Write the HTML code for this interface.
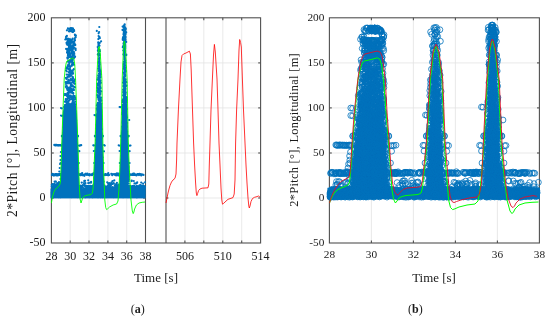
<!DOCTYPE html>
<html lang="en"><head><meta charset="utf-8"><title>Figure</title><style>html,body{margin:0;padding:0;background:#fff}body{width:550px;height:322px;overflow:hidden}svg{display:block}</style></head><body>
<svg width="550" height="322" viewBox="0 0 550 322" font-family="'Liberation Serif', serif" fill="#1a1a1a">
<defs><marker id="mk" markerWidth="8" markerHeight="8" refX="4" refY="4" markerUnits="userSpaceOnUse"><circle cx="4" cy="4" r="2.9" fill="none" stroke="#0072BD" stroke-width="0.8"/></marker><clipPath id="ca"><rect x="50.199999999999996" y="17.8" width="95.69999999999999" height="225.2"/></clipPath><clipPath id="cb"><rect x="325.9" y="17.8" width="217.0" height="225.2"/></clipPath></defs>
<rect width="550" height="322" fill="#fff"/>
<g stroke="#e3e3e3" stroke-width="0.8"><line x1="51.4" x2="145.5" y1="62.9" y2="62.9"/><line x1="51.4" x2="145.5" y1="107.9" y2="107.9"/><line x1="51.4" x2="145.5" y1="153" y2="153"/><line x1="51.4" x2="145.5" y1="198" y2="198"/><line x1="70.2" x2="70.2" y1="17.8" y2="243"/><line x1="89" x2="89" y1="17.8" y2="243"/><line x1="107.9" x2="107.9" y1="17.8" y2="243"/><line x1="126.7" x2="126.7" y1="17.8" y2="243"/><line x1="166" x2="260.6" y1="62.9" y2="62.9"/><line x1="166" x2="260.6" y1="107.9" y2="107.9"/><line x1="166" x2="260.6" y1="153" y2="153"/><line x1="166" x2="260.6" y1="198" y2="198"/><line x1="184.9" x2="184.9" y1="17.8" y2="243"/><line x1="203.8" x2="203.8" y1="17.8" y2="243"/><line x1="222.8" x2="222.8" y1="17.8" y2="243"/><line x1="241.7" x2="241.7" y1="17.8" y2="243"/><line x1="329.4" x2="539.4" y1="62.9" y2="62.9"/><line x1="329.4" x2="539.4" y1="107.9" y2="107.9"/><line x1="329.4" x2="539.4" y1="153" y2="153"/><line x1="329.4" x2="539.4" y1="198" y2="198"/><line x1="371.4" x2="371.4" y1="17.8" y2="243"/><line x1="413.4" x2="413.4" y1="17.8" y2="243"/><line x1="455.4" x2="455.4" y1="17.8" y2="243"/><line x1="497.4" x2="497.4" y1="17.8" y2="243"/></g>
<g stroke="#505050" stroke-width="1.1"><rect x="51.4" y="17.8" width="209.2" height="225.2" fill="none"/><line x1="145.5" x2="145.5" y1="17.8" y2="243"/><line x1="166" x2="166" y1="17.8" y2="243"/><rect x="329.4" y="17.8" width="210" height="225.2" fill="none"/><line x1="70.2" x2="70.2" y1="243" y2="240.6"/><line x1="70.2" x2="70.2" y1="17.8" y2="20.2"/><line x1="89" x2="89" y1="243" y2="240.6"/><line x1="89" x2="89" y1="17.8" y2="20.2"/><line x1="107.9" x2="107.9" y1="243" y2="240.6"/><line x1="107.9" x2="107.9" y1="17.8" y2="20.2"/><line x1="126.7" x2="126.7" y1="243" y2="240.6"/><line x1="126.7" x2="126.7" y1="17.8" y2="20.2"/><line x1="51.4" x2="53.8" y1="62.9" y2="62.9"/><line x1="145.5" x2="143.1" y1="62.9" y2="62.9"/><line x1="51.4" x2="53.8" y1="107.9" y2="107.9"/><line x1="145.5" x2="143.1" y1="107.9" y2="107.9"/><line x1="51.4" x2="53.8" y1="153" y2="153"/><line x1="145.5" x2="143.1" y1="153" y2="153"/><line x1="51.4" x2="53.8" y1="198" y2="198"/><line x1="145.5" x2="143.1" y1="198" y2="198"/><line x1="184.9" x2="184.9" y1="243" y2="240.6"/><line x1="184.9" x2="184.9" y1="17.8" y2="20.2"/><line x1="203.8" x2="203.8" y1="243" y2="240.6"/><line x1="203.8" x2="203.8" y1="17.8" y2="20.2"/><line x1="222.8" x2="222.8" y1="243" y2="240.6"/><line x1="222.8" x2="222.8" y1="17.8" y2="20.2"/><line x1="241.7" x2="241.7" y1="243" y2="240.6"/><line x1="241.7" x2="241.7" y1="17.8" y2="20.2"/><line x1="166" x2="168.4" y1="62.9" y2="62.9"/><line x1="260.6" x2="258.2" y1="62.9" y2="62.9"/><line x1="166" x2="168.4" y1="107.9" y2="107.9"/><line x1="260.6" x2="258.2" y1="107.9" y2="107.9"/><line x1="166" x2="168.4" y1="153" y2="153"/><line x1="260.6" x2="258.2" y1="153" y2="153"/><line x1="166" x2="168.4" y1="198" y2="198"/><line x1="260.6" x2="258.2" y1="198" y2="198"/><line x1="371.4" x2="371.4" y1="243" y2="240.6"/><line x1="371.4" x2="371.4" y1="17.8" y2="20.2"/><line x1="413.4" x2="413.4" y1="243" y2="240.6"/><line x1="413.4" x2="413.4" y1="17.8" y2="20.2"/><line x1="455.4" x2="455.4" y1="243" y2="240.6"/><line x1="455.4" x2="455.4" y1="17.8" y2="20.2"/><line x1="497.4" x2="497.4" y1="243" y2="240.6"/><line x1="497.4" x2="497.4" y1="17.8" y2="20.2"/><line x1="329.4" x2="331.8" y1="62.9" y2="62.9"/><line x1="539.4" x2="537" y1="62.9" y2="62.9"/><line x1="329.4" x2="331.8" y1="107.9" y2="107.9"/><line x1="539.4" x2="537" y1="107.9" y2="107.9"/><line x1="329.4" x2="331.8" y1="153" y2="153"/><line x1="539.4" x2="537" y1="153" y2="153"/><line x1="329.4" x2="331.8" y1="198" y2="198"/><line x1="539.4" x2="537" y1="198" y2="198"/></g>
<g clip-path="url(#ca)">
<rect x="50.4" y="188.5" width="95.3" height="9.9" fill="#0072BD"/>
<polygon points="55.3,189.5 56.6,188 58.4,186.5 59.7,185 60.4,182 60.9,172 61.3,160 61.8,143 62.9,112 64.2,104 65.3,104 66.2,104 67,104 69.1,104 70.9,104 72.9,104 74,104 74.8,104 75.6,104 76.8,112 77.9,143 78.8,170 79.5,190" fill="#0072BD"/>
<polygon points="93.1,188 93.8,173 95.1,143 96.7,104 98,104 98.7,104 99.2,104 99.6,104 100.3,104 101.9,104 102.9,143 103.6,170 104.3,185" fill="#0072BD"/>
<polygon points="118.9,190 119.8,170 120.7,143 122.2,104 123.4,104 124,104 124.4,104 124.8,104 125.6,104 127.1,104 128.3,143 129.2,165 129.9,180" fill="#0072BD"/>
<path d="M71.7 28.2h0M70.4 28h0M67.9 28.4h0M72.9 28.3h0M72.5 28.9h0M68.5 28.5h0M70.3 29.4h0M73.9 29.8h0M70.3 29.4h0M73.5 29.8h0M70.6 29.3h0M71.5 29.8h0M66.9 30.3h0M69.3 29.8h0M71.2 30.3h0M74.1 30.3h0M70.5 30.4h0M74.2 31h0M73 31.3h0M71.2 30.7h0M69.8 30.9h0M71.6 31.4h0M68.9 31.3h0M69.4 31.3h0M73.2 31.8h0M72.3 31.8h0M73 32.1h0M74.9 34.7h0M75.1 35.1h0M75 35.2h0M75.9 35.3h0M66.1 36.6h0M66.9 35.9h0M75.7 36.8h0M75.7 37.3h0M65.9 38h0M66.6 38.7h0M74.9 38.1h0M67.5 38.5h0M72.7 38.5h0M72.6 39.1h0M69.2 39h0M66.9 39.1h0M70.5 39.6h0M74.8 39.7h0M68.7 38.8h0M71 40.3h0M67.7 39.5h0M70.5 39.4h0M65.3 39.5h0M75 40.3h0M70.2 39.7h0M68.5 39.8h0M74.5 40.6h0M71.2 41.1h0M68.3 40.2h0M68.9 41.1h0M71.4 40.4h0M70.7 41.1h0M67.5 40.9h0M71.5 41.2h0M69.1 41.5h0M70.5 40.9h0M74.3 41.4h0M72.6 41.7h0M74.1 41.7h0M67.5 42.1h0M71.2 41.8h0M72.2 42.3h0M67.2 42.2h0M71.7 42.4h0M67.9 42.8h0M66.5 42.9h0M67.8 42.4h0M67.6 43.2h0M67.6 42.9h0M70.7 43.7h0M69.9 42.7h0M66.8 43.9h0M68.3 43.5h0M69.3 43.4h0M74.5 43.3h0M73.4 43.4h0M69.4 44.4h0M73.5 43.8h0M74.9 44.6h0M68.2 44.4h0M75.2 44.5h0M75.3 45.1h0M73.2 45.1h0M68.9 44.6h0M67.3 44.8h0M74.8 45h0M70.2 45.2h0M73.4 44.9h0M72.4 45.3h0M73.7 45.7h0M73.1 45.4h0M74.2 45.1h0M71.3 46.8h0M68.9 46.2h0M69.3 45.8h0M72.3 45.8h0M73.1 46.4h0M71.1 46.5h0M69.1 47h0M70.4 46.9h0M73.5 47.1h0M70.3 47.7h0M71.7 46.8h0M70.9 47.7h0M74.2 47.5h0M69.8 48.2h0M69.8 47.6h0M69.8 47.8h0M71.2 48.7h0M71.3 48.2h0M71.9 47.7h0M70.6 48.1h0M68.1 48.7h0M66.1 48.9h0M70.7 48.3h0M75.6 48.6h0M67.1 49h0M72.9 48.8h0M75.2 49.1h0M68.5 49.5h0M67.2 49.6h0M71 49.7h0M72.8 49.7h0M70.3 49.8h0M75.7 50.1h0M67.3 50.6h0M68.8 49.8h0M69.6 50.9h0M67.3 50.6h0M72 50.2h0M71.1 50.6h0M68.3 51h0M72.8 51.4h0M68.3 51h0M67.1 52.2h0M73.3 51.6h0M68.5 51.8h0M74.1 52.1h0M71.7 52.9h0M68.9 52.3h0M69.2 52.3h0M72.5 52.8h0M71.4 52.8h0M73.9 52.4h0M67.1 52.7h0M73.2 53h0M73.6 53.1h0M68 53.7h0M68.6 53.3h0M70.2 53.5h0M74.3 53.9h0M69.7 53.7h0M73.6 53.2h0M72.7 54.5h0M70.6 53.9h0M68.6 54.4h0M73.1 54.5h0M69.9 54.7h0M73.7 55.1h0M70.1 54.7h0M67.9 55.2h0M72.7 55h0M69.1 55h0M68.6 54.8h0M73.1 54.7h0M73.6 55.2h0M69.6 55.8h0M70.5 55.5h0M74.6 56h0M72.6 56.5h0M70 55.8h0M72.8 56.1h0M69.5 56h0M69.1 56.2h0M75.1 56.8h0M72.6 56.8h0M67.7 57.1h0M69.3 57.1h0M72.2 56.9h0M74.9 57.1h0M72.8 57.4h0M74.1 57.9h0M71.2 57.4h0M68.2 57.2h0M68.5 57.6h0M72 58.8h0M67.3 57.9h0M74.1 57.8h0M73.3 58.6h0M67.7 58.7h0M70.9 59.5h0M72.3 59.9h0M72.6 59.5h0M71.3 59.8h0M72.7 59.5h0M72.6 60.6h0M71.9 60h0M72.6 59.6h0M71.1 60.4h0M70.5 60.1h0M69 60.8h0M68.7 61h0M70.1 61.9h0M67.8 61.6h0M71.8 61.7h0M72.3 61.3h0M69.2 62.2h0M69.4 62.7h0M72.9 63.1h0M73 62.5h0M72.2 63.1h0M72.9 63.3h0M69.3 63.9h0M68.7 64.3h0M68.3 64.7h0M68.9 64h0M73.9 64.8h0M67.9 65.6h0M72 64.6h0M69.2 65.3h0M71.9 65.7h0M68.4 66.2h0M70.7 66.3h0M67.6 66.7h0M70 66.6h0M67 67.3h0M67.7 67.6h0M70.1 67.8h0M69.7 68.9h0M66.3 68.4h0M68.2 68.9h0M68 68.8h0M73.8 69.2h0M70 69.5h0M73.1 70h0M72.9 70.4h0M66 70.5h0M69.5 70.7h0M71.7 70.5h0M70.3 70.9h0M72.5 71h0M66.8 71.3h0M68.8 72.2h0M69.1 72.2h0M72.8 72.3h0M71.8 72.9h0M71.1 72.7h0M71.4 72.6h0M70.7 72.7h0M73 73.7h0M70.2 73.7h0M66.7 74.6h0M71.3 75.1h0M70.7 74.5h0M70.2 74.5h0M70.6 74.7h0M68.3 74.7h0M69.3 75.7h0M71.5 75.7h0M69 76.2h0M72.9 77.1h0M69.7 76.7h0M67.6 76.8h0M66.7 77.6h0M72.5 77.8h0M67.7 77.5h0M65.9 77.9h0M67.2 77.8h0M73.1 78.3h0M72.6 78.5h0M72.4 78.9h0M70.7 79h0M66.5 78.9h0M72.7 79h0M68.5 79.9h0M68.7 80.2h0M74.7 79.5h0M70.4 80.5h0M68.7 80.3h0M70.5 80.5h0M70.5 80.6h0M69.4 80.5h0M67.3 81.5h0M72.1 80.7h0M68.4 81.3h0M73.3 81.1h0M74.3 81.4h0M67.1 82.6h0M73 82.4h0M68.8 82.2h0M65.7 82.2h0M70 83.2h0M74.9 83.8h0M71.3 83h0M74.2 83.6h0M66 83.9h0M67.9 83.5h0M70.7 84.3h0M71.6 84.8h0M70.8 85.2h0M72.3 85.3h0M72.6 86.4h0M71.5 85.7h0M66.8 86h0M73.4 86.3h0M66.1 86.1h0M71.1 86.1h0M74.1 86.9h0M69.8 87.4h0M65.9 86.9h0M75 87.3h0M68 87.6h0M69.4 87.8h0M71.3 88.5h0M68.9 88.5h0M66.8 88.5h0M70.9 88.6h0M73.4 89.2h0M68.6 89.2h0M71.6 89h0M73.5 89.5h0M67.2 89.3h0M67.4 89.9h0M74.1 90h0M70 90.2h0M73 90h0M70.6 89.7h0M68.4 90.2h0M68.7 90.9h0M72 90.2h0M70.3 91.1h0M70.5 90.8h0M69.8 91.6h0M69.1 91.5h0M72 91.6h0M69 92.3h0M68.4 92h0M69.1 92.2h0M70.6 92.5h0M68.5 92.2h0M68 92.7h0M73.2 92.9h0M72.2 92.9h0M67.5 93.1h0M73.3 93.4h0M65.8 94h0M68.6 93.6h0M73.3 93.5h0M65.7 94.6h0M64.8 94h0M67.6 94.9h0M67.7 94.5h0M65 95.2h0M70.8 95.5h0M67.2 95.6h0M73.3 95.5h0M67.1 95.5h0M74.3 96.2h0M69.3 95.7h0M67 96.1h0M72.3 96.5h0M74.8 96.2h0M70.3 97.2h0M70.2 97.4h0M68.5 97.1h0M68.8 96.9h0M73.8 97.3h0M71.8 97.7h0M72.4 97.3h0M72 97.7h0M72.1 98.2h0M68 98.1h0M75.1 97.9h0M69.4 98.6h0M67.3 98.9h0M72.9 98.8h0M72.8 98.5h0M67.4 98.4h0M75 99.5h0M73.1 99.3h0M65.7 99.2h0M73.8 99.9h0M72.8 100.1h0M71.6 99.2h0M75.2 99.4h0M66.7 99.8h0M69.7 99.8h0M68.5 101h0M69 100.3h0M69.2 100.4h0M72.9 101.9h0M64.9 101.7h0M68.5 101.2h0M65.7 101.8h0M66.4 101.4h0M72.9 101.2h0M66.6 101.1h0M75.1 101.8h0M65.7 101.2h0M65.5 101.3h0M68 102.7h0M66.5 101.8h0M67.4 102.3h0M72.4 102.3h0M72.5 103h0M66.6 103.3h0M67.2 102.5h0M66.3 102.6h0M74.3 103.5h0M73.6 102.9h0M71.4 103.8h0M70.7 104.2h0M72.1 103.7h0M68.8 103.3h0M68.7 103.7h0M67.9 104.7h0M75.3 104.4h0M71.6 105.1h0M67.8 104.4h0M70.9 104.9h0M68.1 104.9h0M65.6 105.4h0M66.8 105.3h0M65.5 105.6h0M72.1 105.5h0M66.6 105.6h0M74.3 105.7h0M70.6 106.9h0M67.6 106.4h0M66.2 106.7h0M69.5 106.6h0M65.4 107.3h0M68.4 106.7h0M71 106.9h0M69.6 107.7h0M71.3 107.6h0M64.2 106.9h0M74.3 107.8h0M67.3 107.7h0M73.4 107.7h0M68.1 107.7h0M73.7 107.7h0M70 108.5h0M73.3 108h0M71.7 108.1h0M66.7 108.7h0M65.1 108.5h0M70.8 108.9h0M74.4 109h0M74.1 108.6h0M73.6 109.8h0M66.7 109.7h0M70.1 109.4h0M66.7 109.8h0M72.7 110h0M70.8 109.6h0M74.2 109.7h0M68.1 110.4h0M72.4 110.8h0M74.5 110.6h0M74.6 111.8h0M75.4 111.1h0M72.7 111.1h0M67.4 111.1h0M74.4 111.3h0M74.8 112.2h0M67.2 112.2h0M66.6 112.3h0M69.9 112.5h0M73.4 112.5h0M71.7 111.9h0M69.1 112.8h0M72.8 112.3h0M68.7 113.4h0M71.3 113.2h0M73.4 112.4h0M73.7 113.1h0M66.2 112.5h0M72.5 112.6h0M72.2 112.3h0M73.3 113.7h0M73.8 113.4h0M72 113h0M65.9 113.3h0M66.1 113.6h0M73.8 113.5h0M74.1 114.1h0M75.5 114.2h0M65.2 113.8h0M67.4 113.7h0M64.9 114.1h0M67.4 113.4h0M65.9 114.6h0M66.9 114.8h0M74.3 114.3h0M65.4 114.4h0M67.8 113.8h0M70.9 113.8h0M66.6 114.6h0M74.8 115.2h0M66 114.2h0M75.5 114.6h0M68.3 114.9h0M63.6 115.2h0M71.3 114.5h0M72.7 115.1h0M73.5 115.2h0M70.2 114.9h0M73.9 115.1h0M68.1 115.3h0M75 115.1h0M66.7 115.6h0M73.9 116h0M71.7 115.2h0M73 115.3h0M72.7 116.4h0M75.4 115.4h0M68.6 116.4h0M71.1 115.7h0M71.9 115.9h0M66.4 116.3h0M68.9 115.9h0M74.9 115.8h0M72.3 116.6h0M63.7 116.7h0M71.2 116.6h0M74.5 116.2h0M71.7 116.8h0M70.3 116.9h0M72.7 117.2h0M71.2 117.5h0M73.6 117.9h0M67.6 117h0M69.6 117.6h0M74.3 117.5h0M70.8 117.6h0M64.8 117.9h0M66.8 118h0M69.7 117.6h0M74.1 118.5h0M70.7 118.1h0M74.2 117.4h0M65.3 118h0M71.2 117.9h0M63.9 118.8h0M69.5 118.5h0M67.9 118.4h0M66.5 118.1h0M74 118.5h0M71.3 119.3h0M70.3 119h0M72 118.6h0M74.3 118.8h0M68.5 118.2h0M69.7 119h0M65.7 118.8h0M64.9 119.2h0M64.7 118.7h0M70.8 119.2h0M71.4 119.6h0M68 119.2h0M64.2 119.1h0M65.1 120.3h0M71.9 119.4h0M69.2 119.3h0M74 120.1h0M66.8 120h0M74.1 119.6h0M68.6 120.4h0M66.8 119.9h0M76.1 120.5h0M72.2 120.1h0M66.8 120.2h0M65.6 120.3h0M68.7 120h0M72.5 120.4h0M69.5 120.6h0M74.2 120.7h0M71.2 120.4h0M71.5 120.5h0M75.4 120.5h0M72.6 120.4h0M66 120.7h0M67.5 121.3h0M70.1 121.4h0M74.3 120.7h0M66.8 121.3h0M71.8 121h0M69 121.8h0M64.7 121.2h0M69.8 122.3h0M65.1 121.4h0M72 121.7h0M64.7 121.2h0M72.6 121.9h0M75.1 121.2h0M72.4 121.9h0M68.4 121.8h0M68.6 122.6h0M74.2 122.8h0M75.5 122.2h0M68.4 122.3h0M67.3 122.4h0M70.2 122.4h0M70.1 122.6h0M69.1 123.2h0M72.9 122.5h0M72.7 122.6h0M72.8 123h0M64.9 122.2h0M70 122.6h0M72.7 123.4h0M67.1 123.8h0M69.1 123h0M65.8 123.8h0M73.7 123.4h0M72.7 123.4h0M70.9 122.6h0M64.4 123.8h0M66 123.7h0M67.2 123.7h0M71.1 123.2h0M71.2 123.3h0M68.8 124.1h0M75.1 123.7h0M73.3 124.2h0M69.6 123.9h0M73.5 124.5h0M73.2 124.3h0M64.6 123.9h0M65.6 124.2h0M72.1 124.7h0M69.5 125h0M68.3 124.9h0M65.5 124.7h0M67.5 125h0M69.1 124.4h0M72 124.6h0M72.7 124.9h0M66.9 125.2h0M69.5 125.5h0M71.5 125.2h0M69.9 125.1h0M65.2 125.3h0M71.4 125.1h0M70.5 125.2h0M75.1 125.2h0M75.8 125.6h0M65.7 125.9h0M73.3 125.9h0M66 125.3h0M65.1 125.4h0M67.5 126.3h0M69.4 125.7h0M73.9 126h0M74.5 126.3h0M73.5 126.3h0M74.2 126.3h0M66.9 126.2h0M64 126.6h0M68 126.5h0M70.2 126.5h0M73.7 127h0M67.6 126.8h0M70.7 126.8h0M73.6 126.9h0M64.9 127.2h0M73.9 126.9h0M65.9 126.4h0M68.5 126.8h0M65.5 127.2h0M63.5 127.2h0M72.6 127.4h0M72.3 127.2h0M68.1 127.5h0M70.4 127h0M74.9 126.8h0M66.6 127.6h0M73 127.1h0M65.4 128.1h0M66.2 128.1h0M67.8 128h0M68.8 127.9h0M68.9 127.9h0M70.4 127.7h0M68.4 128.9h0M71 127.9h0M72 128.1h0M71.9 128h0M67.6 128.2h0M73 128h0M64.3 128h0M66.1 128.3h0M67.3 128.9h0M66.9 129.2h0M72.6 128.2h0M69.3 129h0M65.9 128.7h0M75.2 128.2h0M67.4 129.5h0M74.7 128.9h0M65.8 128.8h0M66.8 129.1h0M73.5 129h0M73.9 129.5h0M71 129h0M71.8 129.1h0M67.3 129.6h0M71.7 129.5h0M70.1 130h0M69 130.4h0M75.7 129.9h0M66.1 130h0M73.9 129.3h0M65.5 129.7h0M71.9 129.9h0M74.9 130.4h0M72 130.3h0M66 130.9h0M74.3 130.4h0M75.9 130.4h0M67 130.5h0M74.4 130.1h0M65.3 130.8h0M73.6 130.4h0M64.6 130.6h0M73.9 130.7h0M64.5 130.8h0M69.9 130.9h0M75.2 130.9h0M72.3 131.1h0M66.4 130.9h0M70.9 131.7h0M70.5 131.6h0M65.2 131.6h0M76 131.3h0M73.3 131.6h0M72 131.1h0M69.6 131.4h0M65.7 131.7h0M69.5 132.2h0M73.8 132h0M67.5 131.8h0M71.1 131.7h0M64.3 132h0M76.2 132h0M68.5 132.1h0M70 131.8h0M73.9 132.7h0M73.3 132.4h0M67.1 132.2h0M68.1 132.4h0M67.2 132.7h0M63.3 132.8h0M76.1 132.9h0M75.8 132.3h0M63.8 133.1h0M68.5 132.8h0M71.2 133.3h0M66.6 132.6h0M65.2 133h0M69.7 133.1h0M68.1 132.9h0M65.5 133.4h0M64.7 133.4h0M65.8 133.8h0M64.3 133.3h0M71.5 133.9h0M75.6 134.2h0M67 133.7h0M74.1 134h0M73 133.7h0M67.4 133.6h0M67.9 133.6h0M72.9 133.3h0M75.1 133.7h0M66.9 134.4h0M64.5 134h0M72.6 134.5h0M69.7 134.6h0M68.9 133.9h0M69.7 134h0M75.4 134.8h0M65.5 134.6h0M67.1 134.7h0M75.4 134.9h0M65.1 134.8h0M63.2 135.2h0M73.7 134.6h0M73.6 134.5h0M65.9 135.2h0M68.1 134.6h0M70.6 135.1h0M66.2 135.6h0M68.8 135.2h0M70.9 134.7h0M68.1 135.4h0M70 134.8h0M72.2 135.7h0M70.7 135.6h0M70 135.6h0M66.8 135.3h0M69.2 136h0M68.2 135.5h0M72 135.4h0M73.8 135.5h0M72.9 136.2h0M67.9 136.5h0M76.3 136.4h0M70.7 136.5h0M66.5 136.4h0M72.8 136.1h0M66.9 136.3h0M65.5 136.9h0M65.6 136.4h0M71.1 136.8h0M72.8 136.6h0M74.4 136.8h0M72.5 137.4h0M67.8 136.4h0M63.2 137.4h0M66.4 136.9h0M66.1 137h0M73.9 137.2h0M73.8 136.8h0M71.3 137.5h0M63.3 137.6h0M69.7 137h0M75.6 137.3h0M66 137.4h0M64 137.3h0M69.2 137.8h0M75 137.6h0M76.4 137.9h0M73.3 137.6h0M72.9 137.8h0M63.6 138.4h0M67 137.8h0M64.1 138.7h0M76.1 138.2h0M71.7 138.3h0M66.7 138.4h0M64.8 138.1h0M74.9 138.4h0M75.3 139h0M75.2 139.2h0M72 138.6h0M64.7 138.9h0M66.5 139.2h0M70.1 138.7h0M67.8 138.2h0M69.7 139.1h0M67 139.4h0M65 139.5h0M76.7 139.3h0M72 139.4h0M75.7 139.3h0M70.7 139h0M68.9 139.1h0M75.4 138.6h0M69.1 139.1h0M76 139.6h0M64.8 139.4h0M73.9 139.6h0M73.6 139.7h0M72.7 139.4h0M72.9 139.8h0M76.1 139.4h0M67.1 139.8h0M70.6 140.1h0M65.3 140.9h0M71 140h0M71.8 140.1h0M67.6 140.7h0M66.3 140h0M69.1 140.1h0M66.4 140.8h0M68.5 141.3h0M74.9 140.9h0M67.6 141h0M72 140.3h0M72.1 140.3h0M69 140.9h0M67.4 140.4h0M73.4 141.6h0M64.2 140.8h0M74.3 141.6h0M67.5 141.5h0M74.2 141.6h0M65.2 141.4h0M71.8 140.7h0M63.2 141.2h0M75.1 142h0M65.4 141.5h0M66.6 142h0M69.4 141.9h0M67.8 141.5h0M74.3 141.5h0M74 141.6h0M65.9 141.3h0M70.4 141.9h0M75.3 142.7h0M73.9 141.7h0M67.3 142.2h0M72.4 142.3h0M72.7 142.2h0M65.8 142.2h0M69.9 142.8h0M68.7 142.6h0M74.3 142.7h0M66.2 142.9h0M70.4 142.8h0M75 143h0M72.7 142.5h0M66.7 143h0M70.1 143.2h0M66.9 143.1h0M69.6 143.3h0M72.3 143.4h0M62.8 143.7h0M75 143.7h0M76 142.9h0M64.6 143.1h0M74.8 143.5h0M70.9 144.2h0M64.1 143.4h0M69.2 143.7h0M64 143.2h0M66.9 143.6h0M72.4 143.8h0M66.9 143.5h0M75.4 144.2h0M67 143.6h0M67.6 143.9h0M67.6 143.8h0M71.1 144h0M73.6 143.9h0M70.3 144.2h0M75.3 144.3h0M76.5 144.2h0M69 144.8h0M72.4 144.4h0M63.6 144.1h0M74.1 145h0M75.9 145.2h0M72.3 144.8h0M75 144.5h0M65 144.9h0M71 145.3h0M66.9 145.8h0M65.4 145.2h0M69 145.2h0M65.9 144.8h0M75.9 145h0M64.7 145.5h0M65.1 145.3h0M72.8 145.7h0M69.3 145.9h0M68.8 146.2h0M70.9 145.4h0M73.4 145.9h0M69.2 146.2h0M68 145.6h0M71.8 146.1h0M64.1 146.4h0M74.3 146.7h0M71.2 145.9h0M67.6 146.4h0M67.2 146.3h0M70 146.1h0M76.2 146h0M73.8 146.5h0M67.2 145.9h0M75.7 147.3h0M69 147.2h0M64.5 146.1h0M74.6 146.5h0M63.7 146.9h0M73.9 147.3h0M63.5 146.6h0M68 146.3h0M72.8 147.5h0M68.8 147.3h0M73.1 147.2h0M63.8 146.6h0M73.3 147h0M74.6 147.2h0M65.4 147.6h0M65 146.8h0M76.1 147.9h0M74.1 148.3h0M65.1 147.8h0M63.9 147.5h0M63.7 147.4h0M68.7 147.8h0M69.9 147.2h0M69.3 147.6h0M64.5 148.3h0M71.6 147.6h0M75.1 148h0M65 148.7h0M68.2 148.2h0M72.4 148.3h0M65.5 148.3h0M70.4 148.1h0M65.3 148.4h0M72.3 148.8h0M64.9 148.9h0M73.3 148.6h0M68.5 148.8h0M77.1 149h0M76.6 148.6h0M69 148.8h0M72.7 149.9h0M74.3 149.7h0M68.3 149h0M67.2 148.7h0M68.1 149.3h0M65.5 149.3h0M67.6 149.4h0M62.6 149.1h0M69.1 150.3h0M71.3 150h0M71 149.8h0M71.6 149.5h0M66.1 149.6h0M64.2 149.5h0M73.3 149.5h0M67.8 149.9h0M69.7 149.7h0M71 150.2h0M66.8 150.7h0M71.8 149.8h0M64.6 149.8h0M70.9 150.3h0M67.1 150.9h0M77.2 150h0M64.6 151.2h0M69.3 151h0M67.2 150.5h0M63.9 150.7h0M65.7 150.1h0M68.6 150.4h0M70.4 150.6h0M67.8 150.2h0M71.4 152h0M64.3 151.7h0M63.9 150.7h0M71.7 151.5h0M66.9 151h0M75.6 151.1h0M73.8 150.9h0M71.9 151.4h0M67.8 151.6h0M75.1 152.3h0M65.2 151.6h0M73.2 151.8h0M69.4 151.6h0M69.9 151.9h0M66.7 152.3h0M66.3 151.9h0M67.5 151.9h0M73.4 151.8h0M63.7 152.4h0M70.8 152h0M76.3 151.7h0M65.9 152.7h0M63.6 152.2h0M72.1 152.6h0M63 152.5h0M64.8 152.6h0M69.1 152.7h0M74.5 152.6h0M71.6 152.5h0M65.1 152.3h0M72.2 153.2h0M74.2 152.3h0M64.9 153h0M69.7 152.8h0M72.8 152.8h0M72.4 153.3h0M67 153h0M74.3 153.3h0M70.3 153.3h0M67.6 153.5h0M68 152.8h0M64.4 153h0M73.8 153.9h0M66.5 154.2h0M68.6 153.3h0M72.5 153.5h0M72.3 153.8h0M66.3 154.4h0M66.4 153.4h0M64 153.7h0M63.1 154.8h0M75.6 154.3h0M75.3 154.3h0M73.3 153.6h0M67.6 154.7h0M71.8 154h0M77 154.7h0M72.9 154.5h0M67.7 155h0M66.8 154.4h0M75.6 154.6h0M70.3 155.2h0M70.1 154.4h0M70 155h0M74.6 154.7h0M66.6 154.6h0M66.7 155.2h0M70.3 155.2h0M75.6 155.1h0M70.3 155.4h0M69.6 155.5h0M68.9 154.8h0M72 155.6h0M66.6 155.4h0M72.6 155.8h0M69.1 155.8h0M63.7 156.3h0M68.1 155.2h0M70 156.4h0M76.7 156h0M71.6 155.7h0M65.2 155.9h0M75.6 155.7h0M65.3 155.7h0M70.1 156.1h0M67.4 155.8h0M72.5 155.9h0M76.4 156.2h0M75 156.1h0M66.1 156.3h0M65.2 156.3h0M62.6 156.9h0M72.3 156.3h0M69.7 156.9h0M68.6 156.6h0M72.6 157h0M67 156.7h0M74.9 157h0M76.5 157h0M75.1 157h0M75.4 156.5h0M63.8 157.2h0M73.1 157.2h0M70.9 157.2h0M72.3 157.2h0M73.7 156.6h0M75.6 157.1h0M74.3 156.9h0M69.1 158h0M68.9 157.7h0M70 158h0M70.6 157.2h0M74.4 157.3h0M70.1 157.9h0M71.3 157.6h0M63.5 158h0M65 158.3h0M63.1 158.6h0M73.7 158.2h0M67.8 158h0M64.7 158.5h0M67.9 158.2h0M73.3 158.3h0M64.9 158.1h0M77.1 158.6h0M75.8 158.4h0M65.8 158.6h0M71 158.9h0M65.8 158.8h0M71.3 158.4h0M70.7 158.7h0M69.5 158.5h0M66 159.5h0M74.8 158.8h0M71.8 159.1h0M72.4 158.9h0M76.2 159.4h0M76.1 159.4h0M69.5 159.8h0M76.7 159.2h0M65.4 160h0M72.9 160h0M69 159.7h0M63.3 159.8h0M75.9 160.1h0M69.4 159.5h0M66.7 159.9h0M75.8 159.7h0M74.2 160.5h0M67.5 160.4h0M66.6 159.8h0M69.4 160.3h0M67.3 160.8h0M68.3 160.3h0M67.4 160.7h0M65.2 160.6h0M74.3 161.1h0M69.6 160.7h0M71.5 160.7h0M66 160.6h0M75.4 161.4h0M67 160.3h0M69.6 160.5h0M67.7 160.9h0M62.8 161.2h0M74.2 161.2h0M73.8 160.6h0M64.3 161.1h0M74.6 161.5h0M63.3 161.3h0M73.7 161h0M65.6 161.7h0M70 161.4h0M73 162.1h0M66.6 161.5h0M66.9 161.9h0M64.6 162.3h0M74.9 161.9h0M67.8 162h0M76.4 161.2h0M67.7 161.6h0M68.5 161.7h0M74.1 162.2h0M72.7 162.4h0M67.3 162.7h0M71.5 162.7h0M65.1 161.7h0M63.4 162.7h0M76.2 161.7h0M74.2 162.6h0M64.7 162.9h0M65.2 163.1h0M73 162.5h0M73.3 162.1h0M72.7 162.8h0M67.5 163.1h0M74 162.3h0M68.5 162.4h0M76.1 163.1h0M73.7 163.5h0M72.1 162.8h0M68.6 163.4h0M64 163.6h0M65.2 163.5h0M69.8 163.5h0M63.5 163.3h0M68.8 163.7h0M70 163.9h0M65.1 163.5h0M76.4 163.9h0M68.7 163.1h0M63.8 163.3h0M72.4 163.3h0M67.9 163.2h0M77.1 163.5h0M67.9 163.6h0M70.2 163.8h0M76.3 164.7h0M68.1 164.1h0M62.3 164.4h0M75 164.5h0M71.9 164.6h0M73.3 164.6h0M64.1 164h0M77.2 164.4h0M72.4 163.9h0M65.6 164.8h0M71.2 164.8h0M70.5 165h0M71.6 165.3h0M67.8 165.4h0M71 165h0M72.1 164.9h0M69.4 164.9h0M69 164.6h0M71.7 165.4h0M68.6 164.9h0M67.4 165.7h0M69.7 165.6h0M66.4 165.7h0M68.4 164.9h0M70.3 164.7h0M77.8 164.8h0M67.3 164.9h0M72.2 166.4h0M62.7 165.3h0M71.1 165.4h0M75.6 166.5h0M66.4 165.7h0M70.2 165.8h0M62.6 165.4h0M68.9 166.1h0M74.5 165.8h0M63.3 166.8h0M73.6 166h0M73.1 166h0M75 166.6h0M68.7 166.5h0M66.7 166.1h0M72.4 166.7h0M75.2 167h0M66.7 166.6h0M71.8 167.1h0M74.8 166.6h0M65.6 166.3h0M76.2 166.8h0M75.3 167.3h0M76.7 167.1h0M77.5 166.8h0M62.6 167.2h0M73.6 167.4h0M67.6 167.2h0M68.4 167h0M69.9 166.9h0M63.2 167.6h0M62.4 167h0M66.4 167.5h0M73.8 167.3h0M67.5 167.7h0M62.1 167.7h0M66 168h0M66.9 167.7h0M75.9 167.6h0M65.3 168.2h0M63.5 167.4h0M68.8 168.5h0M64.2 168.7h0M64.3 168.6h0M71.8 168.2h0M67.3 168.6h0M67.5 168.9h0M66.2 168h0M77.6 168.6h0M69 168.6h0M76.2 168.5h0M70.2 168.8h0M62.1 169h0M72.6 169.2h0M70.9 168.9h0M69.6 168.9h0M72 169.1h0M74.2 168.8h0M70.6 168.5h0M71.3 169.1h0M74.7 169.7h0M69.7 169.2h0M71.9 169.9h0M73.4 169.5h0M72.5 169.5h0M72.3 169.4h0M72.2 169.8h0M76.4 169.3h0M68.2 169.1h0M76.7 169.6h0M75.7 169.7h0M66.6 169.9h0M62.9 169.8h0M70.4 169.7h0M74 169.2h0M70.5 170.2h0M76.2 169.7h0M71.7 170.3h0M64 170.2h0M63.6 170.7h0M67 170.3h0M72.2 170.5h0M63.7 169.9h0M73 169.6h0M75.2 170.7h0M69.9 171h0M68.4 171.3h0M68.9 171h0M69.6 170.7h0M63.6 171h0M66.2 170.5h0M75.9 170.4h0M77 170.4h0M74.6 170.7h0M73.6 171.1h0M71.6 171.4h0M64.1 171.6h0M64.3 171.3h0M75.7 171.2h0M69.2 171.2h0M70.3 170.8h0M69.2 171.5h0M72.1 171h0M71.8 171.2h0M69.2 171.2h0M65.9 171.5h0M69.4 171.8h0M67.4 171.7h0M69.8 171.6h0M76.7 171.7h0M67.7 171.2h0M65 172.2h0M64.3 172h0M68.7 172.4h0M73.9 172.1h0M68.9 172.9h0M72.5 172.5h0M72.5 171.6h0M63.4 172.3h0M73.6 172.3h0M76.3 171.7h0M72.4 173.1h0M75.8 172.4h0M71.7 172.6h0M77.4 173h0M71.3 172.9h0M65.9 172.4h0M67.1 173.2h0M70.6 173.4h0M63 172.7h0M72.9 173.5h0M72.7 173.6h0M73 172.9h0M67.8 173h0M73.2 173.5h0M71.6 173.4h0M64.6 173.6h0M65.5 173h0M69 172.6h0M66.4 173.9h0M64.9 173.2h0M70.2 174.4h0M62.2 173.7h0M75.5 173.9h0M71.5 173.4h0M73.2 173.6h0M64.3 173.8h0M72.4 174h0M66.9 174.6h0M65 174.5h0M65.4 174.7h0M75.4 174.8h0M74.9 174.1h0M74.6 174.1h0M65.4 173.7h0M68.2 174.4h0M62.9 174.9h0M71 175.3h0M77.7 175.2h0M66.1 174.5h0M72.8 174.7h0M68.5 175.2h0M62.9 174.7h0M68.3 174.8h0M66.9 175.7h0M68.3 175h0M65.6 175.5h0M62.4 175h0M67.8 175.5h0M75.8 175.2h0M76.3 174.7h0M75 175h0M70.8 175.1h0M76.3 175.7h0M72.6 175.3h0M72.9 175.3h0M65.5 175.8h0M63.2 176.1h0M70.7 175.5h0M70.6 175.7h0M68.3 175.5h0M72.2 175.6h0M67.9 176.6h0M70.8 176.1h0M74.3 175.8h0M74.2 175.9h0M73 176h0M65.8 176.2h0M75.9 176.8h0M69.1 176.4h0M70.7 176.5h0M70.8 177.2h0M71.1 176.4h0M72.1 176.9h0M76.8 177.1h0M72.8 177.1h0M70.1 176.9h0M71.1 176.4h0M71.4 176.8h0M68.4 176.9h0M64.2 177.4h0M67.1 177.3h0M77.9 176.8h0M66.8 177.2h0M75.1 176.9h0M75.5 177.5h0M67.2 177.2h0M72.4 176.9h0M63.5 177.4h0M62.9 177.8h0M63.2 178.2h0M64.5 178h0M76.1 177.7h0M64.1 177.6h0M71 177.6h0M73 177.1h0M62.6 177.9h0M75 177.5h0M72.3 178.3h0M76.8 178.7h0M78 177.9h0M69.4 178.6h0M66.9 178.1h0M65.9 178.4h0M77 177.6h0M72.9 178.7h0M68.3 177.9h0M64.9 178.4h0M65.8 178.8h0M75.2 178.8h0M72.5 178.8h0M74.4 179h0M64.7 178.5h0M73.5 178.4h0M72.9 178.9h0M77.8 178.6h0M73.4 179.7h0M73.7 179.6h0M71 178.9h0M77.1 179.3h0M71.5 178.9h0M70.2 179.5h0M63.7 179.3h0M73.6 178.9h0M72.1 179.3h0M70.8 179.8h0M67.6 180.1h0M65.4 180.1h0M67.1 179.3h0M63.8 179.6h0M73.1 179.6h0M62.9 180.1h0M70.3 179.5h0M75.4 179.2h0M70.2 180.4h0M71.3 180.1h0M74.3 180.2h0M64.5 180.1h0M64.8 180.3h0M75.3 180.1h0M62 180.7h0M68.4 180.5h0M75.7 180.8h0M74.6 180.5h0M65 180.8h0M74.1 180.6h0M63.9 180.9h0M66.1 180.8h0M68.9 180.6h0M70.6 180.4h0M71.4 181.2h0M74.7 181.1h0M68.9 181.1h0M75 181.3h0M68.6 181.5h0M62.8 181.5h0M70 181.1h0M62.4 181.4h0M64.9 181.1h0M68 181.3h0M66.3 181.2h0M72.7 181.7h0M70.4 181.3h0M74.5 181.5h0M66.5 181.6h0M61.8 182.3h0M76.2 181.7h0M77 182h0M68.8 181.4h0M75.3 182h0M64.4 182.9h0M66.1 182.6h0M72.8 181.8h0M66.4 181.9h0M67.8 181.5h0M61.7 182.4h0M64.8 182.9h0M77.3 182.2h0M64.1 182.1h0M67.1 182.5h0M71.4 182.7h0M77.7 182.8h0M72.8 182.7h0M67.2 182.4h0M66.8 182.6h0M70 183.1h0M69.9 182.4h0M63.6 182.8h0M68.9 183.2h0M72.9 183.4h0M65.6 183.5h0M66 183.1h0M74.6 183.3h0M65.5 183.7h0M66.2 183.5h0M63.4 182.9h0M75.2 182.8h0M73.7 183.8h0M77 183.9h0M69 184.3h0M69.5 184.3h0M66.3 183.6h0M69.5 183.4h0M73.4 183.5h0M68.2 183.9h0M62.5 183.8h0M71.8 184.3h0M66.1 184.6h0M62 184.5h0M62.3 183.8h0M70.3 183.7h0M77.2 184.6h0M66.4 184.2h0M63.2 184.1h0M63.2 184h0M77.3 184.5h0M78 185.4h0M72.5 185.3h0M67.3 184.5h0M64.9 185.3h0M74.1 184.8h0M62.9 184.8h0M65.5 185.2h0M74.5 185.2h0M71.3 184.7h0M72.2 185.1h0M73.2 185.3h0M75.2 185h0M68.1 185.6h0M71.1 185h0M74.4 185.1h0M63.6 185.5h0M72.7 185.3h0M65.9 186.2h0M66.8 186h0M73.7 185.8h0M67.7 185.5h0M64.9 185.9h0M71.5 186.3h0M66.7 185.8h0M64 185.9h0M63.6 186h0M64.2 186.3h0M62.2 186.4h0M76.8 186.3h0M64.8 185.9h0M63 186.1h0M74.3 185.8h0M74.9 186.5h0M66.3 186h0M68.6 186.3h0M64.7 186.9h0M72.1 187.2h0M60.3 186.6h0M63.8 187.3h0M69.6 186.9h0M76.8 186.7h0M74.2 186.8h0M61.7 186.9h0M78 186.7h0M65.2 186.4h0M74.7 187.6h0M76.4 187.8h0M74.1 187.4h0M77.4 187.7h0M65.5 187h0M67.3 187.2h0M63.3 186.8h0M76.5 186.9h0M76.3 186.9h0M70.6 187.1h0M62.1 187.3h0M71.5 187.7h0M69.7 187.9h0M69.4 187.5h0M70.7 187.9h0M64.7 187.7h0M59.1 187.6h0M68 187.6h0M60.9 187.9h0M61.5 188.4h0M70.2 188.7h0M71.9 188h0M58.3 188h0M76.1 188.5h0M69.4 187.9h0M65.6 188.2h0M75.5 188.4h0M71.7 188.4h0M75.5 188.5h0M73.3 188.5h0M66.1 188.6h0M71.5 188.4h0M77.6 189.2h0M57.3 188.5h0M60.1 188.9h0M71.7 188.9h0M77 188.8h0M67.7 188.9h0M76.3 189.7h0M67 189.2h0M74 189.3h0M62.5 188.8h0M74.4 189h0M56.7 188.8h0M63 189.4h0M59.8 189.1h0M58.7 189h0M59.3 189.4h0M57.9 189.3h0M63.7 190.1h0M68.8 189.4h0M59.7 189.4h0M70.8 189.5h0M70.2 190.1h0M77.1 189.5h0M72.4 190.2h0M64.8 190h0M71.6 190.4h0M74.9 190.5h0M73.2 189.9h0M72.6 190h0M73.5 189.8h0M72.9 189.9h0M64.7 190h0M67.9 190.9h0M76.2 191.2h0M69.6 190.7h0M73.4 191.1h0M67.6 191h0M76.2 190.8h0M75.7 190.9h0M69.5 191.4h0M66.7 190.9h0M67.5 190.6h0M73.3 191.6h0M72 191.5h0M76.3 191.3h0M74.9 191.2h0M71.7 190.7h0M65.7 191.3h0M73.2 191.4h0M69.8 190.7h0M76.1 190.8h0M66.4 191.9h0M73.9 191.4h0M73.1 192h0M71.8 191.4h0M63.4 191.4h0M68.8 191.7h0M73.3 192.1h0M71.3 191.6h0M75.1 191.2h0M72.3 192.1h0M67.1 192.1h0M64.6 192.3h0M63.2 192.2h0M72.6 192.7h0M69.8 191.8h0M63.9 192.6h0M75.1 192.1h0M64.6 191.6h0M75.5 192.5h0M74.4 192.9h0M64.6 192.8h0M62 192.6h0M65.8 192.5h0M63.3 192.6h0M74 192.8h0M68.8 192.8h0M66.9 192.2h0M64 192.9h0M75 193.1h0M75.7 193.5h0M65.3 193h0M73.2 192.8h0M74.2 193.5h0M69.6 193.4h0M63 192.9h0M68 193.9h0M65.7 192.9h0M70.7 193.7h0M64.7 193.3h0M65.7 193.2h0M67.7 193.6h0M64.1 194h0M64.3 194h0M65.3 194h0M71.2 193.4h0M67.9 193.6h0M68.3 193.8h0M71.7 194.8h0M77 194h0M75.1 194.7h0M64.7 193.9h0M67.8 194.2h0M69.2 194.6h0M75.3 194.1h0M66.7 194.3h0M69.1 194.5h0M74.3 194.6h0M73.8 194.4h0M63.2 194.6h0M64.5 195h0M72.5 194.2h0M73.5 194.7h0M65.3 195h0M64.9 194.3h0M65 194.5h0M65.2 194.6h0M62.7 194.9h0M75.7 195.1h0M63.1 194.7h0M67.3 195.1h0M69.6 195.7h0M65.7 195h0M65 195.4h0M75.1 195.2h0M69 196.2h0M76.4 195h0M70.1 196.4h0M76.1 196.1h0M67.2 196.1h0M75.9 196.2h0M75.7 195.6h0M70.7 195.9h0M68.2 196.1h0M99.3 27h0M96.8 30.9h0M99.1 32h0M98.6 33.3h0M98.6 36h0M99.4 36.8h0M99.9 38.1h0M99.1 38.1h0M98.3 39.1h0M101.1 41.3h0M98.2 42.4h0M99.7 42.9h0M98.3 43.8h0M98.8 44.2h0M98.5 45.3h0M99.5 45.7h0M98.3 46.4h0M97.7 47.1h0M99.6 49.8h0M98.2 49.1h0M97.9 50.6h0M98 50.9h0M99.9 51.2h0M98.7 53.2h0M98.2 53.5h0M99.4 53.7h0M97.8 54.6h0M99.6 54.5h0M99 54.8h0M99.7 55.4h0M98.9 55.9h0M99.2 57.8h0M98.9 58.8h0M99.3 58.7h0M98.9 59.1h0M99.1 59.6h0M99.2 60.3h0M99 61h0M99 61.3h0M99.3 61.6h0M99.7 62.7h0M98.8 62.3h0M98.6 62.2h0M99.4 63.5h0M99.8 64.2h0M99 63.8h0M99 65.3h0M99.1 65.4h0M99.6 65.2h0M99.5 66.9h0M99.8 67h0M98.8 66.5h0M99.1 67.4h0M98.8 68.2h0M99.6 67.5h0M99.7 68.4h0M98.7 69h0M98.2 68.7h0M99 68.6h0M99.7 70.3h0M99.2 69.9h0M100.1 70.1h0M100.3 71.2h0M98.6 70.9h0M99.8 71.6h0M99.3 71.7h0M99.4 72h0M100.2 72.8h0M99.2 73.5h0M99 73.6h0M100.3 74.2h0M99.6 73.9h0M100.4 75h0M98.2 75.4h0M100.6 74.6h0M99 75.5h0M98.7 76.7h0M98.9 76.4h0M99 76.2h0M98.5 76.8h0M100.6 77.1h0M98.6 77.4h0M99.4 77.8h0M98.2 77.7h0M98.6 78.6h0M99.7 78.8h0M98.7 79.3h0M99.2 78.9h0M97.9 79.4h0M99.6 79.9h0M97.5 79.6h0M98 79.8h0M99.9 80.2h0M98.8 81.1h0M100.1 80.9h0M99.3 81.9h0M100.6 80.7h0M100.2 81.7h0M98.9 82h0M100.2 82.7h0M100.9 82.8h0M98.3 83.5h0M98 83.3h0M99 84h0M97.5 83.8h0M99.9 84.3h0M99.3 84.4h0M98.3 84.7h0M99.4 84.9h0M98.5 85h0M99.3 86.3h0M97.9 85.5h0M99.5 86.7h0M100.1 86.2h0M100.1 87h0M97.4 87.7h0M100.1 87.6h0M100 88h0M100.7 88.1h0M100.1 87.8h0M100.3 88.2h0M98.6 89.2h0M98.6 88.6h0M98 89h0M99.6 89.5h0M98.5 90h0M99.7 89.3h0M99.9 90h0M98.4 90.2h0M97.2 90.8h0M98 90.4h0M101.2 91.4h0M99.2 91.9h0M98.4 91.8h0M99.3 91.6h0M99.8 92.3h0M99.6 92.1h0M98.8 92.2h0M98 92.7h0M99.7 93h0M99.4 93.9h0M100.4 93.5h0M99.4 93.1h0M99.9 94.1h0M99.5 94.7h0M99.8 94.3h0M99.3 94.3h0M99.4 94.5h0M100.3 94.4h0M99.8 94.2h0M98.5 95.8h0M99.8 94.5h0M97.2 95.1h0M98.9 95.7h0M97.9 96.6h0M98.8 95.9h0M99.6 96.2h0M99 96.6h0M99.3 96.3h0M97.7 97.1h0M101.1 97.5h0M100.5 97.8h0M99.7 97.9h0M98.4 97.8h0M98.5 98.2h0M100.7 98h0M98.5 98.4h0M98.3 99h0M100.9 99h0M99 99h0M99.6 99.3h0M99.5 100.1h0M99.5 100h0M100.7 100h0M98.8 100.4h0M99.2 100.9h0M101.3 100.5h0M100.3 101.6h0M99.5 101.4h0M99.6 101.8h0M99.3 101.2h0M99.7 102.1h0M100.8 101.7h0M99.5 102.7h0M99.9 102.2h0M100 102.6h0M100.4 102.8h0M99.1 103.3h0M97.9 102.8h0M101.3 103.6h0M100 103.6h0M99.7 103.4h0M100.1 104.1h0M97.5 103.9h0M98.4 104.9h0M99.6 105.2h0M100.7 104.8h0M96.9 105.3h0M99.4 104.8h0M98.4 105.6h0M97.3 105.2h0M99.6 105.5h0M97.5 105.5h0M100.3 106.2h0M100 106.4h0M98.2 106.2h0M97.9 106.7h0M100.4 107.6h0M98 106.9h0M98.2 107.7h0M100 107.1h0M97.4 108.3h0M100.9 107.9h0M98.2 107.7h0M100.2 108.1h0M96.9 108.4h0M100.2 108.9h0M97.8 108.1h0M98.5 109.5h0M99.7 109.5h0M96.9 109h0M97.3 109.7h0M98.6 110.1h0M98.2 109.5h0M97.4 110.5h0M101.2 109.9h0M99.8 110.1h0M101.3 111.2h0M99.8 110.7h0M98.9 111.2h0M100.9 111h0M100.3 110.7h0M100.3 111.4h0M100 111.2h0M98.5 111.4h0M98.7 112.1h0M100.2 111.9h0M97.8 112.1h0M99.9 112.4h0M101.2 112.7h0M98.7 112.3h0M98.3 113h0M99.1 113.6h0M100 113.3h0M100.5 113.3h0M98.9 113.5h0M100.3 114.4h0M100.1 114.2h0M101.2 114.8h0M100.4 114.4h0M96.8 114.4h0M99.2 114.7h0M99.2 115.7h0M98.8 115.5h0M100.7 115.9h0M101.3 116.1h0M96.9 116.4h0M99.5 115.7h0M98 116.1h0M100 116.4h0M99.5 117.1h0M100.5 116.2h0M100 117.6h0M98 117h0M97.4 117.3h0M99.5 118h0M97.2 117.7h0M98.4 117.8h0M97.3 118h0M98.3 117.8h0M100 117.8h0M98.6 118.4h0M100.3 119.2h0M99.9 119h0M100.4 119.9h0M99.6 119h0M98 119.3h0M97.9 120.1h0M101.1 120.1h0M101.4 119.1h0M99.1 120.4h0M99.9 120.4h0M100.1 120.2h0M99 121.4h0M101 120.9h0M99 120.6h0M99.4 121.5h0M100.5 121.3h0M97.3 121.3h0M100.8 122.3h0M101.3 121.2h0M99.9 121.5h0M99.8 122h0M98.2 122.1h0M99.7 122.6h0M99.9 122.7h0M98 122h0M99.7 122.6h0M100.1 123.4h0M99.1 123.3h0M99.3 123.5h0M100.1 123.3h0M98.2 124.1h0M99 123.3h0M99.7 124h0M101.2 123.7h0M98.4 124.5h0M98.8 124.4h0M98.9 124.7h0M99.7 125.3h0M99.3 125h0M98.2 125.4h0M96.6 124.8h0M100.5 126h0M98.6 125.9h0M100.2 125.3h0M99.6 125.8h0M98.6 125.6h0M100.1 126h0M100.3 126.1h0M99.7 127.1h0M100.4 126.5h0M99.4 126.8h0M98.9 127.4h0M100.1 126.9h0M98.2 127.4h0M99.7 127.4h0M97.8 128h0M97 127.8h0M100.2 128.3h0M96.5 128.7h0M100.8 129.1h0M97.4 128.9h0M98.6 128.3h0M96.6 128.8h0M100.1 129.2h0M98.6 128.9h0M97.9 129.9h0M101.7 129.2h0M100.4 129.9h0M99.9 130.3h0M99.2 130.6h0M98.2 130.6h0M96.7 130.9h0M100.3 130.7h0M100.3 130.4h0M97.7 131.6h0M97.6 131.3h0M96.4 131.8h0M97.2 131.7h0M99.8 131.4h0M96.8 132.1h0M96.2 132.7h0M98.1 132.7h0M97.9 132.7h0M98.7 132.9h0M98.1 132.6h0M97.2 132.4h0M99.2 133.8h0M98.1 133.6h0M98.7 132.7h0M96.6 133.7h0M101.6 133.4h0M98 133.6h0M99 133.7h0M101.8 134.1h0M98.2 133.6h0M101.6 134.2h0M98.6 134.9h0M98.9 135.2h0M100.3 135.5h0M98.8 135.1h0M99 135.6h0M99.8 135.7h0M101.1 135.5h0M96.2 135.6h0M99.7 136.1h0M99 136.4h0M97.9 136.3h0M100.1 137.1h0M99.9 136.8h0M100.6 136.9h0M97.9 136.7h0M101.1 137.3h0M98 137.3h0M102 137.9h0M100 137.7h0M97.8 137.4h0M97.5 137.4h0M100 137.8h0M97.9 138.4h0M99.4 137.8h0M98.9 138.8h0M100 138.6h0M97.2 139.3h0M99.7 138.9h0M100.6 139.1h0M98.8 139.8h0M98.9 140.1h0M100.7 139.5h0M99 139.2h0M96.2 139.9h0M99.2 140.3h0M99.6 139.9h0M97.4 140.1h0M97.7 140.6h0M99 141.1h0M99.6 141h0M101 141.7h0M100.4 141.2h0M100.2 141.7h0M97.7 141.6h0M99.4 141.8h0M98.1 141.5h0M100.1 142.5h0M100.5 142.2h0M98.8 141.9h0M100.3 142.9h0M97.9 142.8h0M100.6 142.6h0M96.2 143.6h0M98.4 142.9h0M100.7 143.5h0M97.5 143.8h0M99.8 143.9h0M97 143.5h0M98.2 144.7h0M100.2 144.1h0M100.3 143.9h0M99.1 144.6h0M98.8 144.5h0M99.2 144.5h0M97.1 145.3h0M98.6 145.2h0M101.6 145h0M98.4 145.2h0M101.2 146.2h0M100.1 145.8h0M95.9 146h0M96.3 146.4h0M100.4 146.3h0M98 146.3h0M98.1 146.5h0M100.8 147.2h0M99.2 146.6h0M98.6 146.6h0M98.3 147.7h0M97 147.4h0M98.5 147.9h0M97.8 147.4h0M100.8 148h0M100.5 148.5h0M99.9 148.7h0M100.8 148h0M98.3 148.1h0M100.1 149.1h0M102 148.3h0M101.5 148.3h0M96.8 148.7h0M98.8 149h0M101.2 149h0M98.5 149.7h0M97.3 149.3h0M96.6 149.6h0M98.8 150.1h0M97.7 150.3h0M100.7 150.6h0M95.9 150h0M100.4 150.6h0M100.5 150.7h0M97.8 150.5h0M99.4 151.2h0M97.1 151.4h0M99.5 151.5h0M98.5 150.6h0M99.1 150.8h0M95.6 150.6h0M97.5 152h0M100.7 151.7h0M101.1 151.6h0M98.9 151.2h0M100.9 152.4h0M96.6 152h0M97.8 151.9h0M98 153h0M99.9 152.3h0M99.4 152.6h0M99.3 153.2h0M100.1 153.6h0M97.8 153h0M97 152.8h0M100.5 153.3h0M101.2 153.8h0M99.2 153.8h0M100.8 153.8h0M98 153.8h0M96.9 154h0M100.1 154.9h0M97.6 154.3h0M97.2 154.3h0M100.4 155h0M95.5 154.3h0M97.9 154.8h0M96.7 155h0M98.6 154.8h0M96.8 154.6h0M97.9 155.4h0M101 155.6h0M100.5 156h0M98.8 156.4h0M99.2 156.4h0M99.1 156.4h0M98.9 156.1h0M95.4 156.5h0M99.7 156.8h0M95.3 157.4h0M99.1 156.6h0M99.1 157.3h0M98 157.4h0M96 157.3h0M98.1 158.3h0M102.5 157.4h0M98.4 158.1h0M96.7 157.9h0M100.5 158.1h0M101.6 158.5h0M96.7 158.4h0M98.8 158.2h0M101.7 158.7h0M101.4 159h0M96.7 159.4h0M100.2 159.4h0M100.3 159.8h0M100.7 159.8h0M100.5 158.7h0M102.2 160h0M98.4 159.4h0M97.4 159.7h0M100.5 160.1h0M100.6 160.1h0M101.1 160.3h0M100.6 160.5h0M97.9 160.7h0M100.6 160.9h0M98.2 160.5h0M98.2 161.6h0M97.4 161.4h0M98.6 161.3h0M98.2 161.6h0M98.1 161.4h0M99.4 161.5h0M100 161.4h0M100.4 162.4h0M99.5 162h0M99.9 162.3h0M99.9 162.3h0M98.7 162.4h0M97.1 162.5h0M97.7 163.1h0M100.5 163h0M95.9 163h0M100.6 163.2h0M99.9 163.4h0M99.2 163.1h0M97.7 163.8h0M100.8 163.9h0M101 163.6h0M97.1 164.3h0M100.8 164.9h0M100.9 164.1h0M100.7 163.9h0M95.6 164h0M96.7 164.9h0M96.7 164.2h0M99 164.3h0M98.9 165.4h0M102.3 165.6h0M100 165.4h0M98.9 165.6h0M101.1 166.1h0M99.9 165.3h0M96.4 165.8h0M97.1 166.1h0M95.1 165.8h0M97.9 166.1h0M98.4 166.3h0M96.4 166.6h0M96.6 166.5h0M99.2 166.6h0M96.7 166.9h0M99.3 167.8h0M98.5 167.7h0M97.9 167.1h0M101 167.9h0M99.2 167.7h0M97.7 168.3h0M100.4 167.2h0M99.7 168h0M97.7 168.5h0M99.4 167.9h0M97.7 167.9h0M101.4 168.9h0M99.5 168.4h0M99.7 169.1h0M98.3 168.9h0M99.6 168.9h0M101 169.3h0M101.1 168.8h0M96.4 170.1h0M101 169.9h0M96.3 170.2h0M95.9 170.4h0M98 170h0M96.8 170.3h0M99.1 170.3h0M98.2 170.6h0M98.1 170.2h0M100.2 170.5h0M98.7 170.8h0M97.5 170.8h0M98.1 170.6h0M95.5 171.2h0M98.5 171.6h0M100.3 172.3h0M101.1 172.2h0M102 172h0M97.6 172.3h0M97.5 172h0M100.8 171.8h0M95 172.5h0M98.6 172.4h0M99.2 173.4h0M95.5 173.5h0M101.9 172.5h0M100.7 172.5h0M97.3 173.3h0M98.8 173.6h0M99.5 172.9h0M100.1 173.6h0M100.2 174.2h0M102.8 174.3h0M95.8 173.5h0M100.5 174h0M102.2 174.6h0M95.8 173.9h0M96.1 174.2h0M97.3 174.1h0M98.8 174.3h0M100.6 174.6h0M100.2 174.2h0M96.5 174.5h0M96.5 175.6h0M97 175.1h0M96.4 175.9h0M100.4 175.2h0M98.4 175.8h0M101.1 175.6h0M99.7 176.4h0M97 176.2h0M98.9 176.4h0M95.5 175.8h0M98.3 176.1h0M96.5 176.3h0M97.5 177.4h0M95.7 176.4h0M97.8 177h0M97.3 176.8h0M97.7 177.6h0M99.7 177.2h0M99.8 177.2h0M99.9 177.4h0M100.1 178.2h0M97.6 177.7h0M100.3 177.9h0M97 178.3h0M99.2 178.1h0M95.5 178.6h0M101.7 178h0M94.4 177.9h0M99.6 178.3h0M96.9 179.2h0M100 178.5h0M95.8 178.9h0M96 178.6h0M99.8 179.8h0M100.3 179.4h0M102.5 178.8h0M99 179h0M100.7 179.3h0M101.1 179.4h0M96.4 180h0M98.5 179.7h0M97.7 180.2h0M95.5 180h0M95.5 180.3h0M96 180.5h0M98.1 180.8h0M100.9 180.5h0M100.2 180.3h0M97.3 180.3h0M96.3 181.6h0M102.2 181.2h0M96.2 181.3h0M96.5 180.7h0M102.9 181.7h0M100 182h0M95.1 181.8h0M97.9 181.3h0M97.6 181.6h0M96.2 182.1h0M103.3 181.8h0M96.5 182.3h0M103 182h0M98.8 182.7h0M98.3 182.5h0M96.3 183.1h0M96.3 182.9h0M95.7 183.9h0M100.5 183.6h0M99.8 183h0M99.5 182.8h0M101.5 182.8h0M101.3 183.5h0M101 183.7h0M99.1 184.2h0M101.4 183.8h0M95.8 184.7h0M99.1 184.7h0M102.7 184.6h0M96.2 184.9h0M96.5 183.8h0M96 184.5h0M96.1 184.8h0M97.4 184.7h0M98 184.8h0M95.2 184.8h0M99.3 185.1h0M98.2 184.6h0M97.4 185.3h0M100.7 185.5h0M96.8 185.7h0M97.2 185.4h0M97.3 185.8h0M101.8 186h0M95.4 185.9h0M98 186.2h0M99.2 186.2h0M100.4 186.3h0M101.2 186.4h0M98.8 186.6h0M96.4 186.6h0M97.1 186.7h0M98.8 186.3h0M97.6 186.9h0M101.1 186.9h0M101.3 187.6h0M99.5 187.2h0M97.8 187h0M99.1 188h0M96.6 187.2h0M99 188.1h0M97.5 187.3h0M98.5 187.5h0M99.5 188.2h0M98.8 188.2h0M101.2 188.6h0M98 188.6h0M98.9 188.6h0M97.8 188.5h0M96.4 189h0M100.4 189.2h0M95.9 189.1h0M98.6 189.8h0M96.7 189h0M99.8 189.8h0M98.6 189.1h0M102.6 189.7h0M103 190.3h0M98.6 189.6h0M97.6 189.9h0M102.4 189.6h0M101.4 190.2h0M100.2 190.3h0M100.4 190.2h0M97.6 190h0M99.2 190h0M101.7 191.4h0M100.9 190.4h0M102.6 191.4h0M100.3 191.3h0M102 191h0M100.9 191h0M100.1 191.7h0M100.8 191.4h0M99.2 191.2h0M101.2 191.5h0M101.3 191.4h0M100.1 191.8h0M97.2 192h0M97.8 192h0M98.6 191.7h0M97.5 192h0M102.1 192.4h0M98.7 193.2h0M99.1 192.4h0M101.7 193.2h0M99.4 192.8h0M97.3 192.4h0M101.1 193.5h0M99.5 192.9h0M99.8 193.4h0M96.3 192.9h0M98.8 194.2h0M100.5 194.3h0M99.1 194.4h0M95.5 193.8h0M96.6 193.9h0M103.1 194.3h0M101.5 194.8h0M99 194.3h0M95.6 194.2h0M97.2 194.2h0M100.2 194.6h0M98 194.6h0M101.5 194.2h0M100 195.3h0M100.1 195.8h0M101.7 195h0M97.1 195.1h0M96.1 195.5h0M98.8 195.4h0M97.4 195.9h0M98.9 196.2h0M97.4 195.3h0M124.7 24.4h0M124.4 25.3h0M124.4 25.1h0M123.9 25.6h0M124.4 26.5h0M124.7 26.3h0M124.6 26.8h0M122.6 26.6h0M124.3 27.9h0M124.1 26.9h0M123.8 28h0M124.1 28.2h0M124.8 28.1h0M124.2 28.3h0M125.7 28.4h0M124.2 28.4h0M124.8 29.5h0M125.9 29h0M124.6 29.2h0M125.1 29.9h0M122.5 29.9h0M124.5 30.7h0M122.9 30.2h0M124.3 30.7h0M124.2 31.7h0M125.4 30.7h0M124.9 31.8h0M126.1 32h0M124.2 32.3h0M123.8 32.2h0M125.8 32.1h0M124.3 32.9h0M126.2 32.6h0M123.6 33.7h0M124.5 33.9h0M124.2 34h0M123.5 34.5h0M125.5 34.4h0M125 35.2h0M125.1 34.7h0M124.1 35.2h0M125.2 35.5h0M123.8 35.3h0M124.8 35h0M125.2 36.2h0M125.1 36.1h0M125.2 36.9h0M123.4 36.8h0M125.6 37.2h0M125.6 36.9h0M125.1 37.5h0M123 37.3h0M124.5 38.5h0M125.4 38.2h0M123.7 38.3h0M122.8 38.6h0M123.8 39.6h0M124.4 38.8h0M125.6 39.8h0M124.9 40.1h0M122.7 39.8h0M123.5 39.9h0M124.9 40.9h0M124.1 41.3h0M126.2 41.9h0M124.6 41.5h0M125.3 41.4h0M124.1 41.2h0M125.1 42.4h0M125.2 42.5h0M124.5 42.9h0M124.6 42.3h0M124.1 42.4h0M123.5 43.3h0M124.1 43.7h0M124.8 44.3h0M124.3 43.8h0M124.8 43.7h0M125.2 44.1h0M124 45.3h0M124.9 44.9h0M124.3 45.4h0M123.9 45.1h0M123.6 45.2h0M125.2 45.2h0M125.3 46h0M123.1 46.3h0M125.3 47.3h0M123.6 47h0M122.8 47.2h0M125.3 46.6h0M123.8 47.9h0M124 48.4h0M125 48.2h0M125.3 48.3h0M124.6 49.3h0M124 49.1h0M123.9 49.1h0M123.8 48.8h0M124.4 49.4h0M123.7 49.8h0M125.2 50h0M123.3 50.6h0M125.1 51.1h0M124.9 50.4h0M124.6 51.3h0M124.8 51.5h0M125.1 51.8h0M124.9 51.6h0M124.4 52.2h0M123.9 52.6h0M125.1 52.3h0M124.6 52.8h0M124.3 53h0M124.6 53.1h0M124.8 54h0M124 53.4h0M123.8 54.2h0M123.8 53.9h0M123.4 54.4h0M126.3 54.5h0M124.7 55.5h0M126.3 55.1h0M124.8 55.6h0M124.6 56.5h0M124.1 55.9h0M124.7 57.2h0M124.7 56.2h0M124.4 56.7h0M124.4 57.8h0M124.4 57.3h0M124.9 58h0M124.9 58.8h0M124.3 58.9h0M124.7 58.4h0M124.7 58.7h0M124.6 59.7h0M124.3 59.1h0M124.8 60h0M125.3 60.3h0M124.6 60.2h0M124.4 59.5h0M125 60.3h0M124.6 61.5h0M125 61.3h0M124.9 60.8h0M124.4 62.1h0M123.9 61.9h0M124.5 62.4h0M125.4 62.6h0M124.7 62.5h0M124.4 62.2h0M124.6 63.7h0M124.8 63.5h0M124.8 63.5h0M123.8 63.8h0M123.8 64.4h0M123.7 64.7h0M124.5 64.9h0M123.9 64.2h0M124.8 65.3h0M125.1 65.2h0M123.8 66h0M124.2 66h0M124.2 65.8h0M124.5 65.5h0M124.9 66.4h0M124 66.8h0M124.4 67.7h0M124.3 67h0M124 68.1h0M125.5 67.2h0M123.7 68.8h0M124.6 67.8h0M125.1 68.6h0M124.9 68.7h0M124.6 69.6h0M125.1 68.8h0M125 69.4h0M124.4 70h0M125.2 70.6h0M124.7 69.8h0M125.8 71.1h0M124.4 70.9h0M124.9 71.4h0M125.6 71.6h0M124.8 71.4h0M124.5 71.9h0M124.7 72.5h0M123.5 72.6h0M124.8 72.6h0M124.6 73.2h0M124.8 73.7h0M124.9 72.9h0M124.9 74.1h0M124.2 73.6h0M124 74h0M124.9 74.4h0M124.2 74.6h0M124.5 74.2h0M125.1 74.9h0M125.3 75.3h0M124.6 75.3h0M124.3 75.7h0M124.5 76.4h0M125.1 76.5h0M125 76.6h0M124.5 77.3h0M123.7 77.2h0M124.6 78.2h0M124.1 77.7h0M124.4 78.3h0M123.8 78.7h0M125.7 79.3h0M123.6 78.8h0M124.9 78.9h0M124.3 78.8h0M124.4 79.3h0M123.7 79.7h0M124.7 80.1h0M125.1 79.9h0M124 80.7h0M123.7 80.9h0M125 81.1h0M124.3 81.3h0M125.9 81.4h0M125 82.6h0M126.3 82.3h0M124.5 82.4h0M123 82.6h0M124.9 83.4h0M123.9 83.3h0M123.9 83.7h0M125 84.1h0M123.8 84h0M124.8 84.3h0M125.1 84.5h0M125.2 84.5h0M124.8 85.1h0M124.1 85h0M123.4 86.3h0M126.1 86.1h0M126.4 85.6h0M123.3 86.1h0M124.8 86.2h0M124.4 87.1h0M123.9 86.6h0M124.9 87.1h0M125.3 88.1h0M124.1 87.6h0M124.3 88.3h0M125.2 88h0M124.6 88.5h0M125.6 88.9h0M125.1 89.5h0M123.7 89h0M124 89.8h0M123.1 89.8h0M123.2 89.9h0M123.9 89.7h0M125.2 90.4h0M123.4 91.1h0M124.2 91.2h0M125.3 91h0M125 92.2h0M125.5 92h0M123.2 92.2h0M125.8 92.6h0M124.5 92.1h0M125 92.9h0M124.8 93.2h0M123.8 92.8h0M124.5 93.6h0M123.9 94.2h0M124.7 93.4h0M123.6 93.7h0M125.6 94.1h0M123.9 93.9h0M125.5 94.3h0M123.3 95.1h0M124.6 95.7h0M124.6 95.4h0M123.1 95.6h0M124.9 95.3h0M125.4 96.4h0M124.5 96h0M125.5 96.5h0M125.7 97.1h0M123.8 96.3h0M126.6 97.4h0M124.2 96.9h0M125.4 98.1h0M124.3 98.2h0M126.6 98h0M126 98.5h0M123.7 98.1h0M124.4 99.3h0M125.1 99.4h0M124.7 99.4h0M126.5 99.6h0M123.8 99.5h0M123 99.4h0M123.2 100.7h0M125 100.3h0M126.4 100.6h0M122.6 100.7h0M123.4 101.4h0M124.7 101.2h0M124.4 101.3h0M125.4 102h0M125.6 102h0M122.5 102.3h0M124.3 102.5h0M126.4 102.3h0M124.4 102.9h0M123.4 102.8h0M123.8 103.2h0M123.9 102.8h0M125.9 103.3h0M124.3 104h0M123.8 103.3h0M123.7 103.7h0M124.2 104.3h0M125.9 104.1h0M124.3 104.4h0M124.2 105.2h0M125.3 105h0M122.8 104.8h0M124.9 105.3h0M125 105.9h0M125.6 105.6h0M123.3 106.1h0M124.1 106.7h0M122.4 106.5h0M122.8 107h0M124.6 107.3h0M123.9 107.4h0M123.6 106.9h0M125.3 107.8h0M123.7 108.1h0M125.9 108.1h0M125.3 108h0M126.1 108.6h0M124.7 108.1h0M124.5 109h0M125.9 108.5h0M124.6 109h0M126.8 109h0M124 109.2h0M124.5 109.7h0M125.2 109.5h0M125.1 110.2h0M123.8 109.4h0M124 109.9h0M125.5 110.2h0M124.4 110.4h0M124 110.8h0M125.9 110.9h0M126.2 111h0M126.1 111.2h0M125.3 111.5h0M125.9 112.1h0M123.7 111.7h0M124.1 112h0M125 112.4h0M124.4 112.1h0M124.7 112.6h0M123.3 112.3h0M124.2 112.7h0M122.4 112.6h0M125.9 113.3h0M126 113.5h0M125.6 113.4h0M124.2 113.5h0M122.3 114.2h0M124.6 113.7h0M122.6 114.4h0M124.1 114.3h0M126.1 114.5h0M123.7 114.5h0M126.5 115.3h0M126.3 114.7h0M125.8 115.3h0M124.5 115.4h0M124.7 115.4h0M123.6 115.3h0M126.7 116.5h0M125.5 115.8h0M125.5 116.4h0M124.6 116.7h0M126.3 116.9h0M124.4 117.7h0M125.6 117.1h0M123.5 117h0M124.8 118.1h0M127 117.7h0M124.7 117.7h0M123.6 118.5h0M124.9 119h0M125.4 118.3h0M124.2 118.7h0M125.5 118.3h0M125.6 119.5h0M124.1 119.5h0M125.8 118.7h0M126.2 119.6h0M123.9 119.6h0M124.2 120.2h0M125.8 120.3h0M123.7 119.9h0M125.7 119.7h0M123.6 120.7h0M125 120.7h0M124.8 120.4h0M123.2 121.5h0M126 121.2h0M122.8 120.6h0M124.9 121.5h0M123.7 121.6h0M122.5 122.1h0M127.1 123h0M124.6 122.1h0M125.8 122.6h0M126.5 122.5h0M124.8 122.4h0M124.7 123.1h0M123.7 123.5h0M122.6 123.1h0M125.5 123.5h0M123.3 123.5h0M123.9 124.3h0M126.1 123.5h0M124.1 123.7h0M124.4 124.5h0M124.1 124.7h0M126.1 124.9h0M123.3 124.2h0M126.6 124.8h0M123.6 125.3h0M125.4 124.9h0M123.8 125.3h0M126.8 126.2h0M125.9 125.6h0M124.8 126h0M123 126h0M126.4 126.1h0M123.6 126.4h0M124.1 126.9h0M126.8 126.4h0M122.2 126.5h0M126.8 127.1h0M124 127.2h0M126.8 127h0M122.9 127.3h0M123.2 127.4h0M122.8 127.5h0M122.4 127.8h0M125.6 128.3h0M125.7 127.9h0M124.1 128.8h0M122.8 128.4h0M124.9 128.5h0M123 129.1h0M124.3 129.3h0M124.6 129.1h0M125.2 129.5h0M126.3 130.3h0M125 130.4h0M124.5 129.9h0M125.9 130.7h0M124 130h0M123.3 130.3h0M122.5 130.5h0M124.6 130.9h0M126.1 131.2h0M123.3 131.1h0M126 131.4h0M124.5 131.4h0M126.9 132h0M124.6 131.8h0M127.1 131.8h0M122.3 131.8h0M122.8 132.1h0M124.4 132.6h0M126 132.4h0M124.4 133.2h0M125.6 133.1h0M126.3 133.2h0M121.9 132.9h0M123 133.3h0M123.8 133.4h0M126.7 134.4h0M123.4 133.4h0M123.8 133.4h0M122.4 134h0M126 134.4h0M124.6 134h0M127 134.7h0M123.5 134.9h0M122.5 134.9h0M125.6 135h0M127.1 135.2h0M124.2 134.6h0M126.6 135.2h0M122.1 135.6h0M126.8 135.8h0M125.3 135.4h0M124.6 136.1h0M121.8 136.4h0M125.5 135.9h0M123.7 136.4h0M124.8 137.4h0M125.9 136.7h0M123.8 136.9h0M124.8 137.9h0M123.1 137.5h0M123.3 137.6h0M122.8 138.4h0M126.6 137.3h0M124.5 138.1h0M123.5 138.7h0M123.4 138.5h0M122.6 138h0M125.9 138.5h0M124.4 138.5h0M123.6 139.1h0M123.8 139.5h0M124.7 139.7h0M125.2 138.9h0M123.1 139.7h0M121.9 139.2h0M126.1 139.7h0M121.9 140.3h0M124.9 139.7h0M124.7 140.5h0M124.1 139.8h0M124.7 140.4h0M124.4 141.1h0M122.5 140.6h0M125.7 141.6h0M126.1 141h0M125.3 141.4h0M124.2 141.5h0M124.1 142.2h0M123.3 142.2h0M123 142.1h0M124.6 142.8h0M126.5 142.3h0M122.8 142.3h0M125 142.5h0M123.1 142.5h0M122.7 142.6h0M125.9 143.4h0M125.1 143.2h0M124.7 143.4h0M126 142.8h0M122.6 143.8h0M124.1 144.1h0M123.8 144.1h0M123.9 143.9h0M127.4 144.1h0M124.7 144.6h0M121.7 145h0M124.8 145.1h0M121.6 145.1h0M123.4 145.5h0M125.9 145.7h0M124.3 144.7h0M123.7 145.8h0M123.9 145.7h0M126.4 145.9h0M125.8 146.3h0M121.7 146.5h0M123.9 145.8h0M123.5 147.1h0M124.1 146.3h0M121.7 147.1h0M124.3 147.1h0M126.2 147.3h0M127.1 146.9h0M123 148.1h0M125.8 147.6h0M122.8 147.8h0M122.3 147.6h0M124.9 148h0M125.6 148.3h0M127.5 148.3h0M122.7 148.1h0M126.6 148.5h0M126.2 148.3h0M121.9 149.1h0M124 149.3h0M122 149.2h0M125.6 149.1h0M123.1 149.4h0M124 150h0M123.6 149.6h0M122.2 150.2h0M121.5 150.6h0M123.7 150.4h0M126.2 150.1h0M125.2 151.1h0M123.5 151h0M126.2 150.7h0M122.9 151.3h0M124.2 151h0M127.8 151.5h0M121.5 151.6h0M124.3 151.6h0M125.1 151.2h0M125.4 151.2h0M121.7 152.4h0M124.8 152.4h0M121.5 152h0M125.6 151.7h0M123.5 153.2h0M124.1 152.5h0M122.1 152.5h0M124.6 152.4h0M124.9 152.6h0M124.2 153h0M126.1 153.3h0M123.1 152.9h0M127.5 154.1h0M124.3 153.4h0M125.6 153.8h0M126.2 154h0M123.9 154.3h0M125.4 154.5h0M122.9 153.9h0M124.2 154.8h0M123.9 154.4h0M122.5 154.9h0M125.3 154.8h0M123.6 154.9h0M123.7 154.9h0M124.2 155.1h0M126.7 156.2h0M121.6 155.9h0M125.8 155.7h0M126.3 156h0M124.9 156.5h0M124.1 156.4h0M125 156.5h0M126.5 156.6h0M121.8 156.4h0M122.4 156.4h0M124.6 156.5h0M123.3 156.9h0M124.5 156.9h0M126 157.6h0M123.7 157.5h0M124.6 157.5h0M122.2 157.9h0M124.7 157.1h0M125.2 157.1h0M123.6 157.2h0M126.5 158.6h0M125 157.9h0M125.5 158.4h0M122.7 158.6h0M125.7 158.8h0M125.3 159.3h0M125.3 158.3h0M125.2 159.3h0M122.4 159.1h0M122.5 158.7h0M125.2 160.2h0M121.6 159.7h0M126.4 159.3h0M123.5 160.4h0M124.1 159.9h0M123.1 160.1h0M125.7 160.4h0M123.2 160.2h0M124.4 160.5h0M124.5 160.4h0M127.5 160.8h0M123.5 161.4h0M124.1 160.7h0M123.3 160.9h0M121.6 161.6h0M123.6 162.3h0M124.6 161.2h0M122.6 162.4h0M124.3 162.5h0M121.4 162.7h0M127.1 162.8h0M121.8 163.3h0M124.8 162.6h0M121.5 162.4h0M123.9 162.8h0M125.1 162.8h0M127.5 163.8h0M124.4 162.7h0M125.5 164h0M125.2 164.2h0M121.2 163.7h0M121.2 163.9h0M125.7 164.6h0M123.9 164h0M124.5 164.8h0M127.4 164.5h0M125.8 165h0M121.6 164.2h0M121 164.7h0M123 165.1h0M125.1 164.8h0M125.7 164.9h0M123.1 165.1h0M122.6 165.4h0M127.6 165.7h0M126.9 165.4h0M125.7 165.9h0M128.4 166.4h0M120.8 165.9h0M122.1 165.6h0M123.3 166.5h0M121.5 166.3h0M124.9 167h0M124.9 166.8h0M123.1 166.5h0M123.2 167.4h0M128.4 167.6h0M127.8 167.4h0M124.3 167.6h0M124.3 167.8h0M122.4 167.8h0M127 167.6h0M125.9 167.7h0M123.5 167.6h0M122.3 168h0M126.7 168.7h0M126.4 168.3h0M127 168.3h0M127.4 168.6h0M126.4 168.9h0M126.9 168.7h0M124.2 168.9h0M124.3 169.5h0M125.9 169.4h0M127.7 169.1h0M126.9 169.6h0M126 169.6h0M126.7 170.1h0M124.9 169.5h0M127 170.2h0M124.8 169.9h0M125.9 170.1h0M125 170.1h0M120.8 170.7h0M122.7 170.7h0M124.7 170.9h0M125.7 171.3h0M126.7 171h0M126.1 171.2h0M125.4 171.1h0M125.4 171.1h0M124.1 171.5h0M125.8 171.6h0M128.6 171.5h0M122.4 171.3h0M127.1 172.4h0M124.5 173h0M128.1 172.5h0M123.2 171.6h0M127.4 172.5h0M122.2 172.2h0M126.9 172.9h0M123.6 172.8h0M124.1 172.9h0M127.7 172.8h0M124.9 173.7h0M127.7 172.8h0M126 174.1h0M127.3 173.3h0M123.9 174.1h0M128.8 174.2h0M127.2 174.4h0M126 174h0M123.4 174.6h0M124.6 174.4h0M124 174.4h0M123.5 175.1h0M126.9 175.3h0M122.1 175.1h0M127.2 175.4h0M126 175.1h0M127.3 175.5h0M122.4 175h0M126.7 176.1h0M125.1 176h0M124.9 175.9h0M124.7 175.5h0M125.6 176.1h0M128.9 176.6h0M123.3 175.9h0M122.1 176h0M125.8 176.7h0M124.1 176.7h0M128.5 176.8h0M121.2 176.9h0M127.6 177.3h0M121.9 177h0M127.3 177.1h0M127 177.1h0M125.3 178.1h0M123.8 178.2h0M126.3 177h0M120.8 177.8h0M126.5 177.9h0M121.9 178h0M123.8 178.1h0M121.6 178.5h0M123.5 178.4h0M128.2 178.6h0M123.4 178.6h0M124.1 178.8h0M120.7 179.1h0M128.2 178.2h0M125.8 178.5h0M127 179.4h0M122.4 179.5h0M127.7 179.1h0M123.4 179.5h0M127.8 179.9h0M125.6 180h0M126.5 179.9h0M124 180h0M128.7 179.8h0M126.3 180.3h0M126.6 180.6h0M121.9 180.6h0M122.5 181.2h0M125.1 181.3h0M124.9 180.3h0M125.5 180.6h0M127.9 180.7h0M123.9 181.4h0M126 181h0M126.4 181.5h0M128.7 181.2h0M121.9 181.7h0M125.1 182.4h0M126.4 181.9h0M123.8 181.7h0M123.6 182.1h0M125.1 181.7h0M126.2 182h0M124.4 181.8h0M127.3 182.1h0M121.5 182h0M124.4 182.4h0M123.9 183.1h0M125.9 182.8h0M126.8 183.1h0M122.2 182.7h0M126.2 182.8h0M125.6 183.2h0M124.7 183.8h0M122.2 183.1h0M128.7 183.5h0M124.7 183.7h0M126.5 183.7h0M124.1 183.6h0M126.8 183.8h0M123.3 183.9h0M125 184.8h0M126.6 183.8h0M127.5 184.5h0M121.7 184.4h0M127.2 184.3h0M124.8 185.2h0M124.4 184.5h0M121.8 184.7h0M126.4 185.2h0M127 185.1h0M124.1 185.1h0M124.1 185.5h0M127.3 185.9h0M124.7 185.3h0M124.1 185.3h0M123.3 186h0M122.7 185.8h0M129.1 186.6h0M124.4 185.7h0M128 186.1h0M125.4 185.8h0M124.6 186.4h0M127.1 186.2h0M125.7 186.8h0M128.7 186.5h0M125 187.3h0M126 187.7h0M123.3 187.5h0M120.5 187.2h0M126.1 187.6h0M123 188.1h0M125.6 188.1h0M128.2 188.2h0M128.3 187.5h0M125.6 187.8h0M126.9 188.9h0M123.3 188.1h0M126.5 187.9h0M123.7 188.7h0M128 188.5h0M125.4 189.1h0M123.3 188.6h0M125.2 188.3h0M124.2 189.9h0M127.6 188.8h0M121.8 189.1h0M124.9 189.8h0M128.6 189.8h0M122.9 190h0M122.9 189.7h0M128.4 189.2h0M126.7 190.1h0M124.6 190.1h0M124.1 190.4h0M126.4 189.7h0M123.4 190.5h0M124.2 190.4h0M125.6 190.8h0M125.2 190.8h0M126 191.1h0M125.1 190.7h0M126.1 190.5h0M126.2 191.3h0M122.4 191.3h0M122.9 191.2h0M125 191.8h0M125 190.7h0M124.8 191.4h0M124.2 191.5h0M122.1 191.2h0M125.9 191.7h0M124.6 192h0M126.9 192.8h0M123.3 192.2h0M127.8 192.5h0M123.6 192.6h0M126.7 191.9h0M126.1 192.3h0M124.3 192.7h0M122.6 192.5h0M125.6 193.1h0M126.8 193.1h0M123.5 193h0M126.5 193.1h0M126.4 193h0M126.3 193.2h0M122.4 193.4h0M121 193.2h0M125.6 194.3h0M124.6 193.8h0M127.2 194.5h0M127.1 194.4h0M127 194.1h0M123.1 194.5h0M122 194.3h0M127.4 194.4h0M123.9 195h0M123.2 195.3h0M126.3 195.1h0M127.5 195.1h0M123.5 195.5h0M123.4 195.6h0M127.3 195.8h0M123 195.5h0M128.4 195.5h0M121 195.7h0M127.4 195.5h0M120.8 195.5h0M125.5 195.8h0M124.4 195.4h0M78.9 190.3h0M53.2 196.8h0M58.4 197.1h0M82.9 195.1h0M121.1 194.4h0M62.1 193.1h0M139.4 192.9h0M66.8 190.6h0M59.9 195.1h0M120.9 191.3h0M99 193.8h0M58.6 193.1h0M92.2 195.9h0M119.1 195.2h0M75.5 194.6h0M103.3 192.9h0M120.8 193.8h0M91.3 193.8h0M52.2 189.8h0M79.4 190.9h0M122.5 190.3h0M117.3 190h0M78 191.6h0M66.8 189h0M140 193.7h0M106.2 195.2h0M108.7 192h0M57.4 196.6h0M135.1 196.9h0M92.6 191.3h0M74.4 194.8h0M123.8 193.9h0M62.1 192.7h0M79.7 195h0M132.8 195.6h0M125.8 195h0M140 192h0M67.7 189.9h0M73.4 195.4h0M131.2 189.5h0M55.9 189.7h0M95.9 192.9h0M52.5 189.8h0M61.5 190.7h0M89.8 195.2h0M138.5 190.3h0M124.5 196.1h0M102.9 196h0M102.3 189.7h0M105.6 190.2h0M82 192.9h0M87.8 192h0M114.2 194.7h0M96.5 191h0M76.2 194.8h0M117.1 189.8h0M69.2 191.7h0M71.2 197.1h0M59.4 195.9h0M144.2 189.3h0M67.3 193.6h0M126 190.7h0M135.2 196.2h0M86.5 192.1h0M89.2 195h0M87 194.3h0M136.5 191.3h0M84.8 192.7h0M84.9 192h0M127.6 194.1h0M80.5 191.7h0M54.9 194.6h0M71.9 193.1h0M89.5 195.4h0M70 191.8h0M103.9 196.6h0M136.2 196.7h0M80.4 195.6h0M104.9 196.1h0M59.6 196.8h0M100 196.7h0M106.1 192.1h0M112.8 192.6h0M65.8 189.2h0M101.4 197h0M115.9 196.7h0M82.6 193.5h0M127.4 192.2h0M125.4 194.8h0M132 194.1h0M127.6 195.1h0M80.9 196.4h0M128.4 191.6h0M112.5 194.2h0M95.6 190.9h0M111.3 196.7h0M81 190.1h0M116.6 189.2h0M86.8 196.3h0M99.5 193.6h0M99.5 189.6h0M122.5 194.4h0M109.3 191.6h0M81.5 192.9h0M124 195.8h0M82.8 194.2h0M111.6 193.5h0M52.2 195.1h0M142.3 192.4h0M83.4 196h0M56.7 197h0M107 193.3h0M106.4 194.5h0M135.7 191.4h0M63.4 195.6h0M89.2 190.4h0M67.2 196.3h0M72 193.7h0M129.6 195.2h0M111.9 193.8h0M110.2 193.3h0M71.5 193.8h0M77.6 193.6h0M60 192.4h0M113 189.1h0M58.3 193h0M105.1 191.4h0M52.2 197h0M98.4 192.6h0M100.4 191.7h0M58.3 195.5h0M85.5 194.6h0M142.6 190.2h0M122.7 192h0M128.1 190.7h0M78.3 194.1h0M124 189h0M116.6 189.3h0M118.4 191.7h0M59 189.3h0M102.3 193.8h0M74 193.9h0M58.5 191.5h0M115.7 189h0M107.6 190.3h0M129.1 191.5h0M60 191.6h0M73.5 194.7h0M83.6 192.6h0M123.9 195.9h0M116 189.7h0M82.8 195.7h0M110.4 195.8h0M67 189h0M86.9 190.5h0M100.6 197.2h0M102.5 194.7h0M65.9 196.1h0M109.1 195h0M69 191h0M84.8 195.5h0M58.6 194.8h0M97.5 194.4h0M122.5 193.4h0M51.9 197.2h0M80.7 190.6h0M126.5 194.5h0M141.2 192.9h0M111 191.4h0M132.3 191.3h0M65.9 195.9h0M84.3 194.2h0M143.8 193.7h0M74.8 195.5h0M74 192.3h0M53.6 195.1h0M129.4 196.4h0M132.4 194h0M121 192.7h0M53.6 189.4h0M73 196.3h0M87.3 189.7h0M92.5 190.7h0M81.7 194.6h0M57.6 195.4h0M140.3 193.7h0M131.6 196.6h0M113.1 192.6h0M71.7 190.6h0M105.9 194.1h0M90.1 194.9h0M96.8 190.1h0M112.1 192.8h0M62 196.8h0M71.4 192.6h0M88 190.6h0M71.7 189.3h0M57.1 191.7h0M96 190.2h0M59.1 190.7h0M120.6 192.8h0M122 191.7h0M105.1 194.6h0M130.1 195.1h0M102.4 197.2h0M68.8 195.4h0M136.9 196h0M125.3 195.6h0M104.7 192.3h0M121.3 190h0M58.2 194.6h0M106.8 190.4h0M115.9 189.4h0M94.5 190.6h0M85.6 189.1h0M64.1 189.8h0M68.9 192.5h0M135.2 191.1h0M137.7 190.7h0M119.4 189.2h0M118.6 190.7h0M54.1 189.5h0M137.3 193.8h0M59.6 193.4h0M83.6 195.5h0M116.8 192.2h0M108.2 189.2h0M70.6 189.9h0M111.7 195.1h0M142.9 192.3h0M52.7 196.7h0M105.7 189.1h0M56.3 196.7h0M118.4 192.1h0M128 196.8h0M101.5 193.8h0M73.2 189.7h0M134.3 191.8h0M128.2 190.6h0M102.9 189.3h0M57.1 189.9h0M90.2 194.8h0M99.5 189.8h0M111.7 191.2h0M114.7 194.4h0M125 192.3h0M64.5 195.8h0M61.6 193.6h0M66.3 192.5h0M62.1 190.9h0M132.1 190.6h0M77.4 191.5h0M84.8 194h0M65 190.7h0M92.3 195.6h0M77.6 195.5h0M98.7 190.2h0M144.5 193h0M65.8 190.6h0M126.6 196.4h0M115 192.2h0M104.2 196.3h0M135.4 192.9h0M99.3 195.4h0M77.3 192.3h0M74.6 191.7h0M121.9 189.2h0M119.1 193.1h0M121.7 194.2h0M140.2 194.1h0M77.3 189.7h0M112.6 195.9h0M81.1 194.7h0M53.9 196.9h0M137.6 192.3h0M64.2 193.2h0M129.7 195.8h0M76.6 193.1h0M90.4 189h0M86.2 192.2h0M61.7 195.4h0M133.7 195.2h0M52.2 191h0M141.1 194.6h0M79 193.1h0M98.5 194.1h0M114.4 190.5h0M52 193.9h0M98.6 190.4h0M58 189.2h0M82.3 196.4h0M87.1 196.6h0M82.5 197h0M81.9 193.9h0M112.6 189.8h0M103.9 190.5h0M71.7 195.8h0M128.4 190.7h0M92.3 190.9h0M56.7 190.2h0M76.5 193.5h0M59.8 190.1h0M130.7 196.6h0M108.2 195.4h0M93.7 192.6h0M140.6 193.4h0M62.3 193.6h0M104 197.1h0M137.7 190.9h0M106.2 194.9h0M88.3 194.1h0M138.4 195.5h0M126.5 190.2h0M74.1 189.4h0M132.6 191.8h0M135.3 193.3h0M64.3 194.1h0M84.3 189.4h0M102.8 191.8h0M62.5 194.1h0M130.9 196.6h0M58.2 194.3h0M78.7 192.9h0M139.4 190.8h0M116.3 193.2h0M95.6 192.9h0M130.2 190.7h0M82.9 196.5h0M83.1 193.5h0M143.7 195.7h0M56.2 192.6h0M59.3 192.4h0M77 191.2h0M89.8 195h0M116.2 194.5h0M86.8 190.7h0M61.9 190.5h0M93 189.9h0M71.7 195.5h0M68.4 195.3h0M68.8 192.7h0M126.4 196h0M95.8 189.7h0M102.1 189.7h0M122.1 197.1h0M80.5 190.1h0M87.2 190.3h0M103.7 196.8h0M72.1 196.1h0M93.6 190.5h0M98.8 197.1h0M128 197.1h0M134.7 191.9h0M88.8 194.3h0M77.5 194h0M99.3 189.1h0M74.1 190.4h0M133.9 192h0M135 192.1h0M132.6 196.2h0M89.9 191.1h0M137.7 195.5h0M109.2 193.3h0M76.4 193.1h0M99.6 196.5h0M116.9 192.5h0M113.6 195.3h0M54 192.8h0M143.9 192.4h0M73 191.7h0M54.7 196.2h0M60.9 195.7h0M137.5 192.4h0M114.5 193.9h0M59.1 191.9h0M81.4 195.5h0M57.6 189.8h0M120.4 194.2h0M71.6 189.2h0M141.1 192.7h0M89.5 190.4h0M104.6 194.4h0M141.9 189.6h0M76 189.2h0M130.7 189.1h0M140.5 194.7h0M126.1 195.7h0M68.3 195.1h0M79.6 194.5h0M130.1 192h0M53.1 190.5h0M66.8 190.8h0M74.9 189.3h0M111.2 192.1h0M77.4 190.2h0M58.8 190.4h0M103.7 193.8h0M89.1 197h0M97.3 193.3h0M86.2 195.5h0M105.8 193.5h0M71.6 195.3h0M67.7 197h0M118.2 195.7h0M114.9 194.1h0M61.2 195.4h0M118.9 194.5h0M103.8 196.5h0M140 193.4h0M126.2 195.4h0M139 195.3h0M115.3 189.8h0M110.4 196.3h0M132.4 190.8h0M114.8 192.1h0M56.7 194.7h0M82.5 195.3h0M126.2 196.1h0M75.9 195.8h0M67.7 190h0M55.2 196.8h0M123.2 194.7h0M78.8 195.8h0M108 196.3h0M91.4 192h0M51.7 193.6h0M64.1 196.9h0M125.4 197h0M68.8 189.4h0M56 193.6h0M117.2 192.5h0M141.8 193.7h0M133.8 195.1h0M87.6 189h0M91.1 192.3h0M130.4 190h0M137 197h0M85.4 189.5h0M85.7 195.3h0M74.6 190.3h0M104.2 194h0M69.3 195h0M74.8 193.2h0M56.8 192.8h0M107.2 191h0M102.4 191h0M67.4 190.4h0M71.4 194.4h0M107.8 196.3h0M127.6 190.5h0M118.3 194.5h0M68.7 195.6h0M72.6 192h0M73.7 192.6h0M123.1 189.9h0M121.1 194.5h0M119.2 189.4h0M112.4 196.5h0M101.2 193.3h0M53 194.8h0M131.1 193.3h0M137.3 190.2h0M95.6 192.8h0M68.6 191.8h0M65.2 192.8h0M96.2 191.5h0M117.4 189.6h0M134.7 190.3h0M65.3 193.5h0M117 193.7h0M51.7 192.4h0M61.7 197h0M67.4 195.3h0M72.2 193.9h0M121 192.2h0M88.8 194.1h0M94.3 194.4h0M134.1 193.9h0M121.1 192.6h0M92.4 192.3h0M124.3 193.3h0M113.3 194.9h0M114.4 195.3h0M78 189.5h0M116.1 191.9h0M79.5 192.5h0M79.3 195.4h0M111.4 196.1h0M54.4 191.8h0M84.8 194.4h0M110.4 190h0M112.5 196.2h0M122.4 192.7h0M138.1 196.3h0M84.5 196.5h0M79.7 193.4h0M93.2 194.3h0M120.4 189.6h0M105.2 193.4h0M126.1 192.2h0M108.7 195.1h0M103.5 191.5h0M63.2 192.4h0M107.7 192.5h0M116.6 189.6h0M139.7 189.5h0M128.9 195.9h0M118.4 191.3h0M100.6 193.5h0M86.9 194.1h0M89.2 195.5h0M126.9 192.4h0M141.9 193h0M141.1 189.4h0M60.8 192.8h0M110.1 189.7h0M90.6 190.9h0M75.1 194.3h0M89.3 192.3h0M76.2 195.9h0M54.1 195.8h0M132.5 190.2h0M80.3 193.5h0M89.1 192.6h0M73.8 196.9h0M103.4 189.3h0M128.7 192.2h0M62.7 193.8h0M97.6 189.1h0M109.3 191.3h0M95.5 191.1h0M68.2 189.1h0M139.7 191.7h0M89.6 190.2h0M52.5 195.2h0M108.8 190.4h0M77.5 191.5h0M136.1 190.7h0M99.1 190.6h0M133 193.4h0M73.5 194.4h0M85.9 189.3h0M52.3 192.1h0M68.4 195.8h0M86.4 193.7h0M122.5 195h0M115.6 196.8h0M84 194.6h0M64.9 192.9h0M84 194.8h0M77.4 190.8h0M86.9 191.6h0M116.7 190.5h0M128.6 191.6h0M99.3 194.4h0M140 196.5h0M61.2 196.3h0M88.6 189.9h0M138.6 191.6h0M138.4 195.3h0M102.9 194.4h0M102.8 189.9h0M66.6 193h0M58.9 196.2h0M83.8 193.1h0M54.4 190.4h0M52.7 190.9h0M79.1 194.2h0M127.2 196.9h0M94.7 195.9h0M120.9 191.2h0M71 190.6h0M65.8 195.9h0M67.3 193.8h0M138.4 194.9h0M92.4 192.8h0M130.8 195.5h0M82.8 196h0M139.1 191.1h0M98.2 194.3h0M106.2 194.2h0M84.9 191.6h0M57.7 196.4h0M68.2 189h0M66.3 193.7h0M89.9 193.3h0M115.5 191.2h0M130.1 195.5h0M142 191.9h0M116.6 194.5h0M104.1 197h0M131.5 194.1h0M112.5 192.6h0M105.8 195h0M117.7 195.5h0M134.4 193.3h0M136.7 196.9h0M55.5 196.7h0M98.4 196.5h0M101.8 196.1h0M61.3 192.1h0M136.3 191.4h0M57.1 192.8h0M138.7 195.5h0M137.6 190.3h0M123.9 192.3h0M84.3 196.3h0M64.9 196.7h0M134.6 191.1h0M90.1 190.1h0M101.1 191.6h0M56.3 189.5h0M77.1 194.2h0M87.3 193.4h0M113.4 195h0M106.1 193.3h0M72.9 190.5h0M63.4 192.4h0M76.1 190.9h0M76 191.8h0M91.1 192.2h0M102.3 193.5h0M119.8 190.6h0M55.1 196.6h0M99 191h0M120.2 191.4h0M83.2 192.9h0M104 196.4h0M113.2 197h0M100 193.5h0M96.9 190.2h0M117.9 192.3h0M96 191.6h0M112 195.1h0M92.3 195.8h0M138.8 193.6h0M104.5 189.9h0M91.7 193.8h0M56.5 193.3h0M85.6 192.6h0M115.9 192.8h0M76.3 190h0M120.4 195.5h0M132.4 193.7h0M60.1 192.5h0M102.6 192.3h0M114.8 194.6h0M135.8 196.5h0M54.1 191h0M63.7 192.4h0M67.9 194.3h0M83.8 192.9h0M64.2 192h0M109.6 195.1h0M143.8 193.4h0M54.7 189.3h0M90.5 192.5h0M123.2 190.4h0M117.4 189.7h0M138.4 189.2h0M103.7 194.6h0M83.4 191.9h0M118.6 192h0M58.1 194.9h0M89.4 191h0M106.9 191.3h0M139.7 191.6h0M122.1 194.9h0M119.1 190.1h0M115.7 194.8h0M138 194h0M105.8 194.2h0M95 190.3h0M107.1 189.9h0M131 196.6h0M135.6 189.5h0M72.2 190.6h0M114.6 191.9h0M67.6 189.9h0M85.9 193.3h0M54.3 195.6h0M139.8 194.8h0M138.9 195.5h0M119 193.6h0M113.8 197.1h0M108.1 193.3h0M78.9 191.9h0M66 194.9h0M59 191.9h0M62.2 189.8h0M142.6 195.4h0M136.3 197.1h0M114.7 191h0M125.7 192.1h0M69.4 190.5h0M122.9 194.4h0M86.9 194.6h0M118.1 196.5h0M124.6 193.1h0M92.6 193.6h0M87.5 194.3h0M95.7 196.3h0M76.7 192.7h0M93.6 196.9h0M96.2 193.4h0M82.1 196.7h0M93.6 190h0M71.6 196.8h0M69.5 193.6h0M105.4 193.6h0M123.7 191.7h0M133.6 189.1h0M133.6 195.4h0M69 191.3h0M139.2 190.2h0M122.5 195.2h0M96.7 192.3h0M114.5 192.3h0M113.9 195.5h0M95.5 193.4h0M60.8 195.7h0M111.7 193.4h0M93.7 189.5h0M133.8 192.6h0M108.8 190.7h0M142.5 192.2h0M95.7 196.5h0M121.6 196.8h0M78.8 195.6h0M131.8 192h0M105.1 197.1h0M73.8 189.5h0M64 194.1h0M77.7 196h0M63.4 191h0M94.9 194.9h0M126 193.5h0M111.8 196h0M52.4 194.7h0M55.6 190.1h0M89.8 196.2h0M123.1 195.1h0M125.2 192.1h0M127.1 196.3h0M123.4 195.5h0M139.2 190.6h0M53 195.1h0M136.8 192.5h0M90.6 192.1h0M60 193h0M91.9 189h0M52 192h0M90.3 193.9h0M100.7 191h0M68.7 191.8h0M105.2 196.4h0M99.5 192.4h0M97.7 195.5h0M90.1 194.7h0M119.1 195.6h0M62.7 195.1h0M107 196.8h0M59.9 194.3h0M76.1 190.3h0M116 192.4h0M93.3 195.6h0M85.9 189.4h0M132.7 192.6h0M125.6 192.6h0M119.1 197h0M131.7 189.5h0M117.5 190.4h0M106.5 196h0M74.9 193.9h0M106 193.8h0M52.1 192h0M97.7 194.3h0M107.9 192.2h0M116.2 191.5h0M141.4 190.7h0M132.2 196.8h0M119.3 195h0M132.7 195.9h0M85.9 192.9h0M55.9 191.6h0M136.3 195.9h0M72.5 195.4h0M74.5 192.6h0M54.1 192.1h0M125.2 194.8h0M112.4 195.1h0M115.8 194.4h0M62.3 196.3h0M76.3 191.4h0M141.4 196.9h0M125.9 195.9h0M131.7 193.3h0M75.2 190.3h0M125.2 193.7h0M86.4 191.5h0M87.5 189.4h0M139.7 192.3h0M128.8 196.2h0M91.7 193.9h0M87.5 194.5h0M128.5 195.6h0M60.3 197.2h0M111.6 196.9h0M136.7 192.2h0M72.8 194h0M132.7 196.1h0M101.5 193.3h0M101.3 190.2h0M75.2 192.7h0M66.8 193.2h0M58.8 196.2h0M103.1 191.1h0M103 197h0M111.1 190.4h0M130 196.8h0M121.6 197h0M118.2 193.4h0M58 194.4h0M75.2 191.1h0M85.6 193.7h0M92.7 197.2h0M51.7 194.8h0M121 193.3h0M65.8 196.3h0M116 193h0M53.8 194.3h0M143.8 193.4h0M138.2 189.2h0M54.5 195.4h0M134.3 196.8h0M66.3 194.1h0M122.7 194.1h0M63.3 192.4h0M95.1 193.2h0M57.3 191.4h0M90.6 196h0M126 193.6h0M110.5 196.6h0M78.6 192.5h0M105.6 190.2h0M82.7 192.2h0M116.1 196.9h0M77 191.7h0M53.4 190.4h0M102 194.1h0M91 190.3h0M77.7 193.6h0M111.2 194.5h0M96.4 189.9h0M128.2 189.6h0M99.2 193.8h0M67.3 190h0M54.1 191.3h0M105.6 191.3h0M52.2 196.3h0M99.5 195h0M73.9 189.9h0M82.6 195.7h0M69.3 195.1h0M81.4 191.4h0M56.9 192.2h0M109.4 191.8h0M105.5 197h0M100 194.7h0M99.7 191.6h0M95.1 192.4h0M102.3 189.4h0M116.9 192h0M104.1 196.3h0M58.7 192.1h0M82.1 194.6h0M76.3 195.1h0M89.9 196.2h0M80.1 194.2h0M62.5 189.6h0M143.1 192.3h0M142 191.5h0M120.8 194.8h0M129.2 190.7h0M77 195.6h0M92.3 193h0M102.3 193.5h0M71.3 192.3h0M138.2 189.7h0M104.1 190.7h0M137.7 197h0M106.6 191.6h0M54.8 197h0M137 189.7h0M77.4 189h0M87.6 191.4h0M94.9 196.1h0M138.3 192.6h0M96.6 196.9h0M74.7 191.3h0M138.4 191.7h0M131.8 190.4h0M109.7 194.2h0M94.6 195.7h0M125.5 194.6h0M129.1 195.3h0M58.9 196h0M107.9 192.1h0M143.3 194.3h0M131.4 196.5h0M55.7 191.5h0M94.1 195.3h0M103.3 193.3h0M116.1 193.8h0M85.4 192.5h0M101.8 194.4h0M86.8 191h0M88.7 193.2h0M61.9 195.1h0M117.9 189.9h0M101.9 194.4h0M107.9 190.6h0M143.8 196.8h0M57.5 193.6h0M54.6 192.8h0M86.1 197h0M63.8 192.9h0M135.2 195.1h0M87.2 192.2h0M133.3 192.2h0M121.7 194.3h0M74.4 190.2h0M110.7 196.1h0M119 196.4h0M124.9 191.6h0M132.9 193.9h0M74.7 189.6h0M53.8 193.1h0M79.7 196.3h0M70.8 189h0M60.9 189.5h0M82.6 191.4h0M86.9 197h0M109.3 196.3h0M56.3 196h0M135.7 194.7h0M104.5 194.3h0M84.6 196.5h0M52.7 190.7h0M76.4 189.5h0M58.3 190.2h0M129 190.3h0M99.2 196.7h0M121.4 190.5h0M72.5 190.9h0M54.5 192.2h0M51.7 196.2h0M94.6 189.8h0M130.2 191.2h0M56.3 189.5h0M69.7 191.9h0M99.5 194.3h0M89.8 190.9h0M71.8 189.7h0M137.4 194.8h0M100.4 190.1h0M100.3 196.7h0M106.3 195.9h0M124.8 195.9h0M102 194.8h0M112.5 189.3h0M120.4 194.3h0M99.5 191.8h0M74.7 193.1h0M98.8 196h0M116.6 195.7h0M112.2 189.6h0M105.9 190h0M105.7 193.8h0M96.2 190.5h0M125.4 192.9h0M106.2 194.8h0M67.8 192.8h0M64.3 194.7h0M58.7 192.2h0M69.5 196.1h0M53.9 194.3h0M137.3 193.5h0M98.7 193.5h0M71 190.1h0M118.4 194h0M104.9 190.2h0M110.8 196.1h0M52.4 196.8h0M78.6 189.4h0M104.6 195.7h0M105 192.2h0M123.5 191.1h0M115.1 194.9h0M73.5 196h0M76.9 194.5h0M90.4 195.8h0M113.4 190.6h0M102.2 193.7h0M71 190.7h0M66.2 195.5h0M82.2 190.6h0M101.1 195.6h0M58 190h0M140.6 189.8h0M125.9 192.9h0M128.9 195.4h0M57.1 192.3h0M101.3 190.9h0M96.8 195h0M131.8 191.6h0M80.4 195.6h0M104.5 194h0M83.8 193.1h0M130 192.5h0M66.1 190.5h0M87.3 196.4h0M64.4 194.7h0M52.3 189.9h0M89.7 196.7h0M120.5 190.8h0M56.3 194.6h0M109.8 193.1h0M96.7 191.5h0M58.6 196.8h0M140.6 194.2h0M97.5 193.3h0M62.1 190.2h0M75 190.7h0M106 193.6h0M77.8 190.2h0M96.7 189.1h0M122.2 194.6h0M124.4 190.3h0M124.7 194.2h0M93.2 195.1h0M118 196.2h0M121.5 195.4h0M55.2 192.6h0M71.7 192.3h0M134.6 189.6h0M122.9 193.1h0M133.6 194.8h0M103.7 195.3h0M134.3 191.9h0M134.7 196.4h0M93.5 196.7h0M141 190.7h0M67.5 196.6h0M100.8 191.6h0M60.1 195.8h0M122.7 194.2h0M83.7 195.7h0M85 193.3h0M71.2 191.4h0M98.4 191.4h0M107.2 190.4h0M56.7 190.1h0M126.2 193.6h0M74.2 196.4h0M130.1 189.6h0M120.1 193.3h0M60.8 189.3h0M122.8 196.8h0M64 189.9h0M81.3 194.1h0M60.7 196.7h0M84.1 189.4h0M119.9 193.8h0M85.9 190.2h0M70.6 194.3h0M122.6 192.4h0M117.5 195h0M96.3 193.6h0M92.3 195.1h0M125.2 196.2h0M102.4 194.4h0M63.2 192h0M135.5 192h0M94.7 194.5h0M75.8 195.8h0M125.6 191.9h0M72.6 191.9h0M106.3 197.1h0M121.8 191.6h0M59.3 195.1h0M136.1 194.1h0M112.4 192.8h0M102.4 197.1h0M129.3 193.6h0M112.8 192.4h0M83.1 194.3h0M51.8 194.7h0M56.9 193.2h0M84.1 195.2h0M105.7 192h0M51.7 197h0M105 195.3h0M107.4 192.5h0M54.7 189.2h0M64.8 191.8h0M91.7 191.1h0M114.2 191.5h0M95.6 196h0M63.2 191.8h0M73.1 193.1h0M99.1 190.2h0M71.2 189.5h0M112.8 189.1h0M111.5 196.7h0M138.3 196.1h0M104.8 193.9h0M73.2 189.5h0M103.9 189.1h0M115.1 196.2h0M102.8 191.4h0M95.5 195.9h0M134.8 195.6h0M131 194.3h0M91.2 195.7h0M83.2 195.1h0M134.8 194h0M56.1 189.8h0M114.2 192.5h0M97.2 197.1h0M58.2 195.5h0M127.2 191.4h0M100.5 195.9h0M141.7 195.2h0M124.7 194h0M52.2 193.4h0M101.4 192.4h0M91.6 196.9h0M136.4 189.7h0M133.4 190.8h0M119.9 193.4h0M75.9 193.8h0M58.5 190.5h0M77.6 195h0M99.9 191.7h0M116.4 189.8h0M117.8 192.5h0M134.7 191.9h0M141.3 193.1h0M59.2 193.2h0M135.8 191.3h0M96.5 192.6h0M58.5 189.3h0M74 193.9h0M77.2 197.1h0M55.1 192.9h0M89.6 197.1h0M63.7 191.1h0M55.8 191.5h0M87.8 192.7h0M116.1 194.7h0M119.2 195.3h0M97.4 192.8h0M87.2 192.9h0M125.1 192.7h0M62 196h0M89.6 192.3h0M107.8 196.3h0M126.1 189.7h0M84.9 194.8h0M70.9 192.1h0M52.8 196h0M142.4 193.3h0M125.8 189.3h0M89 190.8h0M57.9 193.2h0M129.3 190.2h0M126.2 192.2h0M112.8 194.2h0M135 192.5h0M61.1 193.1h0M63.8 196.2h0M54.1 193h0M60.2 194.7h0M85.7 189.4h0M142 196.1h0M130.2 193.4h0M119.4 193.2h0M76.6 193.8h0M108 191.2h0M131.4 194.8h0M139.7 189.2h0M51.8 193.4h0M68.5 193.5h0M60.4 189.6h0M141.9 195.5h0M63.4 193.3h0M120.6 194.7h0M113 191.1h0M69.9 193.5h0M138.8 195.9h0M92.5 193.3h0M59 189.1h0M75.5 192.2h0M137.1 197.2h0M122.8 192.5h0M140.5 191.1h0M66.7 196.9h0M131.2 194.1h0M104.1 195.4h0M109.1 192.9h0M139 194.9h0M138.4 195.5h0M129.2 195.2h0M139.1 191.2h0M70.8 190.6h0M138.5 191.1h0M92.9 195.5h0M71.4 192.8h0M84.2 195.5h0M117.7 195.9h0M63.1 190.1h0M58.3 195.4h0M77.7 190.7h0M84.6 192.1h0M86.2 194.8h0M128.3 196.6h0M84.5 196.9h0M113.5 195h0M137.2 191.4h0M123.2 193.5h0M103.9 192.6h0M52.8 189.8h0M63.8 193.4h0M109.3 192.4h0M75.7 194.1h0M123.7 193.1h0M120.8 191.4h0M124.8 192.3h0M114.7 190.1h0M108 194.1h0M137.7 194.2h0M115.4 196h0M124.9 196.5h0M101.4 193.1h0M126.6 190.9h0M92.5 190.1h0M119.1 194.7h0M101 191.6h0M136.7 192.9h0M73.6 189.8h0M141.6 195.4h0M86.2 191.2h0M139.8 193.8h0M60.4 194.2h0M58.9 190.5h0M72.2 195.2h0M118.8 193.8h0M112.5 196.1h0M52.5 193h0M130.4 194.2h0M135.1 194.3h0M92.4 191.4h0M72.2 192.2h0M144.4 191h0M113.3 189.4h0M122 192.4h0M56.8 192h0M113.3 189.7h0M60.7 190.6h0M65.8 190.7h0M130.9 194.5h0M53.1 197h0M101.4 195.9h0M103.9 189.1h0M119.9 189.7h0M125.9 195.5h0M59.2 189.2h0M141.3 194.2h0M105.9 189.7h0M80.1 194h0M99.6 190h0M57.9 192.4h0M100.7 194h0M69.4 193.5h0M106.3 196.2h0M119.3 193.2h0M85.5 194.5h0M111.6 195.5h0M110.7 193.5h0M56.9 195.1h0M56.8 196.4h0M73.3 195.8h0M105.2 195h0M86 191.2h0M52.8 195.2h0M66.2 195h0M61.5 194.3h0M123.6 197.1h0M60.5 193h0M69.7 193.2h0M97.9 195.2h0M86.5 191.6h0M52.1 195.5h0M103 196.4h0M93.7 189.2h0M61.7 194.8h0M105 194.6h0M100.9 196.3h0M112 193.5h0M139.5 190.2h0M66.8 196.4h0M62.8 190.8h0M82.1 195.5h0M57 194.2h0M109 189.2h0M80.9 190.6h0M142.3 193.9h0M68.1 196.9h0M74.7 195.4h0M106.3 194.5h0M118.9 192.5h0M106.9 191.7h0M89.6 191.8h0M57.7 193.5h0M94.1 193.5h0M122.5 192.1h0M56.8 193.1h0M126 189.7h0M81.3 189.7h0M82.4 190.5h0M130.8 195.3h0M110.8 193.1h0M118.5 189.5h0M67.2 189.1h0M53.9 197h0M102.4 195.7h0M81.8 193h0M101.3 195h0M62.8 190.1h0M116 190.4h0M138.1 190.1h0M98 196.7h0M135.9 194.4h0M111.2 195.9h0M87.9 191.7h0M93.8 196.3h0M85.6 193.6h0M139.5 190h0M130.6 197.2h0M139.3 191.4h0M55 193.2h0M136.8 193.8h0M104 194.8h0M142.2 194.5h0M67.9 190.9h0M107.1 190.4h0M110.7 194.4h0M127.8 192.8h0M100.7 194.5h0M85.4 197.2h0M121 191.3h0M88.2 195.4h0M65.2 196.3h0M106.4 192.4h0M100.6 190.6h0M90 193.2h0M79.2 193.3h0M53.3 189.9h0M126 192.5h0M118.1 189.4h0M79.3 189.5h0M68.1 192.2h0M111.5 196.6h0M125.2 196.3h0M65.1 195.1h0M112.8 189.4h0M109.1 196.7h0M91.9 191.2h0M56.9 192h0M96.5 191.9h0M86.8 192.3h0M63.6 196.4h0M60.6 193.9h0M137.2 189.1h0M72.8 194.9h0M125.4 189.2h0M137.9 193.2h0M83.1 190.1h0M78.6 195.2h0M63.4 195h0M55.9 193.6h0M144.4 192.8h0M83.5 191.1h0M74 195.3h0M113.6 189.1h0M68.7 196.9h0M134.1 190.2h0M94.3 194.4h0M54.7 193h0M66.6 194.3h0M60.4 189.3h0M118.6 191.2h0M100.9 190.7h0M96.8 194.3h0M120.2 189.6h0M59.9 193.4h0M112.7 191.3h0M54 192h0M117.4 193.8h0M81.3 191h0M99 195.2h0M104.5 196.3h0M86.7 190.8h0M73.7 195.1h0M101.2 193.8h0M144 190.2h0M116.7 191.7h0M88.6 194.7h0M112.1 194.8h0M66 190.3h0M75.6 189.2h0M110.2 195.9h0M106.3 190.3h0M79.5 189.4h0M99.4 193.2h0M70.8 196.4h0M99.6 189.6h0M99.9 192.8h0M101.5 190h0M117.5 192.9h0M70.3 196.7h0M129.7 192h0M98.4 192.3h0M121.8 195.7h0M98.6 191h0M133.6 192h0M126.9 192.2h0M127.6 191.5h0M143 193.9h0M138.7 193.2h0M107.2 190.8h0M95.1 193.6h0M88.6 194.7h0M116.8 196.1h0M105.5 195.6h0M69.9 192.3h0M97.9 196.1h0M65.5 191.1h0M111.8 191.5h0M81.9 192.3h0M82.1 193.8h0M80 195.9h0M139.3 196.5h0M97.3 195.5h0M138.5 189.3h0M139.5 195h0M99.6 192.2h0M130 191.6h0M89.9 192.3h0M88.1 190.6h0M136.1 192.6h0M73.2 193.3h0M127.4 189.7h0M97.5 191.6h0M65.7 190.4h0M139.2 196.6h0M88.5 193.3h0M75 190.3h0M57.4 190h0M99.8 194.8h0M55.2 193.5h0M131.9 195h0M93.8 189.4h0M141.3 190.4h0M123 190.5h0M66.9 189.2h0M135.1 190.9h0M65.2 197h0M129.2 195.5h0M56.6 196.3h0M108.5 191.5h0M53.8 191h0M71.7 189.9h0M82.2 192.1h0M136.3 192.3h0M82.1 196.6h0M110.3 189.6h0M81.5 191.9h0M77.3 191.3h0M100.8 190.8h0M70.5 193.2h0M65.6 192.5h0M55.1 195.3h0M58.8 190.8h0M84.3 193.5h0M56.2 195.6h0M138.6 195.6h0M117.7 191.2h0M79.2 191.9h0M84.3 185.5h0M68.7 181.3h0M54.2 184.9h0M112.5 183.9h0M113 183.8h0M59 182.1h0M72.3 182h0M102.7 181.6h0M54.6 181.6h0M140.7 187.4h0M127.9 181.8h0M126.9 187.1h0M56.6 185.5h0M88.9 185.9h0M104 186.9h0M58.3 183.3h0M133.8 181h0M137.2 182.3h0M64.7 183.9h0M84.6 180.9h0M55 184.4h0M65 185.8h0M72.4 181.4h0M112.7 187.1h0M90.4 182.5h0M131.7 181.1h0M116.9 182.8h0M67.6 180.8h0M138 186.8h0M136.9 183.1h0M84.4 184.3h0M145.1 182.3h0M114.3 180.4h0M85.1 180.8h0M117 186.6h0M136.6 187h0M109.9 185.5h0M59.5 183.7h0M109.2 183.2h0M106.5 186.6h0M143 186.7h0M112.5 181.1h0M89 182.9h0M107.2 182.3h0M83.8 183.1h0M110.8 183.8h0M90.3 185.9h0M81.7 182.6h0M91.1 181.9h0M135.2 183.6h0M91 182.7h0M108.5 184.7h0M140.3 185.2h0M113.7 183h0M116.7 184.1h0M131.7 180.6h0M93.9 184.1h0M90.9 187.2h0M121.4 181.2h0M118.6 184.5h0M108.7 186h0M107.9 183h0M115.2 184.4h0M54.8 184.7h0M116.8 186.1h0M56.7 186.4h0M110.1 185.4h0M109 185.9h0M143.1 183.6h0M88.2 183.1h0M141.2 182.6h0M111 184.6h0M138.9 186.3h0M61.9 180.3h0M109.4 184.2h0M111.3 182.7h0M119.2 185.3h0M77.9 182.3h0M136.3 187.1h0M124.7 187.2h0M108.7 185.6h0M69.4 180.7h0M89.5 187.2h0M55.5 181.7h0M128.2 185.8h0M84.2 181.1h0M82.9 185.2h0M136 183.3h0M88.2 180.3h0M85.4 183.2h0M55.9 181.7h0M134.5 183.4h0M65.5 181.4h0M103.5 181.5h0M87.8 186.2h0M61.9 135.8h0M62.7 135.8h0M77.2 135.8h0M78 135.8h0M61.9 136.3h0M62.7 136.3h0M77.2 136.3h0M78 136.3h0M94.9 135.8h0M95.7 135.8h0M102.1 135.8h0M102.9 135.8h0M94.9 136.3h0M95.7 136.3h0M102.1 136.3h0M102.9 136.3h0M120.6 135.8h0M121.4 135.8h0M127.9 135.8h0M128.7 135.8h0M120.6 136.3h0M121.4 136.3h0M127.9 136.3h0M128.7 136.3h0M61 108h0M61.8 108.3h0M61 115.5h0M61.8 115.8h0M60.6 163h0M78.8 163h0M94.2 163h0M103.6 163h0M94.5 115h0M95.1 115.3h0M119.6 107h0M120.2 107.2h0M119.8 163h0M129.6 163h0M129.2 120h0M54.3 144.9h0M54.6 145.2h0M54.9 145h0M55.2 145.5h0M55.7 144.9h0M56 145.3h0M56.3 144.9h0M56.9 145.3h0M57.3 145h0M57.6 145.3h0M57.9 145.2h0M58.3 145.1h0M58.6 145.6h0M59 145.1h0M59.4 145.5h0M60 145.2h0M60.2 145.2h0M60.6 145h0M60.9 145.6h0M61.3 145.6h0M79 145.6h0M79.7 145.7h0M80.3 145.5h0M81.2 145.2h0M93.3 145.3h0M94 145.4h0M104.1 145.1h0M104.8 145.6h0M118.7 145.3h0M119.3 145.6h0M129.9 145.7h0M130.5 145.5h0M79.3 151.2h0M93.8 151h0M104 151.3h0M119.6 151h0M129.6 151.2h0M60.9 152h0M60.5 156h0M60.5 160h0M60 164h0M59.7 168h0M59.3 171.5h0M60.2 175h0M60.4 179h0M60 183h0M141.2 175.5h0M76.4 175h0M63.1 172.7h0M106.7 174.8h0M77 173.8h0M67.6 174.1h0M138.6 174.2h0M112.1 174.6h0M98.5 174.3h0M53.4 175.5h0M78 174.3h0M54.1 174.3h0M122.1 174.7h0M87.8 174.8h0M91.4 174.3h0M122.7 174.5h0M53 174.1h0M73 174h0M75.7 175.2h0M77.2 174.1h0M61.8 174.5h0M68.4 174.2h0M116.1 173.8h0M60.6 174.2h0M82.9 175.3h0M85.1 174.4h0M81.5 174.8h0M108.8 174.7h0M76.2 174.4h0M52.3 174.1h0M55.7 175.2h0M128.4 174.6h0M103 174.6h0M66.3 173.9h0M73.2 174.1h0M127.6 175h0M128.9 173.8h0M80.2 175.1h0M105.7 174.2h0M118.8 173.8h0M116.8 174.5h0M120.2 175.5h0M129.1 174.4h0M83.1 175h0M129.4 173.8h0M131.9 174.4h0M85.9 173.9h0M80.6 174.4h0M98.9 174.3h0M105 174.4h0M84.4 174.7h0M129.8 175.2h0M115.2 174.7h0M89.5 174.2h0M73 175.2h0M64.9 174.8h0M128.9 174h0M131 174.5h0M81.1 175.1h0M113 174h0M127 174h0M116.1 174.5h0M67.8 174.5h0M136.9 174.3h0M138.7 174.4h0M115.2 174.9h0M139.8 174h0M99.2 174.6h0M61.9 174.9h0M119 173.9h0M128.5 174.8h0M116 174.8h0M68.2 173.9h0M79.6 174.3h0M59.2 174.3h0M121 174.4h0M131.7 175h0M106.6 175h0M107.1 174.4h0M138.8 174.9h0M122.9 174.8h0M86.3 174.7h0M92 175.2h0M116.7 175.2h0M80.6 174.3h0M74 174.7h0M74.8 175h0M58.5 174.1h0M134.6 174.4h0M121 174.6h0M120.8 174.6h0M134.8 174.3h0M67.4 173.5h0M117.1 173.4h0M87.7 174.1h0M111.7 174h0M105 175.2h0M87.8 174.1h0M121.3 174.3h0M115.4 174.2h0M104.5 174.8h0M101.9 175.1h0M99.7 174.8h0M134.6 173.8h0M67.2 175.1h0M52.6 173.8h0M91.3 174.8h0M138.1 174.2h0M57.5 175.1h0M108.3 173.2h0M98.5 174h0M80.8 174.4h0M119.2 173.9h0M56.7 174.9h0M143.5 174.9h0M120.9 174.4h0M102.2 174.5h0M128.4 174.2h0M95.4 174h0M55.4 174h0M99.2 174.5h0M91.9 174.2h0M101 174.8h0M75.4 175.3h0M95.3 174.2h0M125.6 174.4h0M51.9 175h0M112.2 175.2h0M117.8 175.1h0M125.2 174h0M70.8 175.2h0M86.4 174.2h0M125.1 174.5h0M116.1 175.4h0M64.9 175.1h0M94.1 173.9h0M125.3 173.5h0M55.5 174.7h0M59.1 174.3h0M98.9 174h0M81.1 173.8h0M94.6 173.2h0M123.7 174h0M99.5 174.8h0M128.9 174.4h0M123.2 174.6h0M133 174.9h0M67.9 174.3h0M58.8 174.5h0M81 175.1h0M91.6 174.3h0M85.2 174h0M67 174.6h0M99.9 174.4h0M98.9 174.9h0M112.6 174.3h0M99.2 174.7h0M139.4 173.9h0M102.9 175.3h0M60.4 175.3h0M56.3 174h0M109.3 175h0M60 173.9h0M116.1 174h0M106.4 174.4h0M62.6 174.7h0M64.2 173.8h0M101.6 174.6h0M114 174.3h0M106.1 174.8h0M128.1 174.3h0M136.3 174.7h0M62 174.2h0M92 174.1h0M134.3 174.7h0M136.4 175.4h0M129 175.4h0M59.2 174.4h0M81.6 174.8h0M94.9 174.7h0M89.6 175.5h0M117.3 173.8h0M100 174.6h0M55.8 174.4h0M133.7 173.5h0M114.4 174.3h0M102.3 173.9h0M139 175.1h0M100.7 174.5h0M79.2 175h0M128.9 174.2h0M88.8 175h0M58.7 175.1h0M119 174.1h0M81.5 175h0M88.5 174.3h0M56.5 174.2h0M111.3 173.8h0M63.7 174h0M54.4 174.7h0M54.6 174.3h0M114.6 174.5h0M72.4 174.6h0M85.6 174.1h0M84.7 174.4h0M132.8 173.8h0M80.9 174.8h0M129.8 174.3h0M128.2 174.4h0M59.7 174.2h0M82.2 173.2h0M74.1 174.9h0M114.6 174.3h0M142.9 174.6h0M73.4 174.7h0M55.8 174.7h0M108.2 175.3h0M71.3 174.6h0M79.4 174.7h0M124.2 174.3h0M142.3 174.7h0M67.5 174.1h0M129.2 174.9h0M108.8 174.7h0M127.6 174h0M80.9 174.2h0M116.7 174.4h0M92.8 173.6h0M122.4 174.3h0M107.7 174.7h0M56.5 175.5h0M84.4 175.8h0M139.2 174.9h0M133.6 174.4h0M137.4 174.7h0M94.2 174.1h0M114.5 174.2h0M93.6 173.4h0M118.6 175.4h0M79.7 174.8h0M118.2 175h0M96.1 174.5h0M96.7 173h0M129.9 174.3h0M86.6 174.8h0M127 174.6h0M117.7 173.7h0M70.9 174.3h0M95.8 174.1h0M95.6 174.6h0M63.2 173.9h0M102 174.2h0M124.4 174.9h0M93.6 173.9h0M85.7 173.9h0M57.9 175.4h0M65 174.3h0M112.1 174.7h0M140.9 174.2h0M99.5 173.9h0M87.3 173.7h0M82.4 174.5h0M71.1 174.5h0M104 174.6h0M114.8 174.8h0M95.2 175.1h0M64.6 175.1h0M136.8 175.1h0M78.9 174.1h0M100.7 174.2h0M81.7 174.2h0M75.5 174.5h0M67.2 173.8h0M104.8 174.4h0M80.6 174.2h0M137.6 174.1h0M84.5 174.8h0M80.3 174.9h0M128.1 174.4h0M96.1 173.3h0M122.4 174.4h0M59.7 174.3h0M134.6 175h0M57.6 174.3h0M71.2 174.7h0M119.4 174.1h0M116.8 174.4h0M68.9 174.7h0M76 174.5h0M115.5 175.1h0M99.4 174.4h0M54 175.6h0M125.9 173.8h0M52.2 174.9h0M54.6 175h0M97.7 174.3h0M56.3 174.8h0M138 174.2h0M61.6 173.9h0M135.9 175.2h0M100.7 189.1h0M63.8 186.8h0M98.9 188.2h0M71.9 187.2h0M124.1 186.3h0M54.8 186.2h0M98.2 187.3h0M141.8 185.7h0M99.3 185.9h0M73.5 186.4h0M104.7 187.5h0M136.5 186.5h0M112.5 188.1h0M107.3 188.4h0M77 186.3h0M64.4 185.7h0M143.7 186.2h0M97.5 187.7h0M74.1 188.8h0M75.1 188.8h0M120.2 187.7h0M109.4 185.8h0M116.9 185.8h0M53.6 189h0M100.7 185.7h0M75.7 187.2h0M75.4 186.9h0M95 187h0M82.9 185.7h0M105.6 187.8h0M94.6 188.2h0M145.2 187.5h0M102.1 187.9h0M130.8 188.6h0M93.9 185.8h0M91.2 186.1h0M62.3 186.1h0M64.6 187.7h0M107.2 188.6h0M92.9 185.7h0M124.4 187.3h0M84.6 188.8h0M69.8 185.8h0M133.2 189h0M133.4 185.8h0M76.5 187.8h0M120.8 187.9h0M110.9 188.4h0M138.2 187.6h0M100.9 187.4h0M94 188h0M69.5 185.7h0M140.6 187.4h0M129.5 188.6h0M68 188.7h0M87.4 187.3h0M96.9 187.1h0M133.5 186.4h0M99.8 187.3h0M78.5 185.9h0M122.5 188.3h0M57.9 187.4h0M99.9 188.1h0M68.2 188.9h0M117.5 186.1h0M145 187.5h0M121.6 188.1h0M93.1 187.3h0M54.7 188.6h0M114.8 185.9h0M110.1 188.3h0M69.4 188.7h0M116.2 186.8h0M102.5 188.3h0M130.5 188.6h0M78.9 187.5h0M139.4 188.3h0M68.3 186.1h0M139.3 185.6h0M64 185.7h0M109.5 185.7h0M77.6 188.9h0M75.3 187.2h0M83.5 188.4h0M53.9 187.1h0M56.4 189.1h0M139.1 188.7h0M93.8 189h0M122.9 186.2h0M91.4 187.4h0M65.4 187.8h0M120.3 185.9h0M107.4 188.3h0M134.1 188.6h0M118.2 186h0M114.3 187.9h0M85.8 186.3h0M86.1 185.9h0M112.9 187.5h0M143.5 186.6h0M82.2 186.2h0M137.9 187.2h0M125.4 185.7h0M134 188.6h0M99.7 186.5h0M106.7 189.1h0M69.2 187.4h0M142.9 188.3h0M53.2 186.1h0M94.1 186.6h0M75.9 187.6h0M119.1 187.8h0M127.8 186.2h0M71.3 185.9h0M109.7 189h0M69.4 186.7h0M99.6 186.2h0M132.2 186.4h0M118.7 186h0M145.2 187h0M95.1 187.1h0M104.3 186.6h0M101 187.6h0M62.6 187.1h0M131 187h0M107.9 185.6h0M110.7 185.9h0M85.5 189h0M95.9 186.6h0M124.3 187.2h0M90.9 186.4h0M76.8 186.1h0M99.7 187.1h0M98.2 187h0M108 186.7h0M68 187.5h0M80.8 185.7h0M105.3 187.2h0M87.9 186.2h0M133.3 189h0M64.8 188.4h0M137.8 186.3h0M129.1 188.2h0M96.8 187.8h0M85.8 186.9h0M115 188.7h0M79.8 186.2h0M97.8 188h0M72.5 185.9h0M56.6 186.6h0M114.5 188h0M139.5 186.3h0M65.4 188h0M109 186.7h0M54.1 187.6h0M100.7 187.3h0M80.1 187.6h0M105.4 187.9h0M63.8 187.3h0M127.9 186.1h0M116.6 189.1h0M57.7 186.4h0M122.6 187.5h0M101.8 188.5h0M80.6 187.6h0M137.7 189.1h0M86.6 187.3h0M61.9 187.5h0M117.2 186h0M117 187.9h0M110.8 187.1h0M64.9 188.5h0M124.6 188.1h0M116.5 186.1h0M135.3 188.1h0M143.5 185.9h0M136.6 187h0M54.6 188.3h0M110.9 185.7h0M81.5 187.4h0M141.2 186.6h0M54.1 189.1h0M67.1 188.5h0M57.5 187.4h0M109.5 187.7h0M143.9 186.5h0M78.6 187.6h0M68.2 188.2h0M117.3 187h0M77.2 186.8h0M98.9 187.2h0M57 186.3h0M124.8 189h0M67.9 187.2h0M93.5 187h0M104.6 185.6h0M144.1 189.2h0M106.6 188h0M97.2 186.4h0M132.3 186.2h0M54.5 189h0M122.8 185.8h0M125.7 186.7h0M116.4 186.1h0M133.8 187.2h0M103.6 187.5h0M56.8 187.3h0M101.7 185.9h0M110.1 187.3h0M128.2 186.4h0M104 186.9h0M74.2 186.1h0M92.7 186.1h0M71.7 188.4h0M122.9 188.9h0M126.2 187.1h0M57.5 185.8h0M115.5 189.1h0M130.3 186.9h0M131.6 188.4h0M111 188.7h0M72.7 188h0M124.2 187.5h0M127.6 188.1h0M74.8 188h0M121.1 187.9h0M76.2 185.8h0M94.3 188.3h0M122.3 188.9h0M128.5 187.4h0M81.3 187.5h0M134.5 186.7h0M69.9 188.8h0M140.5 188.2h0M143.3 188.5h0M109 188h0M103 188.8h0M76.5 188.4h0M117.2 187.1h0M53.8 185.9h0M134.2 188.1h0M131.2 187.6h0M82.3 187.1h0M88.3 186.5h0M82.1 187.1h0M66.3 186.1h0M136.3 188.7h0M55.4 186.5h0M99.5 187.1h0M126.1 187.4h0M80.8 187.7h0M118.2 187.9h0M60.7 189.1h0M88.4 186.3h0M85.5 186h0M70.5 188.9h0M68.6 188.9h0M126.4 186.4h0M136.8 185.8h0M91.3 189.2h0M80.7 188.7h0M103 188h0M139.5 188.5h0M74.2 188h0M87.2 187.8h0M126.4 186.6h0M74.3 186.1h0M65.2 189.2h0M130.5 186.2h0M61.6 185.9h0M111.8 188.3h0M100.2 186.6h0M76.9 186.5h0M102.7 185.8h0M133.5 188.4h0M88.7 188.9h0M135.4 187.6h0M55.4 187.6h0M81 188.5h0M105.3 188.4h0M73.1 186.5h0M73.6 186.9h0M101.8 187.3h0M142.3 187.9h0M110.5 186.6h0M121.2 185.7h0M108.2 189.2h0M62.1 188.7h0M77 186.8h0M88 186.9h0M139 187.2h0M85.8 185.9h0M139.4 187.4h0M144.7 186.4h0M82.5 187.6h0M135.2 188.6h0M129.6 185.8h0M97.3 187.4h0M120.5 186.2h0M90.9 188.1h0M52.4 187.2h0M94.1 188.9h0M144.8 188.3h0M108.2 188.8h0M118.1 185.9h0M99.7 185.8h0M68.7 188.3h0M138.6 186h0M117 188.3h0M141.9 188h0M120.5 187.8h0M142.5 185.9h0M90.9 186.8h0M143.8 189h0M80.2 186.2h0M104.7 186.5h0M143 188.1h0M124.8 186.8h0M101.9 187.7h0M120.4 187.4h0M90.1 186.3h0M73.3 188.3h0M113.4 187.8h0M134.5 186.1h0M132.2 186.9h0M87 189.1h0M85.1 186.5h0M141.2 188.2h0M96 187.9h0M61.4 186.6h0M56.7 186.9h0M60.5 187.8h0M59.9 187.3h0M58.1 186.1h0M52.7 186.3h0M59.7 185h0M52.8 184h0M60.2 187.3h0M54.4 183.9h0M58.6 185h0M54.3 187.5h0M53 186.1h0M60.9 183.5h0M57.4 183.4h0M57.6 183.4h0M57 185.9h0M59 185h0M52.9 187.5h0M57.8 186.3h0M56.4 187.6h0M56.8 184.2h0M56.2 186.6h0M56.2 185.2h0M54.7 184.4h0M55.1 184.7h0M58.3 185.9h0M51.7 184.8h0M51.6 186.6h0M54.2 187.3h0M57.9 186.3h0M59.2 186h0M58.7 186.9h0M52.3 186.4h0M59.7 184.3h0M55.3 187.3h0M60.6 184.2h0M56.4 185.4h0M57.2 184h0M55.3 187.3h0M53.9 187.3h0" fill="none" stroke="#0072BD" stroke-width="2.2" stroke-linecap="round"/>
<polyline points="51.4,203 52.1,199 53,195 53.9,192 55.3,189.5 56.6,188 58.4,186.5 59.7,185 60.4,182 60.9,172 61.3,160 61.8,143 62.9,112 64.2,79 65.3,68 66.2,63 67,61 69.1,60 70.9,59 72.9,57.8 74,59.3 74.8,65 75.6,80 76.8,112 77.9,143 78.8,170 79.5,190 80.1,199 81,203 81.7,201 82.6,198 83.9,196.5 85.7,195.5 88.4,195 91.1,194.5 92.4,193 93.1,188 93.8,173 95.1,143 96.7,79 98,54 98.7,48 99.2,46.5 99.6,48 100.3,54 101.9,79 102.9,143 103.6,170 104.3,185 104.8,200 105.7,207.5 106.6,209.6 107.7,208.8 109.5,207 113.1,205 116.6,204 118,201 118.9,190 119.8,170 120.7,143 122.2,79 123.4,50 124,43 124.4,41 124.8,43 125.6,50 127.1,79 128.3,143 129.2,165 129.9,180 131,200 132.3,211 133.2,213.6 133.9,212 134.6,209 136.4,205 139,203 142.2,202.3 145.1,202" fill="none" stroke="#00FF00" stroke-width="0.9" stroke-linejoin="round"/>
</g>
<polyline points="166,203 167,198 168,193 169,189 170,185.5 171.5,182 173,180 175,178.3 176,174 176.6,160 177,143 178.4,110 180,79 181,62 182,55.5 183.5,54 186,53 189.4,51.2 190.4,54 191.2,70 192,95 193.6,143 194.6,165 195.6,183 196.3,193 196.9,195.6 197.6,193.5 198.6,190.5 200,189 202,188.2 205,188 208,187.8 208.8,184 209.3,165 210,143 211,110 212.4,79 213.5,55 214.4,44.4 215.3,52 216.3,68 217,79 218,110 219,143 220,165 221,188 221.8,200 222.5,204.2 223.5,203.5 225,202 228,199.3 231,198.3 233,197.6 234.2,194 235,180 235.6,143 236.6,110 238,79 239,50 239.7,39.5 240.6,42.5 241.3,47 242.4,79 243.5,110 245,143 246,165 247,183 248,198 248.8,206 249.3,208 250,206 251,201.5 252.5,198.5 254.5,197.3 257,196.6 258.6,196 260,197.2" fill="none" stroke="#FF0000" stroke-width="0.8" stroke-linejoin="round"/>
<g clip-path="url(#cb)">
<rect x="327.4" y="187.8" width="212.5" height="11.4" fill="#0072BD"/>
<polygon points="367.9,112 373.9,112 385.3,143 385.8,165 386.8,185 386.8,196 352.7,196 352.7,185 354.2,165 356,143" fill="#0072BD" stroke="#0072BD" stroke-width="1" stroke-linejoin="round"/>
<polygon points="432.3,112 438.3,112 440.8,143 441.8,165 443.3,185 443.3,196 428.2,196 428.2,185 429.2,165 430.2,143" fill="#0072BD" stroke="#0072BD" stroke-width="1" stroke-linejoin="round"/>
<polygon points="489.8,112 495.8,112 498.3,143 499.3,165 500.8,185 500.8,196 485.2,196 485.2,185 486.2,165 487.2,143" fill="#0072BD" stroke="#0072BD" stroke-width="1" stroke-linejoin="round"/>
<polyline points="434.2,161.5 435,144.6 354.2,165.7 480.1,192.5 365.3,185.9 375.5,119.9 377.7,133.9 363.9,151.4 407,195.5 362,87 360.2,145.3 494.9,75.2 414.6,191.8 437.7,142.4 433.2,123.6 344.6,194.3 491.8,161.2 376.2,156.8 365.2,196.6 370.7,61.9 384.7,132.8 368.2,101.1 493.1,131 383.6,166.8 348.1,190.1 426.1,195.9 345.6,193.1 493.5,166.8 473.8,172.9 437.2,120.2 371.2,66.5 384.2,125.9 339.2,173.1 363.9,170.2 492.3,151.9 369.4,145.7 436.8,122.7 375.9,76.2 493.1,30 384.9,136 492.9,25.3 379.3,92.7 379,105.1 370.7,156.4 494.2,159.9 390.9,193.1 341.6,195.1 434.1,80.6 468.2,189.1 368,96.9 377.3,116 401.1,191.1 364,192.6 357.7,137.6 339.4,189.7 371.7,148.1 437.5,172.8 494.8,97.9 428.3,154.6 458.4,193.3 373.3,144.4 476,171.9 376.7,170 490.5,79.8 387.6,194 428.1,173 438.7,155.9 371.4,84.4 359.5,148.8 455,192.5 433.5,88.9 376.9,143 498.2,173 435.5,84.7 377.6,111.5 452.1,192.4 331.5,192.1 451.4,192.1 363.3,193 535.4,195.7 363.8,193.2 429,190.2 381.9,138.3 486.3,144.6 435.7,93.5 376.8,110.9 373.3,90 490.8,98.6 381.7,174.3 490.2,161.4 359.8,101.4 357.2,147.1 522.1,197 495.7,182.7 493.6,105.4 436.7,74 516.3,196.2 371.4,173 365.9,128.1 482,163 492.1,104 376,153.9 446.9,173 367,50.5 433.4,155.9 493.8,83.8 364.6,130.2 495.8,120.1 365.4,81.5 376.7,173 521,182.3 352,188.8 488,193.4 436.1,153.8 381.7,59.7 376.5,105 510.9,195.9 364.3,134.4 493.4,166.7 529.7,182.6 436.7,193 481,193.2 437.5,189.3 377.4,164.3 437.6,183.1 508.6,189.5 354.2,184.1 383,170.7 427.8,191.1 496.3,131.4 492.7,27.6 432.7,140.7 432.3,187.8 377.9,167.2 492.4,29.8 368.8,116.2 435.9,123 491.8,189.4 498.6,168.6 440.2,191.6 361.4,120.3 375.1,83.2 486.9,191.7 492.3,182.8 496,195.7 436.3,141.5 361.2,136.8 357.3,116.8 435.2,193.9 490.9,193.1 435.3,123.2 497.7,170.4 501.9,186.8 494.3,129.7 377.1,194 367.5,156.5 492.9,95 359.8,185.8 362.7,193.7 379.6,92.5 490.8,123.4 434,161.8 367.4,75.1 404.7,180.8 505.7,190 373.2,157.6 497.5,172.6 370.8,179.6 502.8,186.1 375.1,193.1 367.7,127.1 378.3,138 490.1,101.1 378.5,131.3 438.6,142.2 394.5,172.8 488.8,142.5 428.9,191.6 375.9,193.9 489.9,112.8 355.4,190.1 465.2,189.6 449.3,197.1 377.3,115.5 495.3,171.7 360.5,175.9 433.4,154.8 436.9,139.2 371.6,186.9 380.8,147.3 507.1,196.6 441.4,173 341,196.3 367.1,195.1 437.7,148.9 491.8,34.3 491.5,57.6 383.5,98.1 356.2,137 385.9,192.7 368.9,80.1 362.7,135.5 367.1,188.9 467.6,189.7 364,64.7 494,84.8 342.5,191.4 494.7,101.6 475.6,192 467.7,190.6 503.1,190.7 488.2,130.7 379.5,126.7 365.8,57.4 484.7,195.7 489,194.4 380.8,40.5 369.4,76.6 383.6,36.7 418.2,195.7 371.1,169.9 429.8,90.6 348.9,192.5 371.9,115.2 494.2,34.6 363.6,182.7 491.1,90 494.1,193.7 381.4,191.3 381.9,39.2 371.8,142 359.5,174.3 352.6,115.8 435.9,157.3 433.3,194.6 386.3,148.9 471.9,173.3 381.1,191.7 492.3,101.7 496.7,193.2 436.4,195.4 357.3,192.3 365,142.2 437.2,122.9 373.2,117.2 368.9,57.5 491.5,149 496.3,183.2 432.6,190.3 501.1,195.2 371.6,122.1 380.9,109.5 438.7,175.3 435.8,125.4 371.3,76.7 495.6,169.3 490.1,137.3 375.9,181.6 382,190.3 493.2,191.7 415.2,190.9 491,99.5 341.5,196.4 366.7,40.4 378,171.4 371.6,176 375.4,108.4 493.1,140.9 494.3,46 440.2,193.1 370.7,142.4 359.2,152.4 444.4,189.3 382.7,121.7 510.2,190.8 380.4,189 371.7,176.1 364.6,151 494.7,118.2 364.2,117.9 508.7,181.1 378.8,113.4 478.5,193.4 520.1,183.1 437.2,66.4 374.3,112.9 436.9,95 452.9,173.2 493.2,72.2 332.5,189.8 492.9,27.5 444.8,194.2 375.6,40.5 374,165.4 440.7,195 368.6,148.6 334.3,195.1 435.8,190.2 435,192.9 494.7,34.2 403,174.1 490.8,191.7 493.2,170.2 373.5,191.4 493.3,162.8 497.1,180.2 492.3,97.8 488.9,132.1 493.2,185 358.3,151.2 451.3,193.8 491.7,77.7 355.2,189 381.4,170.5 368.1,183.3 496.5,55.4 358.6,182.4 424,151 357.5,164.3 489.3,95.9 368.6,40.3 502.3,172.4 434.6,157.6 471.8,184.4 495.2,148.3 533.8,186.7 411.1,190.6 493.2,195.9 369.3,195 361.7,159.1 335.4,191.3 354.9,169.7 394.8,190.6 491.8,66.5 379.1,192.6 358.2,149.5 371.3,30.9 501,196.6 493.9,64.1 410.5,192 381,88.1 368.6,192.5 401.2,192.6 382.9,154.7 366.7,118.1 379.9,108.1 418,192.2 429,185.1 341.2,190.1 360,122.7 439.8,141.3 439,163.1 480.7,185.3 368.8,40.6 357.7,109.4 492.9,185.8 387.9,195 370.8,69.2 376.1,143.4 368.2,92.3 483.7,136.3 463,196.7 374.9,129.7 372.4,164.7 523.4,196.1 495.4,155.5 437.3,107.6 432.6,116.1 465.9,189.8 493.9,180.8 372.1,103 376,182 436.9,110.3 373.7,66.4 374.8,164.8 433.9,50.6 365.4,160.6 366.7,126.4 358,138.2 438.6,167.7 430.6,128.2 375.4,78.1 381.6,95.9 437.2,118.6 438.4,146.2 493.9,172.9 379.3,194.7 487.3,183.4 479.7,193.8 491.9,191.6 491.7,130.2 386.9,136.3 369.4,43.4 438.4,114.6 350.1,190.6 494.1,194.8 361.7,129.2 435.8,57.6 494.5,192.9 481.1,172.5 436.6,161.5 466.4,189.4 492.1,62.4 535.6,193.7 495.2,132.7 452.4,186.6 380.1,157.8 376,188.7 370.5,134.2 378.5,31.1 379.8,141.8 374.8,72.2 349.4,197.2 518.8,197.1 335.4,193 361.3,127.2 415.2,191.1 384.1,83.4 356.2,191 368.2,100.6 376.4,116.5 495.2,59.9 491.6,183.5 368.3,75.8 485.5,164.5 493.2,122.6 371,191.8 489.5,193.5 367,174.9 436.2,194.4 360.7,140.5 462.8,192.1 363.5,177.4 514.7,193.3 384.9,181.9 438.6,161.9 437.9,154.5 354.9,160.9 433.5,160.6 376.3,174.8 459.2,195.1 436.4,167.5 433.3,85.4 369.5,112.4 347.9,172.6 361.7,84.7 428.1,190.9 410.2,189 487.1,194.9 442.6,135.8 438,191.8 364.2,177.2 534.8,173.3 433,133.6 495.2,118.6 444.4,135.8 400.8,196 373.9,120.5 435.8,133.4 535.9,192.4 488.6,148.4 528.5,189.8 383.8,162.1 455.6,192.1 378.3,124.4 359.2,130.7 495.9,136.6 369.1,139.6 373.5,172.9 330,197 492,154.6 435.2,135.5 354.6,149.2 513.1,195.2 498.6,194.1 435.7,188 458.1,192.9 500.7,172.8 492.4,74.5 496.2,113.4 367.9,195.6 421,192.3 495.2,192.1 362.6,189.4 360.9,148.1 359.7,172.7 434.1,181.8 495.9,107.6 507,172.9 438.6,62.4 379.9,186.6 492.5,164.4 433,192.1 518.6,196.7 496.5,141.4 365.5,190.6 376.4,185.2 433,137.1 379.4,189.5 374.8,179.1 496.1,125.5 441.3,129.5 380.8,83.6 492.2,69.3 362.2,109.3 376.7,86 440.3,187.2 490.8,138.8 354.4,165.6 406.9,197 380.3,119.8 487.9,172.8 490,85.9 495.7,172.2 366.8,76.2 436.9,64.3 357.6,171.3 387.4,190.2 385.1,190 433.9,109.9 492.3,78.4 435.2,195.6 370.8,117.8 332.4,195.2 384.6,176.9 360.3,119.8 475.4,192.2 434.8,64.3 429.7,157.4 493.7,71.5 490.9,136.9 361.4,178.1 380.4,169.4 366.7,104.4 372.1,127.4 370.2,70.8 482.9,191.4 376.8,190.1 378.8,129.2 364.3,105.2 366.5,175.7 339.7,193.6 492.7,43.7 434.4,76 377.1,62 368.8,145.1 396.4,195.5 381.7,62.1 361.1,103.9 332.6,196 372.5,152.3 358.9,134.2 433.4,89.7 385.3,144.4 434.9,53.2 488.6,41.4 463,182.7 433.6,109.4 492.9,136.1 486.3,152.4 440.4,183.6 364.4,138.3 375.8,192.2 438.4,102.7 437.3,136.7 444.5,173 436.4,92.2 399.5,194.2 532.2,193.9 374.2,41.3 364.9,132.3 333.2,190.5 355.8,192 440.1,191.6 376.9,179.6 439,193.9 380.1,69 334.2,189.4 364.1,109.8 442.1,173.4 367.2,193.9 369.2,194.5 336.3,195.4 414.3,190.4 383.1,99.3 361.9,123.5 359.4,181 458.6,192.4 379.8,59.9 491.7,34.3 366.9,189 378,190.3 508.7,173.3 374.6,86.2 372.3,97.5 438.3,119.5 491.9,119.1 365.4,129.3 364.4,53 363.3,39.3 437.3,55.1 493.7,64.3 431.9,83.3 436.9,78.9 494.3,195.6 375.2,75.1 466.8,183.8 365.9,172.9 493.6,144.7 384.7,194.8 366,106.5 373.5,173.1 374,123.6 363.9,105.7 491.2,45.7 484.3,194.8 374.7,194.4 493.6,95.8 435.8,38.8 435.2,113.3 519,195.9 377.1,102.1 494.4,171.9 467.8,195 369.4,170.6 480.9,195 350.6,145.6 374.5,59.9 419.7,172.6 373.4,129.4 410,194.3 349.6,156 357.6,118.4 431.5,69.1 365.2,111.8 379.5,196.9 373.3,71.3 363.3,62.3 431.6,191.6 363.6,174.4 364.9,156.3 421.4,193.6 454,182.3 403.5,196.5 380.4,118 365.1,167.4 371.2,122.9 430.2,105.1 435,120.9 431.7,85.6 381.6,45.7 501.3,191.6 489.1,195.2 474.1,193.2 360.6,70.4 484.5,172.8 348.6,193 435,175.5 365.8,193.7 366.8,165.2 371.8,45.8 496.1,71.3 374.6,73 374.9,98.4 374.3,159.1 399.7,173.6 443.3,189.7 503,120 371.2,153.1 465,173.1 421.1,193.3 477.4,195.9 493.6,48.5 335.4,189.5 490.6,134.6 352.7,173.3 496.9,156.1 396.6,173.4 373.6,41.6 372,189.8 330.8,193.9 361.9,190.3 438.1,130.7 430.1,183.5 410.9,191.7 492.3,184.7 433.6,141.9 383.7,173.5 491.9,124.5 357.5,192.9 497.3,190.9 437.5,191.7 493.7,158.3 524.3,193.6 360,113.9 520.9,191.4 334.7,193.1 430.8,104.3 478.7,194.5 363.1,154.7 354.5,195.3 376.2,189.8 492.5,43.4 366.4,104.6 490.7,157.6 353.6,193.6 523.1,189.2 358.8,178.7 484.7,172.8 416.2,185.9 394,173.3 380.5,99.2 380.8,137 536.9,192.8 489.5,165.2 495.9,193.6 493.8,192.7 393.5,194 493.3,84 482.3,193.4 473.8,196.9 371.7,150.5 351.4,189.2 347.7,196.8 446.1,195.3 430.7,185.8 330.3,193.4 494.2,36.8 368.8,55.4 346.4,189.3 497.1,145.9 489.8,183.8 348.7,195.8 361.8,104.7 380.1,115.2 433.5,88.8 431.4,184.3 370.7,179.3 364,37 496.5,54.9 437.7,165.8 510.1,193.7 493.4,169.9 383.5,195.6 440,191.2 373.6,189.5 372.4,125.4 378.4,167.3 488.1,190.3 434.7,99.4 370.1,125.3 404.1,192 471.5,194.9 336.7,189.3 494.6,151.5 368.2,110.8 357,152.3 373.8,173 405.7,172.5 363.5,118.3 435.3,139.6 490.3,176 376.6,57.7 370.4,151.9 378.1,172.5 510.4,190.2 363.4,40.5 384.7,190.6 492.2,70.8 484.7,192.7 377.1,57.6 346.6,172.7 380.9,114 492.1,169 490.7,188.4 353.5,173.6 492.9,131.7 365.6,102.2 330.5,173.3 374.7,28 394.2,195.6 365.7,93 378.1,147.3 365.6,140.6 365.1,184.8 455.8,191.2 434.8,96.9 525,173.4 436.9,173.2 380.9,87.1 480.3,196.4 420.7,195.1 376,28.5 362,170.7 383.6,175.2 374.2,114.7 375.5,169.2 366.7,176.9 384.1,147.8 371.5,121.2 497.1,102 494.6,194.8 376.7,149.4 437.3,130.5 365.2,84.1 506.3,189.1 493.6,87.2 358.4,128.5 491.4,178.3 365.6,146.4 356.3,177.3 377,142.3 439.3,147.8 516.3,195.1 378.9,55.3 344.3,194.9 511.2,195.6 492.3,173.3 364.4,168.5 427.6,185.6 436.6,89.8 364.4,144.1 394.5,172.7 425.5,190.6 492.8,157 495.9,113.1 493.2,192.3 366.4,53 360.3,121.7 493.2,143.4 485.5,135.8 392.1,192.5 436,121.1 439.5,185.4 438.8,136.5 473.6,173.2 518,173.6 479.5,191.2 494.2,196.3 379.2,184.8 360.1,156 374.6,195.3 376.5,53 490.1,195.5 494.2,55.5 377.6,147.3 375,92 445.1,192.9 381.8,179.6 357.1,179.5 439.1,139.8 435.3,172.4 517.3,189.5 382.7,155.2 359,194.1 432.7,172.8 460.5,195.9 462,196.1 532,194.5 522.7,172.6 440,171.9 477.4,195.5 525.7,190.8 368.8,62.2 497.8,182.9 366.5,114.1 426.6,190.3 458.5,183.2 380.1,86.1 387.1,191.3 437.3,116.8 533,195.4 379.8,102.6 379.6,103.7 437.1,93.6 355.8,192.4 398.9,195.3 495.6,30.1 374.1,41.2 379.3,168.7 432.2,166.3 491.3,154.3 405.2,192.5 369.9,195.4 525,195.3 365.8,189.9 502.3,172.8 366.2,44 458.2,196.7 426.8,193.6 434,170.4 371.7,109.9 436.5,109.5 446.8,196.4 382.3,78.9 374.5,189.2 359.7,180.6 382.2,57.2 438.2,130.6 499.4,189.2 493.3,86.6 534,183.6 491.2,109.6 366.3,55.3 503.3,190.2 479.3,192 378.8,196 378.8,66.6 435.2,186.6 486.5,184.7 496.6,159.6 371.5,87.3 378.3,191.7 443,172.4 375.4,130.3 440.9,191.9 494.7,194.6 372.4,194 462.8,195.9 443.4,181.6 381.2,187.4 375.8,84.6 430.9,181.1 492.3,129.1 417.8,182.7 367.4,172 436.7,189.8 396,145.2 510.8,192.6 444.7,182.2 420.6,195.9 369.5,193.5 360.1,160.3 363.3,136.4 495,193 486.2,151.4 507.2,193.3 360.9,181.4 441.1,193.3 442.9,193.5 371.9,30.8 342.9,193.6 371.7,28.4 435.4,57.3 440.4,110.1 432.1,192.8 480.6,190.1 364,100.3 370.3,75.5 431.2,158.9 524.7,186.3 381.1,164 436.6,59.5 352.4,197 487.6,166.1 522.9,190.1 412.8,194.3 484.2,195.7 407,194.8 436.4,105.6 491.1,155.2 436.1,101.4 408.4,192.3 358,173.7 330.4,194.7 498.9,160.7 383.4,182 378.4,98.9 492,30.2 428.2,135.8 376.9,55.5 364.1,143.8 344.1,194.4 493.6,175.9 399.1,191.4 358.4,187.5 437.1,84.1 368.2,147.4 368.5,127.9 438.1,126.5 498.8,182 400.1,193.5 432,185.2 415,196.2 469.6,192.5 379,134.9 435.5,156.4 497,184 384.5,190.3 364,29.6 376.1,162.5 440.8,190.2 380.9,110.1 493.3,92.7 414.2,191 359.8,195.4 436.3,183.7 496.8,158.4 534,192.3 486,197 495.2,101.8 368.4,53.1 503,195.5 375.6,172.4 403.9,194.4 371.5,50.8 340.7,193.3 495.3,119.4 375,191.9 379.8,193.9 377.4,70.4 401.6,192.9 512.9,189.1 445.7,191.5 372.7,173.6 426.4,136.3 483.7,192.8 358,161.1 369.3,71.8 367.4,86.7 491.9,176.7 469,195.5 487.8,174.7 426.5,196.1 368.6,57.8 380.3,29.9 452,197.1 438.6,93.1 367.2,105.4 492.5,96.3 366.1,141.9 365.3,40.4 369.7,128.7 430,191.9 472.9,194.8 372.5,40.3 493.4,41.2 375.3,112.3 515.6,194 333.4,196.8 445.3,193.3 477.9,196.2 372.3,179.3 374.3,184.4 432.7,195.5 372,179.6 360.2,192.8 436.3,189.1 364.2,64.2 376.6,159.8 472.6,196.8 383.1,159.9 439,143.2 480.4,197 486.6,146.3 436.2,89.4 360.3,174.1 437.7,127.2 384.7,190.9 495.1,91.9 382,177.2 494.3,150.9 437.4,111.7 370.9,71.8 492.8,137.6 490.7,50.4 360.3,108.6 449,194.6 342.7,190 443.2,195.7 437.4,117.4 491.8,27.8 423.6,190.5 434.7,145.4 373,172.9 433.8,66.7 395.7,172.3 438,181.6 398.1,190.6 430.4,87.3 366.2,94.8 369.9,188.9 375.6,156.8 492.3,168 368.1,192 465.8,196.2 340.9,173.8 384.5,156.2 490.4,174.3 508.9,190.4 373.3,123.1 448.6,193.9 378.7,124.4 360.1,139.2 436.6,193.6 375.5,157.1 481,145.6 356.1,195.6 497,82.2 364.9,160.3 376.1,144.8 491.3,89.8 442.3,181.1 514.5,191.8 521.3,173 433.6,177.4 431.2,176.5 414.5,195.4 498.2,131.7 431,169.7 492.9,95.2 360.8,105.7 435.5,140.8 434.2,112.3 506.5,195.3 526.1,190 360.7,186.1 433.9,52.7 375.7,148.8 511.2,193.9 360.4,159.6 433.7,144.3 440,175.5 428.1,196 493.7,191.2 359.3,190.2 359.9,152.7 376.6,183.1 395.2,172.6 367.5,114.6 460,185.5 491.4,164.2 449.4,196.4 387.1,185 532.8,192.2 499.2,173 504,151.2 451.6,194.2 377.5,137.7 368.6,134.1 381,161.6 492,178.5 383.7,195.2 494,191 458.7,196.3 375.2,31 498.3,173.8 372.2,194.3 382.3,195.4 373.5,128.2 423.6,196.9 435.8,85.3 436.9,168.7 486.6,189.2 396.5,192.9 384.7,156.7 381.2,190.3 377,127.1 515.2,189.6 347.8,172.7 376,46.1 436.9,190 413.3,182.9 433.2,76.9 473.4,189.4 356.8,172.4 430.3,193.7 436.2,72.3 373.1,103.9 495.3,135 433.1,122.3 461,190 490.4,191.1 404.3,194.8 380.6,113.8 493.7,192.3 357.2,170.4 366.1,95.1 432.9,132.4 431.2,175.5 443.1,193.5 351.2,196.3 501.6,191.6 439.7,190.8 369.6,91.3 486.9,194.4 437.3,148.2 368.3,97.1 358,192 430.5,189.1 423.7,189.2 438.9,160.2 367.9,181.1 386.4,188.7 366.5,96.8 489.2,129.1 453.2,191.3 433.3,172 491.1,48.5 413.8,195 362.9,153.9 431.1,157.9 429.2,172.9 409.9,189.4 433.7,61.8 487.1,162.9 498.9,195.7 365,46 466.3,194.2 488.2,159.3 375.3,109.7 377.8,55.5 465.4,196.5 438,108.8 436.7,188.4 362.2,111 490.5,81.2 490.7,103.8 380.9,121 494.2,84.8 490.3,193.2 364.7,66.8 372.2,87 492.3,50.9 382.7,172.8 361.2,183.3 495.7,115.1 337,184.7 371.7,74.6 465.9,172.7 370.2,181.4 374.8,138.2 509.5,190.6 430.6,83.7 439.8,167.8 375.5,163.7 375.5,135.6 429.9,116.1 380.7,120.7 375.8,118.9 353,188.3 385.7,193.8 362,67 370.1,102 359.9,162.9 492.3,86.9 364.5,165.1 382.3,191.6 371,81.6 382.7,128.7 489.3,187.8 379.7,160.9 368.1,91.6 364.3,150.4 363.3,155.3 331.2,196.3 370.9,171.3 404.9,172.4 339,191.5 378.8,194.6 340.4,196.7 404.6,172.8 486.9,156.5 366.9,172.4 337.8,193.5 375.9,156.2 488.1,30.1 427.4,172.7 437.8,194.7 438.9,195.9 341.3,192 358.6,131.7 377.3,28 437.4,194.8 431.3,165 365.2,73.7 437.9,153.4 373.4,179.4 377.3,123.5 390.7,191.9 360.5,131.5 384.2,139.6 377.3,122.9 411.4,183.1 357.9,193.2 495,36.7 495.9,111.7 373.4,50.7 371,165 377.6,122.7 438.5,171.9 363.7,43.9 362.1,183.2 438.8,162.7 367.9,112.1 459.7,193.1 494,163.9 362.6,184.2 354.7,193.8 454.4,192.5 490.6,107.4 460.4,185.4 375.5,153.8 383,73.2 371.1,154.7 372.1,55.3 502.6,190.3 361.1,59.8 513.2,192.6 497.4,99.5 368.8,140.6 356.3,132.7 384.6,178.5 358.9,150.1 360,163.4 421,192.8 370.6,154.5 430.4,79.9 364.8,57.6 498.6,184.8 380.5,152.5 360.9,118 430.8,152.3 379.3,180.2 384.7,195.9 385.3,189.5 384.3,187.1 488.6,175.2 438.6,64.4 491.5,180.4 491,74.2 531.6,196.1 358.6,180.3 380.9,159.3 439.6,155.7 378.1,189.5 430.5,149.8 490.9,193.9 432,149.8 383,158.6 430,192.6 379.9,125.5 486.5,136.3 423.5,172.4 349,175 366.3,66.5 381.4,89.7 489.7,160.3 488.9,147.6 369.3,122.9 439.6,191.6 331.2,191 502,192.2 357.2,189.7 361.2,189.2 361.1,94.2 491.8,31.9 366.1,105.9 366.9,135.1 495,39.4 423.9,189.4 494.2,177.9 438.1,118.9 493.5,196.5 368.2,192.8 479,191.3 489.1,64.1 430,133.6 377.9,55.4 518.4,190.7 367.3,195.3 433.9,59.8 432.8,176.5 432.9,187.5 430.7,190.1 379.5,176.2 368.4,112.9 475.3,172.9 487.3,135.6 380.6,174.2 497.7,167.9 439.2,116 380.3,196.4 491.4,195.8 489.2,64.4 438.3,94.6 365.4,172.6 380.3,70.2 381.4,116.6 357,147 437.3,175.9 432.2,193.3 398.1,192.1 372.6,135.8 438.1,81.9 382.9,134.4 396.6,191.9 391.2,194.2 473.6,189.7 370.4,87.6 386.3,194.5 492.4,71.6 396.9,172.6 436.6,168.3 380.5,41.7 379.2,130.7 490,130.8 449.3,191.4 333.8,173.8 537,191 448.9,190.2 496.5,155.8 375.1,31 440.8,190.9 434.6,191 365.7,126 473.3,196.7 363.2,116.5 431.1,166.6 436.7,122.1 341.1,185.5 492.4,163.1 492.7,29.7 461.7,193.5 381.6,39.3 377.3,48.5 490.9,150.5 345.8,190.8 358.1,186.3 440.2,124.2 519.1,189.7 354.6,184.2 434.4,64.7 378.8,44 374.7,195.8 363.2,62 437.5,103.6 380.9,31.3 476.8,189.7 434.1,147.5 361.6,190.7 355.8,178 495.2,27.4 356.9,114.9 453.5,193.3 367.1,162.2 384.9,131.9 493.8,143 377,120.7 336.4,172.7 488.9,142.2 429.3,173 488.2,123 365.4,140.6 494.6,197 479.8,172.3 370.1,191 431.8,108.6 495.6,169.9 374.7,185.8 514.9,183.4 493.8,41.2 442.5,189.7 497.9,192.2 523.7,190.3 505.1,191.2 380,183.5 504.9,195.1 365.6,31.3 489.8,187.5 382.4,48.1 364.1,129.1 349.7,193 496.4,168.8 495,183.5 492.2,169.2 389.3,194.1 376.3,103.5 361.4,186.9 331.2,195.1 369,189.4 369.3,187.7 435.5,115.1 433.2,177 490.6,32 364.3,126.2 491.2,83.1 490.7,126 429.3,140.1 436.1,102.3 504.6,145.7 442,159.6 372.4,74.8 367,64.3 494.4,29.7 349.5,173.6 391.5,193.3 440.7,183.6 372.9,106.4 434.5,172.5 494,172.5 428.7,192.9 436.2,138 526.5,191.7 383.1,135 371.5,29.7 380.1,89.2 372.4,177.6 402.8,194.2 380.6,61.8 432,131.5 488.8,196.8 367.9,166 375.8,81.9 444.4,173.7 367.6,28 523,189.7 359.7,187.3 490,131.1 366.8,167.3 371.1,64.7 435.4,173.3 378.2,60 425.2,194.4 358.3,153.3 374.3,30.1 526.5,191.6 491.9,112.5 527.7,185.2 521.3,194.8 373.8,48.2 381.8,43.5 492.6,34.2 388.5,182.3 512.9,194.8 529.9,190.4 498.5,134.5 450,193.6 476.6,172.3 442.3,194.1 384.5,169.8 491.2,192.3 458.9,191.8 369.4,195.1 368.6,123.7 494.7,135.5 381.4,183 524.1,193.2 434.3,184.7 434.1,44 434.8,84 394.6,172.6 433.1,150.7 464.2,196 343.8,192.4 470.6,190.1 373.7,73.2 436.3,184.4 363.6,194.1 377.7,173.5 368.2,119.9 491.7,160.4 367.4,185.4 513.3,195.1 381.7,151.8 493,129.2 431.9,92.6 491.5,146 360.5,39.3 487.9,191.1 489,170.7 441.8,148.6 432.6,151.9 369.2,159.8 331.1,197 357.5,194.1 491.5,154.6 437.7,129.5 524.1,191.6 369.5,160.8 439.1,164.3 379.5,66.5 377,67 448.4,192.3 438.9,142.8 416.9,190.9 364,109.5 371.1,181.8 502.9,191.5 365.3,77 513.9,193.9 413.1,185.9 359.5,121.3 337.7,195.3 332.2,190.7 488.2,121.6 358.5,194.7 380.5,142.9 374.9,163.2 501.8,136.3 432.4,189.7 429.5,193.6 376.8,154.4 374.5,28 435.8,105.3 437.8,145.9 438,80.8 436.9,192.2 504.3,173.5 473.7,193.8 498.9,165.9 373.2,80.1 436,59.8 433.3,105.3 387.3,191.5 369,82.7 364.8,167.9 512.4,190.8 432.1,163.9 375.1,116.5 408.5,194.1 441.5,134.2 403.9,194 362.3,36.8 514,190.2 508.5,193.3 493.9,175.5 434.8,59.7 491.7,27.4 492.9,174.3 515.6,195.6 434.8,190.4 413.6,197 439.3,81.2 435.8,144.6 446.7,194.8 347,171.5 489.8,124.7 374.8,171.5 405.8,192.6 397.7,192.9 440.3,114.7 529.7,173.8 481.1,193.2 439.1,150.4 433.2,98.7 374.7,146 409.5,172.2 492.4,124.1 493.3,85.2 371.4,53.1 435.1,134.7 491.1,181 399.5,195.7 490.6,192.5 487.7,106.5 493.2,99.3 429.3,105 364.4,128.8 493.2,50.9 491.5,109.2 505.8,194.2 449.4,194.6 344.2,189.2 446.5,190.5 377.9,172.2 375.5,30.9 364,177.1 451.7,194.9 416.9,196 434.6,111.1 388,195.5 519.9,173.5 374.6,41.7 368.1,155.1 372.8,149.5 496,110.5 365.7,144.2 381.5,129.4 375.4,185.3 367,100.2 432.4,131.2 441.1,133.7 410.6,173.1 497.6,98.4 396.1,194.1 371.6,144.5 362.2,182.2 377.2,173.6 500.3,186 436.5,79.6 490.6,150.6 379.8,185.3 375.5,187.6 361.3,193.1 420.8,195.8 362,194.9 487.1,191.6 367.1,87.9 362.1,128.8 496.4,182.4 483.4,195.5 410.5,172.5 496.1,32.4 411.6,180.3 381.5,111.8 411.2,190.6 496,104.4 377,173.1 439.4,101.6 384,34.7 374.6,189.3 379.1,46.3 366,67 380.7,31.2 430,191 488.1,192.1 363.2,77.6 491.9,104.3 338.5,196.7 411.6,195.4 501.5,195.6 336.9,193 358.6,161.8 493.9,50.8 398.9,197 491.4,57.5 435,142.1 365.5,141 401.7,193.1 385.8,184.7 489.7,173 369,121.3 361.3,190.4 489.5,147.8 493.9,92.8 436.6,36.5 364.6,146 369.3,138 380.8,194.8 384.2,195.8 504.5,172.7 399.7,196.5 418.4,173.2 390.4,192.9 355.8,161.3 500.4,188.8 435.2,100.9 371.3,169.8 430.8,169.8 365.3,99 378.5,46.2 367.5,153.7 362.5,186.9 495.2,116.6 368.2,160 356.8,144.6 337.5,193.2 353.2,180.5 381.1,192.6 365.8,188.5 480.7,189.4 422.9,195.6 433.3,196.7 435,171.1 510.9,196.1 489.8,94.7 470.5,172.7 358.1,194.1 367.7,181.7 438.2,82.2 432.8,154.1 441.1,134.6 382.7,138.5 375.4,74.6 524.1,172.7 398.6,172.9 474.5,189.8 357,147.6 509,172.8 478.3,189.4 431.3,132.5 340.7,172.6 376.9,134.1 368.2,164.5 372.8,145.7 424,196.3 364,135.6 433.1,195.2 435,193.5 439.5,164.1 495,70.3 489.9,50.8 442.6,136.3 406.4,190.2 360.7,164.9 498.2,109.2 336.5,181.6 379.9,89.5 523.5,194.9 438.2,67 429.5,109.2 442.3,172.6 521.7,192.4 493.7,140.1 445.4,189.3 365.1,78.3 496.2,121.1 490.9,103.4 360.9,175.2 365,95.9 379.6,191.8 495.1,159 508,194.8 376.1,105.1 441.2,194.4 438.5,107.5 366.2,136.7 487.4,126.8 506.2,197.2 536.4,189.3 492.7,64.1 376.3,105.6 345.9,190.4 440.8,100.7 432.8,119.3 375,140.1 446.8,197.1 374,192.8 366.4,193.4 476.7,193.8 437.7,114.4 372.7,150.1 373.8,79.1 372.7,190.6 493.3,139.3 480.6,172.4 435.8,194 495.9,138.6 360.9,68.8 405.9,172.3 491,48 489.5,143 440,151.5 336.3,192.2 432.8,173.2 346.3,145.1 382.4,133.7 498.1,172.5 436.9,94.5 431,110.4 364.6,162.2 355.7,175.7 498,135.6 394.3,191.7 363.5,175.4 444.3,196 375.5,140.6 373,135.1 415.4,192.3 497.6,165.6 433.1,97.8 493.3,57.4 362,134.8 438.2,135.1 369.4,100.6 437.8,136.7 490.8,111.5 358.9,162.9 485.5,177.5 386.5,150.2 436.8,124.3 493.4,53.2 374.2,152.9 365.7,62.1 427.4,178.2 490.1,102.9 504.8,192.5 464.9,173 412.9,194.1 473.8,191.9 359.1,185.9 443.7,189.2 484.8,192.2 382.4,116.1 487.8,112.7 446.7,186.9 372.6,136.2 484.4,191.2 366.8,132.1 381.2,105.5 375.4,166.5 489.1,37 365.4,107.6 487.7,149.9 434.3,171 360.1,155.6 340.4,144.9 453.7,172.8 372.7,189 415.1,195.2 365.9,158.5 378.8,190.1 356.9,179.1 353.8,167.3 451.5,193.3 370.4,124.2 407.5,191.5 436.9,110.7 366.1,190.9 439.5,172.1 462.7,190.4 497,193.4 465.7,196.1 435.8,156.4 359.1,180.4 370.4,48.1 361.4,193.6 352.7,182.2 367.3,99 437.8,195.4 379,189.8 423.8,189.5 493.7,73.2 384.4,152.2 435.1,149.8 381.9,143.4 382.7,115.2 377.3,157.3 440.6,188.5 493.6,34.4 497.4,148.8 364,156.8 479,189.5 495.8,181.3 419.9,172.5 454,190.8 496.3,193.6 502.1,196.2 373.2,40.6 487.8,102.1 492.4,160.9 370.7,158 361.7,62.2 488.4,138.2 366,77.2 367.8,55.1 435.2,134 372,90.2 355.2,143.4 525.4,190.2 489.5,72.3 489.5,100.4 365.6,72.3 374.3,169.5 347.1,195.1 431.5,197.1 332.9,195.1 387.9,193.6 384,163.7 415.4,193.2 366.7,48 497.9,97.3 499.4,144.1 369.9,125.9 490.9,96.7 384.8,187 495.6,120.1 360.2,195.1 383.5,168.5 413.9,192.3 436.2,96.3 365.4,41.6 381.5,185.5 431.4,182.2 494.7,108 349.4,189.6 376.6,121.6 435.1,149.4 440,196.3 492.9,62.2 371.8,85.3 436,191.5 527.1,193.7 359,188.5 358.9,192.1 372.4,174.9 518.9,191.4 475.3,172.9 379.8,152.7 421.2,190.7 370.5,147.5 492.5,138.6 373,180.4 383.5,139.3 354.2,189.6 432.8,106.5 373.9,52.7 377.2,85.2 461.7,196.1 361.4,191.5 374.8,28 378.2,146 373.6,29.7 497.9,162.5 348.6,191.6 495.1,153.5 490.7,168 359.5,182.4 438.2,177.7 492.4,112.1 439.6,111 377.1,96.2 439.7,180.7 364.4,133.6 434.9,139.4 440.4,41.2 440.4,195.6 431.8,103.2 379.5,31.1 432.9,188.9 430.3,184.2 376.9,112.5 433.6,69.1 486.9,140 435.5,115.5 436.7,140.7 377.8,154 491.7,114.4 462,193.1 491.7,171.6 499.3,179.8 373.2,180.8 360.7,130.6 497.4,122.6 522.5,193.2 491.2,125.2 379.1,195.1 374.1,194.4 438.6,196.7 380.8,109.1 368,147.5 379,126.5 498.1,174.2 373.7,151.5 432.2,144 494.4,171.3 358.8,150.8 376.9,166.3 489.6,190.4 452.4,196 363.3,155.5 361.7,118.9 353.2,192.7 363.5,132.8 477.8,192.3 493.9,52.7 499.8,172.4 372.5,48.6 433.2,184.8 477.6,173.4 492.9,106.8 357.8,171.4 437.7,177 434.7,73.7 400.1,190.1 366.1,91 382.7,130.6 431.5,145.4 359.2,191.8 374.4,164.2 446.4,196.5 376,144.9 488,176.5 391,145.6 363.8,114.6 374.3,133.4 363.7,189 490.9,84.5 475.6,182.8 412.4,194.7 494.8,69.2 383.7,172.2 440.9,183.3 363.2,184.3 353.7,164.2 470.5,172.9 351.3,195.4 374.7,192.3 382.5,175.3 493.8,156.5 356.4,184.3 383,40.3 374.6,195.5 352.8,180.3 368.8,90.7 367,83.7 433.4,168.3 362.1,97.8 358.4,185.4 519.2,173.7 419.8,189 376.1,40.1 382.7,154.2 376.2,97.7 372.8,126.5 363,102.9 372.4,90.7 359.1,124.2 362.7,113.3 370.4,157.5 440.6,168.9 506.9,194.5 433.3,196.1 367.8,191.8 434.4,170.9 383,168 359.8,148.4 490.5,78.7 491.3,25.3 436.1,86.3 386.6,191.7 373.8,170.2 413.8,190.4 495,94.5 336.1,191.8 369.4,30.2 496.3,143.3 455.5,183 485.9,163.5 497,116.8 493.4,156.5 505,192 380,57.2 350.3,189.3 429.6,180.5 430.5,180.1 377.4,85.2 418.8,192 384.5,191.3 377.2,50.9 370.7,163.7 493.1,112.5 496.5,180.1 379.5,53.2 359.3,121.7 529.6,189.4 491.2,194.9 443.1,193.8 490.7,172.5 373.1,50.9 368.3,145.8 433,138.4 497.6,179.1 429.4,180.4 468.3,195.3 494,57.6 439.1,174.8 435.4,158.1 375.2,174.4 364.6,195.7 358.8,148.2 491.9,140.3 374.7,48.3 378.9,144.1 470,195.3 381.4,181.9 378.9,180.6 485.1,170.7 385.3,195.5 436.5,192.6 495.4,113 492.3,186.1 392,190.9 434.6,169 371.2,184.1 380.2,193.4 379.4,117.4 491.8,173.3 486.6,159.5 350.6,189.5 376.3,45.8 491.9,106.5 376.5,72.6 492.8,41.4 354.6,135.8 492.2,162.4 382.1,154.4 336.8,189.2 439.9,160.1 367,108.6 435.4,101.5 483.3,189.6 436.5,53.1 384.7,172.8 346.2,190.5 451.1,189.7 387.2,192.3 369.9,156.9 431.3,154.4 495.4,96.8 498.1,194.2 385,183.8 433.4,186.3 362.5,181.5 378.1,40.6 438.7,191.7 421.3,191.3 390.5,195.6 411.7,194.1 496.1,153.4 510.2,194 370.6,156 491.8,27.6 436.9,55 523.5,195.5 382,130.2 373.2,92.1 438.6,153.8 390.1,189.4 491.4,59.9 492.7,193.6 374.7,191 493.4,71.8 369.1,145.8 491.1,83.9 521.9,172.5 382.5,81.8 486.9,192.4 379.2,176.3 373.5,93.8 494.2,41.2 382.6,123.6 365.3,151.7 361.8,145.1 380.5,106.1 494.7,196 495.4,189.3 373.4,114.2 364.9,193.8 361.3,178.9 356.4,170.8 331.9,193 365,102.9 358,146.3 494.1,89.3 490,195.4 376.5,190.9 433.1,104.5 363.5,102.2 437.4,152.7 436.1,170.2 477.4,172.2 497.5,124.8 500,179 359.5,158.2 362.4,111.3 509.3,194.1 493.1,93.8 490.7,155 382.4,169.7 405.7,193.6 363.6,178.4 341.8,192.2 361.7,37.1 402.6,181.1 368,181.3 518.3,183.3 340.3,173.2 457.9,185.9 349,145.2 336.6,192.8 343.2,189.8 363.9,189.2 405.4,197.2 515,173.3 491.8,156.4 438.7,113.8 493.3,140.2 409.5,193.4 443.1,194.4 360.7,166.8 377.4,28.5 418,181.9 353.1,196 367.3,94 375.4,189.5 378.4,163.1 456.2,195.4 368,142.8 368.4,73.1 496.3,32 397.9,194.6 360.8,141.9 380.7,154.5 366.4,155.6 365.5,161.7 373.2,190.6 430.5,189 438.6,125.6 378.4,82.8 379.9,173.1 363.8,150.5 441,145.4 463.5,196.7 372.4,140.2 491.9,97.2 501.4,176.3 357,157.4 489.8,66.6 430.4,171.6 380.8,175.2 381.9,57.4 362.8,182 439.9,29.7 431.9,140.4 463.3,196.1 337.1,194.6 439.2,104.9 497.5,175 375.5,196.1 446.1,193.8 528.7,187.4 380.7,40.7 488.4,167.7 431.9,193.3 449.5,193.4 490.2,156.7 376.9,120.1 368.6,183.8 438,112 435.1,197.1 433.4,71 495.9,193.5 359.3,138.9 489.5,46.1 435.8,156.7 477.7,192.5 496.6,193.2 491.7,85.2 365.8,59.6 380.5,141.1 366,80.5 468.6,197.1 372.4,82.1 370.7,118.8 371.3,45.9 362.5,183.4 376.9,30.9 335.8,144.9 366.2,62.2 331.8,189.8 362.6,66.7 358.8,173.4 375.2,169 390.1,195.2 492.5,79.6 373.4,68.9 436.7,127.8 364.7,196.3 388.7,191.6 496,103.1 431.8,80.1 370.4,182.8 434.5,30 494.4,158.8 491.1,195.9 490.9,145.8 341.9,194.2 489.7,106.2 434.6,159.8 508.4,196.6 371.5,88.2 346.8,172.7 386,187.4 345.8,172.9 448.9,196.1 360.4,148.5 371.6,68.9 375,165.9 346.8,172.8 431.8,195.5 475.2,172.8 365,82.3 383.6,122.3 392.5,193.4 345.7,192.1 366.7,196.9 432.4,127.9 495,110 433.5,50.7 373.4,182.9 374.7,103.8 345,197.1 363.8,79.8 491.9,31.9 423.3,196.7 380.6,190.2 387.2,189.7 366.3,194.3 484.6,191.3 365.3,171.6 390.2,192.5 439.4,172.6 377,60.1 497.8,134 484.8,193.6 437.3,191.6 491.7,185.8 493.8,121 488.9,191.2 373.6,171.4 367.7,140.9 516.1,196.9 362,69 484.3,191.4 344,193.2 462.5,191.4 365.6,189.9 364.6,30.9 492.5,117.5 415.8,194.9 376.8,191.9 375.3,50.4 509.7,196.8 407.5,172.7 528.3,194.7 441.1,91.4 432.9,180.6 495.2,117.2 356.2,163.3 362.7,186.6 372.5,195.7 441,195.9 364.9,50.4 456,193.3 438.4,180.8 360.2,95.1 382.7,77.1 371.2,139 416.3,193.9 437,173.1 422.3,189.9 359.4,119.1 488.5,192 365.4,191 378.1,46.2 497.2,71 425.1,194.4 370.4,133.5 373,96.4 446,196.8 378.4,82.4 496.1,81.6 397.5,192.3 498,125.8 438.4,194.7 491.3,48.6 375.4,138.6 372.1,127.6 367.5,76.3 375.5,193.7 494.5,171.3 491.3,80.5 492,59.5 436.1,41.4 352.8,195.1 340.2,172.5 490.5,181.9 369.4,168.7 369.7,171.9 369.6,141.5 508.6,180.6 359.4,178.8 360.9,149.5 518.8,192.3 432.7,46 377,121.7 441,192.4 364.6,149 372.5,43.8 365.5,43.5 383.2,192.9 525.4,190.6 493.2,115.8 496.9,114.8 410.5,172.6 366.5,174.7 368,96.8 342.9,173.4 518.8,173.1 384.5,139.8 382.8,188.2 444.7,196.4 488.9,29.6 492.8,130.1 460.4,189.7 451.7,195.2 372.6,165.6 436.4,126.1 495.8,190.7 373.4,99.2 516.4,183.6 531.1,193.7 491.9,172.7 437.4,80 356.6,146.9 330.5,197.2 531.3,195.5 373.5,40.5 371.9,40.3 361.1,124.6 372.1,193.2 383.5,159.1 376.5,70.6 364.6,134.7 471.6,196.2 382.6,155.6 500,178.5 464.7,195.1 362.6,93.2 447.9,189.9 430.3,187.7 491.2,64.1 432.7,161.3 366.4,105.2 493.8,50.7 365.5,131.8 433.9,194.3 494.5,109.9 377.3,139.8 396.1,191 495.4,167.6 381,103.4 488.3,171.5 498.9,122.5 437.4,102.9 380.2,146.2 450.6,172.6 496.4,41.4 365.7,77.2 458.9,184.2 432.9,109.5 367.2,41.7 435.4,170.6 493,152.6 359.3,96.9 492.7,92.2 374,192.6 494.5,189 378.1,191.1 434.6,81.7 437.6,72 512.9,195.4 438.5,174.7 363.5,154.5 409.3,192.9 492.6,196.1 360.8,191.1 371.3,129.8 383.6,193.2 493.9,129.9 497.1,188 408.6,191.6 500.3,196.8 431.4,139 354.5,195.1 386.7,178.7 437.7,36.5 429,136 376.8,31.1 490.8,125.2 435.4,91.6 348,168 490,190.3 344.2,190 356.5,184.1 494.9,187.6 474.8,189.6 495,116.2 535.6,193.4 373,90.9 488,195 350.5,152 433.6,154.2 520.4,189.7 371.9,89.7 365.5,175.1 345.5,194.8 498,127.2 523.9,195.6 374,116.7 438.3,129.9 379.2,188.8 438.7,150.5 362.2,48.5 365.6,144.3 415.8,190.1 430.4,174.3 434.5,147.8 376.4,112.7 361.6,125.5 355.2,193.4 490,123.6 473.6,190.4 432.5,78 441.7,191 436.8,195 515.9,192.1 368.1,90 430.6,31.9 376.2,177 491.7,149.9 380.2,84.8 433.3,162.9 495,172.8 357.8,143.6 496.5,148.7 439.3,148.1 367.2,163.4 495.1,149.3 362.7,153.8 388.7,136.3 367.4,124.8 492.2,67 429.5,128.2 525.2,191.1 367.1,28.2 489,158.8 365.1,190.4 371.8,187.6 492.3,167.4 395.4,190.1 372.5,74 448.1,195.7 447,197 402.9,189.4 331.2,193.4 533.8,193.9 423.8,192.6 362.4,167.3 429.7,189.9 363.8,138 383.1,194.6 494.5,87.9 493.6,184.5 497.5,169.7 368.4,46.1 332,172.2 357.5,132.8 376,192.1 489.6,139.6 371.2,143 434.4,192.6 491.2,139.3 412.8,173.4 437.2,102.5 348.5,145.2 367.3,195.8 501.2,173.8 415.7,194.7 438.2,191.3 489.2,54.9 429.1,150.1 414.4,187.2 365.4,154.2 491.9,57.8 337,197 367.1,135.8 370.5,134.4 399.1,192.2 367.5,50.5 429.1,171.8 435.6,194.1 368.6,139.2 362.7,40.5 499.3,194.9 494.7,158.2 431.1,131.9 381.8,86.6 376.4,98 435.9,140.4 347.3,195.9 436.4,152.8 414.7,190.2 364.6,109 421.9,195.5 493.7,59.9 362.6,182.2 382.4,34.5 464,172.5 450.4,190.2 433.3,167.8 482.9,189.6 357.6,153.9 374.8,176 520.7,197.2 437.8,193.5 370.1,118.2 365.8,163.8 370.2,124.6 493.5,153.1 394.2,195.6 385.7,182.3 370,150 355,175 434.3,170.6 371.7,31.1 530.1,193.1 371.5,60.1 452,195.9 370.5,28.2 439.4,164.4 481.2,189.2 368.8,195.7 377.9,193.1 344.8,195.4 473,194.4 359.6,158.1 379.8,193.9 497.4,155.9 333,172.5 367,50.8 519.2,191.3 399.6,185.2 438.1,178.9 376.3,178.5 441,189.9 362.3,83.9 462.4,184.6 429,132.4 477.7,189.9 508.9,191.6 439.3,172.9 492,118.5 489.6,127.8 364.1,153 494.8,62.3 433.2,91.4 368.9,79.7 375.7,159.3 435.8,32.1 427.9,156.9 372.4,83.7 356.2,193.3 495,179.6 491.8,87.7 380.8,146.9 441.3,193.8 390.5,195.8 372.6,176.8 410.2,191.4 490.3,195.2 372.3,135.2 486.6,164.7 402.9,193.5 432.1,195.7 378.6,190.7 435.7,187.9 367.1,149 352.4,195.4 434.2,196.5 365.4,173.1 360.3,197 435.5,70.1 375.3,152.2 428.2,136.3 375.8,168.9 357.7,177.9 434.3,95.6 492.6,160.8 493.9,112.3 369.6,169.2 488.2,195.2 496.1,190.8 351.5,145.6 383.4,120.7 365.7,140.3 382.8,43.7 492.7,186.8 347.6,193.4 369.5,183.8 398,195.5 372.3,55.4 361.2,150.5 367.6,94.2 380,180.5 491.1,181.5 494.2,36.5 526,190.2 355,174.6 359,193.6 497.6,86.1 493.8,181.9 362.1,156.2 493.8,100 374.5,31.3 491,55 437.3,106.2 490.5,93.8 383.2,100.7 406.6,191.2 363.7,142.8 350.8,115.5 366.4,146.7 432.8,83.1 412.4,194.7 496.4,196.1 493.8,163.3 430.8,106 375.3,115.5 438.8,190.1 433.6,124.5 376.5,29.8 448.9,192.2 438.1,101.4 378.3,52.9 435.8,147.1 522.7,186.8 436,186.1 380.6,126.1 397,194.6 346.4,189.1 494.5,141 492.9,73 436.4,150.7 430.9,148.9 409.9,194.5 417.8,190.3 434.9,167.3 403.2,196.9 435.1,27.7 443.4,194.7 380.5,97.2 377.6,158.1 429.9,173.8 373.7,191.6 491.1,94.1 381.3,40.3 440.5,121.5 530.2,196.9 490.4,197.1 391.6,151.2 368.9,140.5 494.1,69.1 436.8,189.6 366.4,127.5 437.8,87.3 537.1,193 497.1,184.1 517.1,192 382.1,92.2 497.3,142.3 495,191.9 490.2,166.1 373.9,137 370.4,117.1 428.1,194.2 368,168.4 376.1,148.1 497.9,116.1 378.5,59.7 432.1,178.9 356,134.9 437,92 435.6,81.4 414.6,173.8 532.6,193.3 358.8,192.1 501.8,135.8 383.6,113.8 369.2,123.2 434.6,68.7 383.4,162.7 374.4,148 494.4,154.6 381.5,195.5 499.4,190.5 361.6,161 374.8,151.1 444.3,194.4 436.1,179.1 349.9,145 341.6,145.3 379.1,115.3 516.5,191.1 372.3,131.2 366,149.9 364.4,182.8 368.6,31 429.8,95.6 379.5,178.8 522.9,172.6 436.1,100 431.2,155 357.1,189.3 368,157.9 437.7,179.4 331.7,194.7 365.9,68.9 436.2,99.3 498.7,185.9 493.1,70 375.8,153.5 361.7,167.8 375.5,139.4 356.2,167.6 526.4,192.3 361.2,134.3 364,108.2 491.3,177.9 430.3,196.9 373.8,116 436.7,126.7 384.6,171.7 500.9,190.6 363.8,77.8 433.3,127.8 340.1,192.6 525.5,191.4 439.2,197.2 377.9,46.3 435.8,192.6 375.4,99.6 491.9,142 475.2,184.1 495.9,192.5 399.4,196 488.5,172.9 426.9,193.2 495.9,108.9 486.3,162.6 431.8,170.1 493.5,32.4 363.4,74.2 442.2,165.2 449.4,195 493.1,68.8 450.4,190.2 489.8,121.5 488.5,143.9 430.9,155.4 364.2,120.1 498.4,194.4 360.5,141.1 435.1,162.3 425,163 341.4,193.1 516.9,192.9 330.1,196.2 500.4,151.1 364.6,140.1 391.3,173.4 363.3,159.6 367.7,122.3 448.5,172.8 382.2,111.9 465.7,183.9 373.6,95.2 377.3,111.6 372.1,118.5 364,187.4 361.5,183 440.2,179.6 380.3,118.1 489.8,64.6 356.4,170.3 475.4,186.1 357.8,177 381.5,189.6 495,136.2 361.1,114.2 388.9,172.7 488.2,168.2 431.5,128.7 432.8,98.7 361.8,133.5 493.7,148 375.5,172 439.1,159.5 385.1,173.4 369,41.2 381.2,30.9 370.5,176.5 362.6,194.1 377.7,172.4 374.6,150.3 380.2,141.2 376.8,192 382.9,139 385.3,188.8 479.4,173.7 370,106.3 383.5,169.8 512.2,192.2 491,48 463.7,196.9 486.4,156 504.7,196.8 369.9,152.9 364.8,123.4 432.2,107.1 379,90.4 358,172.2 367.8,170.7 365.8,31.1 480.2,172.4 489.7,149.7 431.8,192.7 485.4,172.8 382.1,34.7 379,62 494.8,96.2 387,186.9 372.2,28.2 432.3,119.6 418.1,192.3 365.1,129 493.1,80.1 451.4,173.1 437.8,120.5 501.3,173 361.8,101.4 436,196.7 486.5,146.6 365.7,124.7 332.2,196.7 435.6,130.3 434.5,62.2 496.2,192.2 386.6,182.7 377.4,136.4 355.6,171.3 405.3,189.5 359.5,138.4 431.9,89.4 359.6,192.9 377.8,59.6 370,131.7 371.2,112.2 380.3,141.8 410.5,186.2 401.7,193.1 378.5,172.3 489,193.1 434.6,147 469.9,172.7 491.7,174.9 372.4,157.3 491.5,41.6 455.8,194.1 430.9,184.4 506,145.5 383.8,159.2 480.4,194.7 413.2,190.8 398.7,190.5 370.5,80.5 506.7,195.5 496.6,147.3 378.8,30 380.6,122.3 373.5,57.7 415.2,195 490.7,78.4 495,152.2 497.7,183.6 443.8,191 364.7,165.4 363.9,39.2 369.3,57.2 488.3,192.4 493,113.9 491.2,182.9 494.6,69.3 475.2,190.5 359.3,173.7 438.7,190.2 493.5,125.6 359.7,117.9 463.1,172.3 522,190.9 520.2,196 434.9,190.2 446,163 488.9,127.7 489.5,141.7 493.7,118.5 484.4,173 367.7,150.9 449,195.3 370.5,108.5 491.9,128.9 490.3,138.2 533,190.2 367.6,148.7 376.2,120.3 490.8,68.8 440.6,191.9 438.2,106.3 434.4,128.8 504.3,172.7 488.3,154.8 439.4,98 381.5,193.1 464.2,191.5 383.8,64.2 428.1,192.9 488.2,156.6 378.3,191.1 495,193.9 493.5,50.9 371.3,189.8 474.9,195.7 368.7,103.7 436.7,192.4 365.6,180.8 443.1,184.2 496.3,134.4 377.3,81.2 491.5,110.5 376.8,153.1 364.3,89 429.3,193.4 362,93.5 366.7,192.2 379.9,195.3 458.6,191.3 429.8,174.3 352.8,135.8 364.2,143.3 379.2,162.4 361.1,176.3 336.1,190.4 339,173.6 362.8,140.4 484.9,194.5 489.4,195.1 446.9,190.7 378.9,53.1 440,145.7 341.3,186.4 391.7,195.4 408.4,190.7 366.5,110 353.2,167.7 374.8,80.2 432.7,141.6 378.5,78.7 424.7,193.5 475.9,193.7 426.9,192.4 488.6,179.4 357.4,163.5 375,169.4 382.9,151 448.6,145.6 499.5,173.3 364.2,119.6 493.2,108.3 383.6,175.6 436.7,194.3 358.6,177.9 521.8,190.3 377.9,149.9 395.5,173.5 489.2,61.8 340.4,196 435.2,156.4 451,194.1 368.5,171.3 492.6,140.7 487.5,177.4 381.2,55.3 365.6,158.3 354.1,181.3 354.6,136.3 373.3,176.7 435.6,193.8 435.2,79.2 368.4,171.4 358.7,173.2 432.9,136 378.3,161.3 364.2,173 457.4,173.1 403.5,192.1 489.3,89.8 435.5,188.7 371.9,142.7 367.9,111.7 430,130.9 440.3,97.4 435.7,182.8 466.3,191.3 361.3,77.4 437,32.4 376.9,81 463.9,191.2 363,43.5 493.2,144.1 438.1,142.9 436.7,187.1 370.1,28 356.3,192.4 365.1,95.2 361.1,101.7 489.2,99.7 375.8,195.2 437.1,169.1 437.5,68.7 379.8,181.6 517.8,196.5 498.5,172.8 382.5,142.5 375.9,175.6 379.7,78.6 356.7,196.4 380.8,177.8 392.4,172.7 494.1,192.1 376.1,182.1 336.5,145.2 493,187.2 374.2,149.7 517.7,191.3 438.6,148 374.5,151 373,145 357.8,126.4 456.9,184.7 374.5,85.7 364.6,41.5 342.2,189.9 379.4,161.5 361,127.8 466.4,192.4 370.7,68.9 439.7,163.8 356.6,127.5 437.1,44 446,194.6 443.6,192.3 361.8,195.9 484.7,193.3 370.2,193.2 511.5,193.4 373.7,45.9 359.4,133.1 497.2,100.5 491.6,43.6 380.9,117.4 532.2,173.1 433.4,181.7 492.7,115.1 376.8,162.5 369.3,147.9 381.9,191.3 461.3,196.6 357,193.4 482.3,193.8 427.9,193.4 492.7,50.3 493.6,136.9 370.7,193.5 483.6,187.4 434.6,124.9 492.7,193.1 497.8,177.2 375.2,121.1 451.3,193.6 495.4,55 381.5,180.1 359.9,195.1 464.7,193.5 362.7,69.2 362.7,172.3 495.9,157.1 429.2,171.3 408.4,196.3 433.8,166.4 496,171.2 375.9,124.3 495.2,164.6 434.2,160.7 432.8,174.5 515.6,172.7 494.5,186 392.5,145.7 385.9,164.1 343.4,193.5 361.3,158.8 507.5,194.1 378.5,173.1 430.8,118.1 450.9,190 434.4,115.1 490.5,153 493.1,43.8 384.5,195.6 367.7,106.6 362.1,137.8 371.1,195.9 434,158 351.4,192.1 437.3,193.4 431.6,194.6 337.7,196.6 433.6,146.8 379.8,66.5 330.8,192 491.4,46 378.1,193.2 355.3,172.6 337.9,145.5 380.7,181.5 360,87.7 366.6,149.3 372,66.4 469.2,172.7 385.8,139.1 361.2,195.2 441,158.4 496.3,191.5 490.3,117.3 368.5,41.2 441.6,172.6 490.9,157.1 491.9,62.3 444,191.8 376.2,143.9 371.1,132.2 361.3,186.3 368.1,196.9 434.8,189.4 383.3,133.8 431.1,97.5 436.2,62.2 493.8,73.9 492,151 367.1,107.7 374,155.8 350.2,196.7 429.7,193.1 368.7,146.9 405.6,194.6 363.5,196.9 380.1,187.2 492.4,76.3 489.4,133.2 496.5,114.1 380.2,48.3 425.5,115 434.3,125.6 457.2,192 437.6,163.5 499,177.5 365.8,109.1 333.7,189.9 359.6,194.6 367.3,40.6 431.3,147.6 488.9,173.1 432,106.8 383.1,159.6 405.4,194.5 370.9,131 478.3,196.5 492.6,110.8 436.1,172.9 379.8,144.7 492.8,190.2 364.9,168.4 339.8,189.8 353.1,196.8 435.2,172 511,172.3 338.2,172.5 366.6,178 373.2,158.9 444.5,189.9 334.8,194.3 362.3,120.6 505,195.5 377.2,123.4 501.3,172.6 380,190.4 368.8,130 431.3,164.5 381.5,166.8 490.3,66.6 362.3,113.3 409.5,196.4 494,151.6 446.8,151.3 371.6,175.6 373.6,84.4 450.6,189.1 376,135.9 412.7,193.2 378.7,161 368.7,191.3 367.5,74.1 486.4,144.6 428.7,188.9 360,147 443.1,197.1 380,170.5 364.6,146.1 365.6,91.5 491.5,145.7 374.2,119 336,195.6 469.9,180.4 437.2,112.7 428.2,196.5 433.5,178 457.9,189.2 495.5,141.4 363.4,138.8 492.8,78 362.4,137.2 431.9,154.7 433.3,98.3 381.3,179 368.3,50.3 464.1,193.4 525.2,191.2 371.8,126.1 516.6,193.3 379.3,146.9 465.7,192.6 404.4,193.3 491.8,143.6 362.5,195 349.5,189.3 370.4,72.3 490.8,89.1 447.2,196.3 358.9,130.5 492.4,145.2 491,103.6 379.2,146.3 402.5,195.2 370,73.6 434.1,112.6 352.2,172.3 368,77.7 374.9,74.4 383.9,87.5 489.7,194.7 492.2,147.4 403.9,192.7 429.3,176.2 495.5,32.5 490,90.8 496.5,124.7 377.7,196.3 376.6,88.2 436.5,103.9 370.7,54.9 365.6,172.6 483.6,190.8 441.2,190 503.1,173.3 341.3,190.2 382.1,141.8 432.5,186.7 475.2,173.6 382.2,83.4 438,144.4 454.9,190.3 491.8,124 437.7,86.6 495,187.6 388.9,189.5 356.8,189.8 498.7,147.1 435.7,93.4 359.6,173.2 381.1,156.6 362,108.3 461.1,195.8 360.7,185 499.8,192.8 378.5,141.4 372.1,29.8 496.2,192.6 382.4,192.4 494.2,45.8 496.4,111.2 370.6,48.5 382.3,157 490.3,145.1 524.2,172.8 360.3,125.8 359,158.2 498.7,135.3 496.6,85.9 442.7,192.3 355,177.8 353,192.6 368.9,94.3 376.3,97.9 378,193.3 438.5,150.2 384,187.3 500.5,172.8 378,189.7 440,135.7 434.8,189.6 357.4,151.1 461,196.3 494.8,125.3 496.5,168.1 379.6,131.9 373.8,85.2 426.5,194.9 382,142.8 427,115.3 367.6,57.4 490.5,118.4 362.9,161.7 365.3,161.6 439.9,98.8 364.8,106.5 341.7,193.2 384.9,191.4 435.6,144.9 439.3,121.8 352,190.7 377,93 369.1,150.8 384.4,190.9 359.5,94.3 387,197.1 362.6,128.7 447.2,194 434.7,166.6 489.5,137.2 485.4,190 495.7,175.2 374.6,176.9 343.2,145.3 356.3,157.9 440.8,119.5 336.1,173.1 360.6,125.2 498.5,164.5 370.7,165.7 331.3,189.8 429.5,125.3 428.2,166.2 489.3,150.8 494,66.5 363,140.9 438.7,160.2 380.8,87.5 373.2,119.3 489.5,90 370.4,161.3 379.8,113.5 373.7,100.1 346.2,196 519.5,187 380.5,194.7 429.8,146.1 493.8,165.2 493.7,82.4 376.5,90.7 433.4,95.3 360.3,193.7 403.6,180.9 419.4,193.9 365.7,89.9 493.2,52.6 376.3,84.8 481.5,107 376.9,139.7 416.5,182.5 382.2,194.2 367.1,115.4 362.4,165.2 375.8,89.3 371.1,55.3 363,71.3 372.8,144 366.9,102.3 366.2,153.3 517.6,194.7 438.8,97.7 497.5,135.1 333.9,190.4 496.4,66.7 526.8,194.8 335.4,192.1 502.4,195.9 369.9,196.1 355.1,179.6 357.5,189.9 515.3,191.9 373.9,172.6 439.3,100.1 495.9,191 491.3,133.7 366.8,183.8 392.6,195 432.7,194.3 361.9,141.7 443.8,181.6 493.8,64.5 360.2,134.9 495.6,128 450.7,192 439.3,179.6 371.4,122.8 373.6,107.3 361,96.5 496.5,139.7 350.8,108 492.1,104.9 349.1,194.7 356.1,141.3 378.1,53.1 437.5,162.1 378.5,43.7 381.3,156.3 536.1,190.2 430.7,167 441.8,171.7 495.9,187.5 368.9,194.3 480.6,195.2 463.7,195.5 373.4,75 432.3,75.2 439,160.8 335.1,192.8 340.2,195.6 363.8,160.8 373.3,46.1 384.1,195.8 360.2,196.3 439.5,152.2 370,167 372.2,189.9 365.9,93.3 362.4,82 343.1,195.4 433.2,137.3 490.6,120.6 375.5,164.2 432.4,62.2 369.8,100.6 378.1,115.5 497.6,59.9 435.5,55.4 496.7,181.2 461.7,194.4 499,179.2 436.1,190.1 463.8,193.5 385.2,179.1 370.4,137.3 369,178.1 501.8,181.4 369.8,55.5 357.8,196.9 365.5,182 376.7,57.5 450.9,195 494.1,188.5 380.9,64.4 439.2,193.5 341.2,194.7 382.7,110.7 378.7,99.3 361.6,192.6 488.3,140.8 418.7,172.7 436.8,136.5 363.7,190.6 502.7,172.8 504.9,189.6 357.4,147.6 368.6,156 363.5,96.8 383.7,111.3 494.2,76.3 365.3,133.9 339.2,191.5 479.6,145.3 493.4,120.8 398.1,171.8 487.9,134.2 382.2,180.4 497.2,171.2 523.8,189.3 440.1,149.3 492,193.3 354.9,190.8 375.5,86 500.9,185.8 495.1,165.5 356,192.4 489.8,160.7 374.5,107.1 507.5,189.5 338.5,181.7 430.6,191.5 375.6,72.6 432.8,84.8 492.9,88.7 376.4,181.4 437.2,156.6 444.2,189.9 435.6,195.2 522.6,194 349.9,193.9 362.6,86.4 500.9,187.6 332.3,190.9 403.6,172.8 364.3,186.2 365.4,68.9 363.8,112 431.2,182.7 365.9,192.8 493.1,175.6 376.7,75.6 488.8,165.7 381.8,107.2 491.5,110 472.2,172.6 491.6,41.6 338,192.6 433,172.2 378.7,71.1 357.7,182.1 371.5,95.9 377.5,191.7 346.8,189.2 377.5,104.2 353.4,189.8 470.9,194.6 376.5,194.7 384.3,189.2 364.2,121.5 365.7,59.9 376.6,98.1 388,193.6 364.5,53.1 366.6,185.5 385.6,193.1 432.2,175.7 502.3,172.6 440.1,169.3 365.5,113.8 365,193.6 364.2,86 490.9,34.8 455.4,190.6 491.8,111.7 473.8,194.7 383.8,188.3 381.9,190.3 431.5,195.3 489.4,91.7 381.9,34.6 370.9,122 425,172.6 371.9,158.9 495.7,192.9 440.4,193.3 493.2,43.8 414.8,196.7 530.9,195.2 429.4,131.3 432.1,162.9 382.5,192.7 483.5,194.3 349.9,172.6 524.3,195.5 486.5,166.8 370.4,107.3 370.4,163.4 493.3,34.4 381.4,166.6 377.8,128.4 497.1,126.3 409.6,189.7 384.1,143.3 495.2,160.3 369.4,151.8 433.3,168.1 477.4,191.2 360.4,193.2 335,196.9 357.3,151 493.5,173.2 433.6,152.9 370.4,103.3 444.5,197 432.6,137.8 497.9,187.1 369.7,66.7 359.9,126.9 424.2,184.1 498.1,175.3 490.7,174.8 455.3,196.3 403.2,196.5 397.1,182.6 493.7,81.5 376.7,177.6 434.2,38.9 441.1,193.1 379.6,94 437.5,87.9 375.7,31.2 484.3,193.8 440,82.6 437.2,135.6 474,194.5 366.9,135.1 497.1,62.4 344.9,193 370.1,193.3 438.4,159.4 393.2,195.9 376.3,186.7 374.6,52.7 495.6,195.5 495.3,94.1 524.7,195.5 506.9,196.6 487.9,172.5 364.7,173.5 361.6,185.8 464.4,193.8 499.5,148.5 354.9,190.1 428.3,151.1 491.3,87 435.3,64.3 473.4,192.8 460.7,193.3 428.5,172.5 383.4,189.2 436.2,185.2 438.7,139.2 375.6,140.8 521,193.8 396.1,189.7 377.2,124.7 375.8,190.6 494,41.6 431.1,143.6 468.1,195 374,118.2 358.1,141.1 373,185.2 379,151.3 409.3,192.2 383.7,50.7 497.2,169.9 437.3,168 382.8,194 379.2,82.6 372.5,100.4 495.6,78.9 330.1,193.6 439.7,107.9 429.4,191.5 377.1,55.1 366.9,127.3 373.5,132 427.7,193.7 382.2,194.3 486.6,152.3 430.8,182.3 400.3,195.1 379.1,162.7 434.8,155.1 453.8,189.9 515.1,172.8 494,76.8 493.2,157.6 437.6,126.4 368.5,31.3 361.6,82.5 535.7,196.8 405.9,195.3 432,112.3 331.4,172.5 495.7,174.4 488.9,82.6 437.7,104.3 508.1,194.1 429.7,176.6 362.6,192.5 374.7,189.9 447.9,196.3 475.6,192.5 349.8,160 477,195 348.6,192.4 440,119.6 417,192.1 370,95.9 377.1,145.6 335.4,191 392.5,196.3 373.9,188.4 376.4,178.5 363.7,102.8 378.9,69.3 367.7,163.3 498.9,194.8 473.8,173.7 489.3,126.3 375.1,48.3 531.6,191.9 463.5,196.6 499.4,194.1 487.5,113.7 437.2,143.6 492.8,52.7 437.8,108.1 373.1,190.7 365.8,163.6 493,157.2 369.2,144 371.1,155.2 476.9,192.9 470.2,172.7 410.5,192.7 488.1,180.8 514.4,191.9 424.7,195.3 368.9,70.7 358.7,123.7 383.7,104.3 483.9,194.7 376.7,41.1 412.2,172.8 497.8,188.5 360.5,179.7 363.2,102.5 476.3,192.5 369.3,45.8 379.4,135.5 453.4,191.7 365.1,172 333.1,194.8 370,28.6 363.5,167.6 434.7,34.4 385.1,137.6 452,190.3 376.7,188.5 437.6,162.5 508,196.5 382.5,191.1 439.3,194 417.5,187.2 504.2,195.8 347.5,183.7 333.2,197 519.7,196.9 364.1,120.1 458.7,191.6 437.2,29.8 359.7,185.9 383.8,114.7 348.5,172.4 496.2,98.2 480.5,193.1 431,117.2 339.7,145.3 490.4,77.4 425.8,195.7 368.6,59.9 408.8,194.3 431,181.5 447,145.1 434.2,96.3 489.3,154.3 407.5,193.7 496.4,154.4 390.9,190.3 428.6,189.7 499.2,153.8 370.1,170.7 494.4,159 491.1,133 348.4,194.3 491.8,152.8 354.4,177.9 430.8,107.9 433.5,111.6 372.1,97.5 358.7,195 362.9,169.7 375.7,121.5 489.1,64.7 439.6,191 489.8,188.2 498.7,132.2 498.3,177.1 498.9,192.2 373.7,149.5 513,172 357.2,187.7 345.2,190.5 534.6,194.3 370.7,180.2 466.9,172.4 491.4,123.8 366.9,195.8 390.9,172.5 359.6,163.6 370.5,192.1 476.8,190.4 382.5,68.8 381.5,103.4 421.1,190.1 420.9,191.4 492.3,52.8 490.8,114.6 371.9,176.2 343.8,145.2 434.2,92.3 361.1,129.5 483.5,194.2 370.7,90.4 492.6,132.9 371.5,169 364.9,163 434.5,133.1 394.3,190.1 453.9,191 434.9,125 493,142.5 493,183.3 384.9,186.4 372.7,71.3 405.8,189.4 491.2,137.1 518,194.4 379.9,70.4 435.9,77.6 337.6,192.9 520.8,189.1 492,53.2 367,110.4 366.9,180.1 366.4,136.4 437.4,168.9 525.8,192.9 492.4,195.6 361.2,192.5 379.7,103.2 396.4,191.4 372.3,48.3 490.7,178.3 453.8,190.4 365.8,151.5 365.4,113.7 478.9,192.1 377.9,127.6 493.8,181.9 358.8,146.5 387.1,177 342.9,196.6 515.4,196.4 382.1,160.9 375.3,57.2 369.2,124.7 497.8,192.4 374.8,86.6 490.7,115.6 498.3,186.5 472.9,189 498.4,196.3 456.1,173.6 495.3,105.6 348.5,183 371.3,155 383.6,79.9 362.3,123.5 493.8,59.5 361.2,106.9 439.9,169.2 498.1,127.1 356.6,152 382,190.7 346,196.2 523.5,195.5 486.9,139.6 500.3,197.1 370.8,100.2 407.8,191.6 435.6,96.7 490.5,161.3 496.5,194.9 493.3,39.1 379.2,76.8 383.2,172.9 482.7,193.3 492.8,161.7 437.8,196.7 373.5,146.4 361.9,180.7 429.7,163.2 492.3,182.2 438.2,114.5 361.3,172.8 373.7,187.6 492.3,153.7 378.6,64.6 436.5,173 492.7,109 495.6,173.8 366.7,64.3 360.8,147.4 493.5,189.4 353.8,186.7 373.2,80.6 375.3,191 379.5,123.4 368.2,192.7 529.8,192.9 492.7,82.8 374.9,155.2 371.9,175.5 460.8,189.6 497.2,196.4 491.6,57.8 385.4,184.4 386.6,191.2 337.2,145 437.3,178.5 429.4,114.8 535.5,193.4 386.4,194.2 500,135.8 372.8,164.9 357.1,186.9 438.5,179.4 495.5,170.5 473.7,172.3 366.9,148.5 357,186.5 495.3,61.9 365.2,195.3 520,192.5 489.8,166.8 492.2,25.2 490.5,160.1 484.7,173 497.6,137.7 438.4,174 350.5,192.8 405.2,183.2 487.8,147.8 365.9,126.8 489.9,172.1 437.4,113.6 380.1,149.2 413.8,195.5 435.3,136.2 438.1,111.2 521.9,195.5 356.1,195 495.1,37.1 356.9,192.4 369.2,160.1 442.4,194.8 379.8,192.3 361.3,136.5 430.6,184.7 330,194.8 370.7,192.3 474.1,191.5 490.3,133.5 432.5,159.7 373.7,123.7 435.1,103.2 398.5,196.4 345.4,196.8 466.1,195.9 414.5,172.7 376.4,188.1 365.2,179.8 380.8,117.7 355,183.9 369.7,43.4 488.7,121.1 364.8,195.1 476.5,190 422.7,195.1 480.2,172.6 367.8,122.3 380.1,57.7 433,54.9 376.6,195.4 361.2,105.9 373,168.9 364.8,190 375.3,59.8 362.5,165.6 484.6,191.3 366.4,64.3 342,192.8 492.9,194.2 487.8,132.2 371.7,157.5 433.3,146.7 383.7,36.9 496.1,192.2 489.7,194.8 373.5,48 525.3,173.3 489.9,188.8 369.5,160.7 491.9,29.9 381.8,140.8 376.5,91.3 362.1,168.2 373.2,140.1 337.8,196.8 432.2,194.4 378.5,125.8 492.4,98.8 373,192.1 387.5,190.8 480.7,195.3 366.5,145.7 493.8,105.8 368,84.5 434.5,134.9 368.1,191.8 492.1,135 381.6,156.7 433.7,180.4 376.6,176.1 373.3,108.7 377.2,97.7 492.2,45.9 492.9,64.7 370.7,44 421.6,197.2 373.8,133 360.1,167.8 385.2,148.9 495.1,57.7 431,121 374.8,28.1 341.8,192 429.9,170.2 499.5,172.5 339.1,144.9 489.4,194 435.2,120.2 366.3,174.8 524.5,195.9 475,194.5 450.5,193.8 490.2,36.6 488.1,134.6 433.4,130.2 407.2,173.1 466.8,191.1 479,194 401.4,195.7 494.1,196.2 358.7,195.8 379.8,131 435.2,123.7 440.5,193.8 497.7,168.6 493.4,73.2 492.8,75.8 361.4,171.6 379.2,112.8 382.8,188.1 495.7,146.4 369.5,119.8 377.6,169.3 408.5,197 433.5,118 528.3,191.1 375.7,116.3 480.3,193.6 492.7,52.9 376.3,142.4 435.7,165.6 363.6,190.6 355.7,191.8 440.1,173.1 367,92.4 382,193.2 480.5,195.6 378.8,194.4 363.2,131.2 438.7,158.4 360.4,174.3 392.6,173.2 437.2,173.2 353.6,196.3 436.2,166.7 377.9,69.2 494.9,180.6 494.1,159 491.7,74.6 374.5,196.8 491.4,189 500,136.3 366.2,78 355.4,158.2 499.5,191.5 489.8,185.8 522.1,190.7 373.5,72.8 434.4,191.4 494.5,111.4 468.4,183 379.7,112.7 355,181.4 354.4,167.4 495.9,145.5 500.7,176.7 529.4,190.7 527.1,193.4 363,137.1 402.1,194.6 452,172.8 439.4,70.8 363.7,196.4 369.2,89 375.4,177 435.4,172.7 370.1,50.4 432.1,195.9 384.2,193.8 504.9,191.6 380.7,64.7 402.2,194.8 473.6,193 492.1,104.8 479.4,184.5 435.4,94.3 506.5,196.6 490.5,178.8 376.3,130.8 456.3,189.2 471.8,173 434.1,100.5 359.4,145.2 492.7,66.8 457.5,190.4 379,139.6 482,190.6 346.6,190.7 499.1,173.3 361.4,124.2 364.7,50.7 367.8,52.6 409.1,196.6 364.6,171.5 386.4,166.9 486.7,180.4 370.3,53 441.8,137.9 489.9,167.2 436.6,193.2 431.3,186.7 429.4,108 383.9,169.4 378.8,194.7 335.4,195.8 492.2,102.4 497.1,168.5 382.5,171.2 505.3,190.7 436.3,27.4 504,163 364.6,132.4 436.1,94.4 408.5,194.6 434,118.9 406.4,172.4 364.9,50.6 433.4,125 381.8,189.3 432.8,129.7 440.5,186.2 365.7,98.9 379.5,139.7 382.7,64.2 377.4,64.2 461.9,183.8 382.8,96 493.8,190.9 436.4,119.1 498.1,185.4 434.2,192.3 438.3,126.9 362.2,108.9 370.9,125.1 493,108.5 523.6,191.7 380,153.3 490.2,43.9 364.8,189.1 375.4,30.9 488.6,192.5 419.2,196.9 496,187.4 433.7,167.4 379,108 360.3,151.8 418.4,193.8 388,196 364.5,139.3 433.2,118.2 335.1,192 372.9,172.8 375.1,88.3 487.2,173.1 435.9,190.6 368,180.8 359,192.6 524.5,173.2 492,32.2 368.6,144.7 497.6,168.7 364.4,48.6 438,128 362.7,94.6 361.6,196.3 378.6,157 370.1,182.7 380.1,173.3 435.3,139.6 395.3,190.6 365.8,117.3 501.2,171.8 414.6,192.3 382.5,144.2 421.8,172.1 465.7,189.3 345.5,145.6 358.1,194.7 363.8,161.7 495.3,176.8 380.1,189.4 385,120.3 399.7,195.1 485.6,181.2 394,145.5 362.4,114.6 500.6,190.7 437.7,123.7 376.7,72.4 362.8,106.5 370.7,154.7 451.9,196.2 440.7,115.8 349.5,194.2 339.5,193.6 364.8,185.7 374.5,154.4 365.1,124 369.6,155.3 340.3,189.5 440.8,103.7 467.3,197 436.1,100 369.8,91.9 366.2,190.5 382.6,190.3 352.8,190.5 492.5,39.3 433.8,68.8 379.3,134.7 433.2,132.3 353.3,190.9 525.8,172.4 491.6,127.1 439.3,153.9 382.7,176.3 378.1,78.8 496.3,131 494.1,50.4 436.2,117.6 381.2,107.8 383.1,192.2 375.9,185 495.1,192.6 331,195.5 382,148.5 382,174 379.7,148 470.7,194.4 372.5,139.1 487.6,178 487.9,192.7 432.3,192.2 386.6,172.3 400.4,192.9 486.1,196.8 344.8,190.2 458.5,173.4 378.2,183.7 376.4,173 373.3,110 422.6,194.3 409.3,190.3 486.5,195.7 440.1,75.1 440.7,110.7 372,177 520.2,172.7 526.4,189.5 491,32 494,143 474.8,189.2 438.3,190 482.3,189.7 367.3,106.3 420.6,193 377.8,191.6 364,145.4 438.8,70.2 358,172.3 354.5,173 368.1,81.4 373.4,136.6 513.5,192 358,168.3 376.9,55.2 361.3,133.2 529.7,194.6 378,166.3 371.9,40.6 345.8,173.5 383.3,147 493.2,27.9 375.9,113.2 362.3,130.4 493.6,79.1 456.8,191.5 447.9,194.3 472.1,189.8 383,173.6 441.6,195.5 336.7,196.2 490.5,46.3 340.2,189.5 434.7,185.1 432.6,117 372.8,117.7 362.8,183.7 443,189.7 433.7,57.3 380,41.7 437.7,192.8 464.8,194.8 350.7,195.7 380.6,166.5 486.7,181.2 341.5,192.8 377.7,99.4 431.2,174.7 375.2,104.8 330.1,192.4 367.2,43.9 496.5,108.2 434,45.9 395.6,194.7 381.1,177.4 442.8,172.9 491.1,94 378.5,195.4 438.6,177.7 406.5,189.3 415.4,193.3 503.4,196.4 466.8,189.1 436.8,172.4 499.5,195.1 344.7,195.5 495.8,122.3 488,194.4 371.8,86 498.6,118 380.3,161.3 495.7,191.8 435,161 379.9,94.8 434.2,161.2 364.9,99.6 366.3,193.9 493.4,180.6 368.1,173 465.7,194.2 485.8,195.4 364.3,66.5 379.1,112.1 399,195.7 360.7,113.7 374.5,120.7 375,170.3 432.8,107.4 488.8,162.2 385.2,170.5 373.3,173.6 434.8,34.5 377.6,162.6 436.8,162.1 369.3,159.5 431.7,185.6 496.5,150.2 365.9,150.6 450.4,191.3 487,148.7 352.8,136.3 491.5,173.9 368.2,195.4 356.2,137.3 401.8,183.1 505.2,193.4 436.8,191.8 514.3,196.8 474.9,189.3 494.2,48.5 485.5,136.3 370,163.4 519.8,192.2 348.6,164 444,191.4 371,135.3 336.6,173.4 489.5,69 459.6,194.2 383.6,190.8 435.1,120.6 415.3,196.2 444.4,136.3 379.8,126.7 391.6,189.5 361.7,152.2 384.7,166.7 434.8,182.9 448.2,194.4 440.5,158.7 496.9,129.9 501.6,173.2 355.6,154.4 385.6,163.9 489.9,192 439.9,166 487.7,157.7 490.9,39.2 379.2,55.1 435.9,176.4 368.6,191 430.8,166.2 359.1,143.1 440.8,187.2 497,190.2 433.3,132.9 434.2,126.1 379.6,189.9 430.6,109.6 386.6,174.7 380.4,53.1 365.6,64.5 439.5,87.9 438.4,170.8 374.3,188 494.1,43.7 381,166.3 491.5,48.6 380.2,115.7 365.3,153.3 491.1,143.8 346.5,191.9 437.8,88.1 379.8,129 357.8,189.8 501.2,190.7 359.9,119.2 436.8,66.4 492.6,93.3 428.3,196.3 529.7,192.7 366.4,169.2 455.2,196.3 437.6,66.9 434.4,180.6 395.2,173.2 370.1,143.4 370.2,191.9 493.3,59.9 355.7,194.7 466.5,189.1 436.4,172.8 473.9,172.4 380.7,130.1 363.4,141.8 341.2,197 435.1,138.7 364.3,125 354.2,194.1 374.6,28.7 500.7,172.7 385.2,193.1 430.3,178.6 356.6,170.3 436.7,46.3 491,55.4 358.2,107.4 504.2,192 486.3,194.2 517.5,191.4 492.6,172.5 524.8,194.9 374.7,190.6 502.3,195.4 378.3,101.6 493.8,36.7 440.1,153.6 437.3,121.9 377.5,185.4 378.1,28.4 433.2,152.2 484.5,166.2 380.1,181 430.6,192.3 404,195.5 431.3,181 495.8,189.7 403,184.3 370.5,173.9 493.9,30 443.8,182.1 498.8,163.4 478.5,195.7 371.6,40.3 429.7,129 428.4,156.6 331.1,173.2 372,41.2 359.8,190.7 443.2,191 384.3,130.1 433,147.7 416.6,192.5 379.5,72 364.2,189 388.7,135.8 439.8,190.7 487.5,182.6 515,191.1 361.8,196.1 365.4,41.1 372,83.1 493,183.6 497.6,193.2 378.2,101.5 478.4,173.4 362.5,106.1 487.4,194.6 490.4,138.3 492.6,132.5 395.7,173.4 429.5,178.2 508.8,192 470.4,191.9 435.6,191 523.7,195.3 380.8,192.9 383.4,137.5 344,173.8 438.7,159 447.9,194 414.6,197.1 364.2,143.8 353.2,190.2 368.6,152.9 363.5,79.2 435.5,85.9 490.6,45.8 433.3,188.4 483,173.8 435.8,94.6 367.4,163.5 492.9,131.9 423,145.3 384.9,195.1 491.7,185.2 368.6,104 346.2,196.2 491.3,163.3 371.8,28.4 526,195 364.5,40.2 379.9,73.9 392.2,189.4 404.1,191.6 431.2,182.9 441,197 364,115.7 335.1,173.9 373.5,162.4 348.4,195.1 386.1,172.7 489.8,153.3 358.4,119 374.6,125.1 427.5,172.4 439.5,194.5 359.5,196.7 371.6,69.2 378.1,85.9 367.4,172.7 493.4,59.9 367.3,165 406.5,192.9 438.7,188.9 473.5,192.4 359.6,139.6 430.7,184.8 408.3,191 475.9,186.6 423.6,171.9 489,189.8 365.5,165 374.1,168 452.5,191.6 494.3,45.7 377.4,122.8 348.3,193.4 493.6,121.7 439.5,191 376.4,173.1 494,99.1 361.6,189.2 367.6,62.2 372.7,196.4 494.3,57.2 388,190.7 487.4,152.9 433.1,50.3 519.9,193.8 368.2,40.2 515.9,192.5 364.6,89.6 436,172.9 381.1,44 381.7,111.4 379.8,186 395.3,196.4 486.2,194.3 494.2,90.5 492.8,109.2 378,98.6 440.5,112.7 433.5,77.9 379.3,126.8 449,173.6 344.7,145.1 363,160.2 365.6,154.7 436.8,125 377.3,136.6 335.4,172.7 383.5,48.6 491.9,146.6 376.2,182.8 487.9,172.7 396.8,173.2 371.7,196.7 398,196.6 377.4,179.5 479.9,194.5 369.7,191 377.8,151.7 346.9,193.2 492.1,79 367.8,132 457.3,185.6 380,52.9 489.8,165.4 373.7,104.8 362.9,112.7 433.1,90.4 496.6,177.9 530.6,195.4 485.3,178.7 495,164.1 375.5,130.2 447.9,173.2 432.9,108.2 361.8,94.3 434.9,135.1 500.6,166.2 364.4,114.4 368.4,94 430.7,117.8 364.1,179.6 528.5,193.4 435.8,164.7 379.8,113.3 360.6,173 382.4,43.5 365.8,190 436.2,116.1 338.6,173 363.7,101.6 366.1,110.9 481.5,151 387.1,172.6 424.7,172.4 344.7,183.3 366.5,175.1 436.5,97.6 518.3,194.1 503,195.2 367.3,64.6 521.1,193.5 433.5,134.1 488.4,114.2 382.1,137.9 368.4,171.7 455.6,192.2 369.5,180.7 434.5,149.4 488.5,194.2 364.8,172.3 439,183.3 370.1,120.9 354,175.1 492.1,192.8 400.9,191.9 353.5,187.8 457.5,173.1 369.2,135.9 495.7,119.1 383.9,145.2 490.9,121.7 379.5,29.8 366.7,119.5 530,194.2 355.9,192.8 363.6,151.9 374.5,190.3 339.2,172.8 533.6,192.3 438.3,141.4 375.8,57.3 378.1,152.1 488.8,128.7 495.3,128 412.1,193.3 364.3,62.3 331.3,189.9 400.1,194.3 372.2,30 431.8,150.9 446.6,196.6 432.4,178 366.9,189.1 369.2,53.2 367.9,172.5 434.8,114 494.6,108.4 352.5,194.8 490.1,142 436.3,105 496.1,189.7 439,72.9 433,142.8 384.5,146.4 375.4,128.2 380,81.4 491.6,185.4 489.5,189.9 439.8,169.8 382.4,166 379.7,132.3 367.5,50.9 500.5,167.4 373.8,164.8 476.1,189.8 432.1,175.1 377.2,194.9 433.8,176.9 384.5,138 435.3,188.5 360.3,195 494.2,157.5 435.7,174.6 436.2,127.3 377.5,110.2 375.5,131.4 368.5,67 501.1,189.5 438.9,74.1 438,141.3 427.9,195.9 370.9,55.3 357.8,193.8 366.3,172.7 370.8,146.2 384.4,131.4 436.6,151.3 376.6,188.1 369.4,158.8 434.8,76.7 501.7,190 372,116.7 364.1,110.1 373.6,197.1 366.4,111.7 492.8,116.7 381.6,111 436.9,94.6 350.5,195.7 520.4,197 538.4,182.3 443.3,157.7 493.2,101.3 372,88.5 368.5,173.1 432,137.8 369.1,186.2 420.7,190.9 385.5,193.5 450.7,193.5 373.6,193.6 362.5,173.5 352.3,193.6 492.2,141.4 377.5,190.5 439.2,172.7 492.5,102.5 433.5,78.2 366.9,133 375,141.1 527.1,192 493.9,36.7 361.6,101.5 373.5,29.6 383.8,195.8 490.5,146.8 526.6,193.8 424.5,145.4 362.5,129.9 386.4,195.6 500.8,187.8 470.1,190.5 361.7,142.4 442.8,193.7 432.5,46 495,176.2 377,147.3 363.5,127.7 369,90.8 490.1,55.3 361.7,132 419.1,172.7 370.4,106.6 363.8,186 433.8,76.5 381.4,143.4 492.1,43.6 433.2,163.6 437.8,123 493.9,34.3 495.9,143.4 469.5,194.7 510.7,191.8 526.6,172.4 493.5,117.7 433.8,41.4 346.4,182.1 387.4,189 381.2,126.1 491.7,190 426.4,173.1 436.4,177.7 492.9,122.4 450.1,195.6 387.6,191.5 402.8,196.3 382,127 341.2,173.3 371,135.8 495,57.8 380.9,118.6 464.8,192.8 450.7,194.2 357.7,168.3 436.9,48.3 496.9,190.1 434.7,176.2 493.6,187.5 345.2,189.3 501.9,183 368.4,45.7 488.3,27.3 378.3,77.8 364.2,182.9 493.3,117.7 492.9,134.2 494.4,88.2 381.3,31.2 453.6,196.8 519.7,192.9 363.3,194.3 434.6,189.3 493.7,191.5 488.7,39.3 355.7,192.1 475.2,191.7 437.2,90.5 377.6,133.5 361.6,105.3 436.9,122.3 428.7,181.5 494.6,163.8 490.4,39.4 365.2,89.3 484.9,194.4 498.2,175.4 434.2,143.2 347.2,145.5 377.7,112 331.7,196.8 345.3,172.5 378.8,153.8 379.4,162.3 362,126.8 483,107.2 530.3,190.7 429.9,188.8 373.6,160.9 382.5,138.9 434.1,145.6 496.7,181.7 499.1,184.1 347.1,192.4 492.2,25.3 374,110.5 370.5,191.1 379.6,109.6 413.5,192.6 407.8,192.1 355.9,172.4 361.7,99.2 533.6,173 383.9,129.6 437.8,161.6 434.7,192.2 349.5,179 375.3,153 435.3,195.7 374,171.6 435,66.5 437.4,177.2 373.9,192.3 471,194.1 383.7,99.8 518.5,192.6 431.7,34.3 368.9,97.3 439.4,163.9 486.6,191.6 380.1,133.8 439.8,190.7 449.1,172.8 491.9,113.6 437.6,68.9 355.5,152.1 366.1,94.9 493.5,137.4 383.4,115.7 472.3,196 372.8,30.8 377,111.2 373.8,74.8 377.7,178.9 345.1,191.5 425.8,171.7 366.4,68.8 374.1,117.1 492.6,77.5 365.1,129.8 434.9,127.2 491.2,107.2 466.3,192.6 365.8,121.1 491.9,126.9 337.5,184.4 350,163 494.6,189.2 356.5,189.8 378.9,53.2 491.3,103.3 434,78.9 438.2,111.6 370.4,48.1 379.4,160.4 470.8,173.1 354.5,156.8 375.5,178.7 426.4,135.8 381.6,193.2 493.8,91.8 365.6,149.4 493.1,170.9 439.4,128.8 492.8,68.9 438.7,186.2 370.7,169 379.5,95.9 491.3,144.1 398,196.7 496.7,111.2 360,145 502.8,195.3 385,159.3 432.7,122.5 379.8,129.6 374.3,193.8 381.3,195.4 488.8,106.7 356.9,155.9 384.1,161.7 377.1,128.6 432.5,189.1 494.4,139.4 439,174 379.9,166.2 379.6,142.1 466.2,187.1 366,181.1 357.3,180.9 358.2,194 495.2,186.9 369.5,190.5 447,196.3 435.8,71.8 371.5,180.7 373.3,28.5 374.8,189.7 357.2,189 406.4,189.4 360.9,161.4 420.6,195.6 366.6,160.5 446.7,189.1 499,189.7 526.5,189.2 368.3,79.7 365.2,122.2 495.1,96.4 465.6,192.8 364.5,192.3 435.3,151.6 496.3,177.5 362.4,125.5 363.8,62.3 403,173.1 521.2,190.2 408.2,190.8 433.9,27.8 379.6,137.4 510.7,196.2 335,194.3 356.2,191.8 503.2,193.6 488.7,105.1 362.4,91.5 493.4,72.5 361.9,174.9 437.1,131.7 490.8,172.7 486.2,176.9 362.6,142.9 438.6,190.9 375.6,128.4 366,41.3 374.4,119.3 492.1,153.2 355.8,172.3 495.4,88.8 497.8,172.1 378,99.9 492,81.8 359.4,173.4 442.3,190.7 443.3,173.9 525.6,196.5 377.3,136.1 367.5,166.2 486.7,189.2 380,174.1 529.1,172.7 392.4,194.5 393.7,173.4 406.4,193.3 338.7,190.1 451.6,194.8 385.1,191.4 368.5,89.4 527.6,194.1 485.9,164 379.5,93.1 493.7,83.4 334.8,191 439.4,74.8 515.1,172.3 375.8,97.8 429.1,164.3 388.2,190.2 442,196.1 361.8,78.3 485.9,182.4 494.7,154.2 402.4,189.4 366.2,28 381.1,186.1 419.8,191.2 355.5,195.1 364.1,172.9 383.3,101.9 377.9,179.3 358.3,95.5 489.8,86.5 371.6,48.4 488.8,127.8 430.6,194.3 514.4,173.1 495,165 399,193.5 486.2,162.4 465.6,195.1 518.9,187.1 382.8,157.4 381.1,41.6 360.8,145.3 376.7,161.9 471.4,192.2 364.8,64.6 373.4,185 371.8,94.6 467.4,194.9 497.1,175.7 493.4,191.6 495.4,179 375,31.1 374.4,125.1 362.2,114.4 488.4,194.1 436.2,117 523.4,192.6 391.4,191.9 360,147.6 353.3,193.1 456.3,171.7 356,159.5 496.2,132.7 380.2,45.9 362.2,190.5 371.4,91.3 354.1,189.6 412.5,189.9 443,189.4 365,75.9 357.9,143.6 467.5,189.4 373.4,66.5 491.1,52.6 503.6,172.3 382.6,104.5 373.1,131.3 368.5,72 430,178.6 369.6,184 485.6,190.5 385.9,154.4 381.6,87 368.5,64.7 446.9,195.4 432.2,191.6 353.3,168.7 532.2,192.4 363,191.5 382.5,79.2 370.4,138.9 362.8,127.7 438.1,159 381.5,62.3 494.2,69 496.8,133.4 382,193.9 376.3,155.7 360.7,93.2 435.3,91.5 368.6,157.7 492.1,119.7 441.2,178.4 439.8,137.5 494.1,109.8 531.3,193 383.6,194.1 375.2,178.3 368.4,120 378,148.8 475.3,196.1 363.1,166.8 405.7,193.7 330.9,192 375,107.8 366.9,57.3 359.8,194.6 376.3,162.3 376.8,59.7 368.3,189.4 420.1,173.6 368.9,171.6 407.1,192.2 381,130.1 487.8,193.9 365,160.4 501,180.2 438.2,173.5 384.2,191.8 465.7,181.1 458.2,195 495,123.3 515.4,191.9 452,194.5 439,151.9 435.7,165.5 335.8,184.9 366.8,170.8 436.9,196.5 446.6,189.1 499.8,192.3 527.2,196.5 497,194.5 380.4,119.8 368.5,135.2 495.5,195 494.4,59.9 492.9,194 435.2,179.7 379.2,108 441.9,186 419.3,191.1 340.3,194.6 496.8,185.4 492,75.7 493.6,62 363.9,190.8 484.9,192.6 488.4,192.9 435.8,151.1 457.5,190.7 356.9,138.4 346.4,191.9 339.4,191.6 396.5,173.2 390.5,163 355.8,166.3 361.5,195.9 382,39.4 363.7,187.6 384.3,187.5 372.3,74 434.6,194.1 437.8,165 366.2,138.7 492,27.9 358.6,133 436.9,189.6 498.5,196.9 400.2,173.3 371.5,29.6 359.1,190.4 492.8,48.3 369.4,91.8 441.7,192.8 423.7,190 488.1,100.8 431.1,158.2 379.6,31 365.6,176.2 512.9,192 496.4,150.6 361.6,190.6 499.3,167.4 495.8,92.4 490.9,93.2 442.1,194.4 366.5,133.9 382.1,114.7 494.6,39.2 446.6,192.6 496.5,123.9 397.4,193.9 434.5,187.5 497.9,192.4 373,48.5 490.8,120.2 495,64.5 352.6,108.3 361.4,158.8 495.7,148 342.1,192.3 367.7,128.4 500.9,189.6 339.5,181.7 386.5,168.2 356.1,162.5 372.7,158.9 435.4,59.7 442.2,174.3 493.3,152.2 521.9,194.2 372.1,168.9 398,193.8 490.6,179.7 371.4,164.7 438.3,88.3 369,165 496.7,196 360.3,193.5 376.2,127.1 369,45.9 380.1,29.7 435.1,43.5 356.6,183.3 427.2,173.4 470.7,191 431.3,175.2 370,55.1 486.7,133.4 497.4,192.2 360.3,133.5 373.6,41.4 431.1,179.9 433.6,157.1 437.2,183 436.5,167.3 439.3,146.9 365.7,197 491.3,53.2 492.3,39.4 397.2,193 512.8,172.8 494.5,104.5 368.2,122.2 343.3,172.7 363.2,101.1 373,80.5 438,195.4 402.8,185.5 490.7,161.8 408.7,190.5 429.6,143.3 437.6,138.2 426,194.5 490.7,39.1 380.4,40.3 362.6,151.5 429.4,190.5 377.8,69.2 374.8,28.6 435.6,73.4 378.4,59.8 438.5,121.3 438.2,144 470.3,193.9 436.2,156.4 435.1,196 384,132.5 453.7,190.4 366.9,43.4 365.6,88.8 381.6,173.3 436.6,140.4 371.9,28 531.7,191.5 376.5,175.7 437.8,173 376,173.2 434.6,45.9 385.8,158.9 359,183.9 378.6,79.2 385,155.6 479.4,190.7 527.9,193.7 373,150.2 385.2,178.1 384.9,189.3 378,179.2 452.6,173.4 503.9,195.2 435.6,173.2 439.2,190.6 374.8,76.3 353.1,181.9 405.8,189.1 490.8,149.7 377.8,45.7 495.7,195.9 513.3,181 433.2,153.3 362.2,149.6 387.5,165.1 371.5,108.4 380.1,184.9 379.3,137.2 378.6,185.5 464,195.1 377.5,190.2 378.9,124.4 500.1,180.7 367.7,54.9 453,190.4 367,162.6 368.2,116 486.7,161.8 372.2,188.2 436.1,193.8 365.6,111.1 377.5,183.5 401.4,195.5 431.8,185.8 395,172.8 393.4,194.2 433.2,133.4 437.5,138.9 491.6,43.6 437.6,137.6 492.5,62.4 374,88.8 361.8,184.9 509.1,195 487.1,178.5 429.9,186.9 433,150.2 497.5,189.8 364.5,160.3 436.2,163.1 452,194.5 498,126.8 379.5,30.7 438.7,116.7 355.6,167.5 352,194.3 376.7,192.4 502.7,173.7 493.5,122.8 402.7,195.5 430.2,131.7 494.5,91 515.2,190.3 384.4,172.9 493.6,170.4 494.4,46 419.2,193.8 493.9,74 492.6,157.3 496.4,195.4 476.7,189.6 433.1,171.3 379.2,59.8 428.1,192.8 368.4,176.2 367.1,98.1 491.5,74 478.9,191.7 331.9,195.2 437.6,177.3 499.1,169 374.5,168.7 441.8,194.4 373,190.1 491,66.7 488.5,185.8 365.6,43.9 403.3,173.2 372.6,187.5 486.1,150.4 382.8,143.9 523.8,191.1 416.5,189 490.9,107.9 383.9,144.8 345.8,192.2 492.2,190.3 472.4,173.4 489,137.9 378.5,132 380.9,61.9 364.2,136.3 365.9,82.2 490.9,27.3 377.3,102.9 470.2,192.3 370.2,131.5 369.1,191.7 374.1,166.9 496,130.3 431.7,79.2 382.5,125.1 438,125.7 507,194.3 439.6,77.3 437.7,86.6 521.7,192.3 455.1,173.1 356.2,184.7 342.5,145 359.7,162.1 496.6,119.7 439.9,120.7 393.9,193.5 440,184 441,158.7 375.1,129.1 487.8,128.3 486.4,184.5 492.2,25 494.1,80.3 491.9,155.3 522.9,196.3 434.7,75.6 435.1,186.5 380.2,104.9 498.6,191.4 493.5,43.5 366.3,164.4 440.8,148.5 363.2,166.4 370.2,98.7 493.7,128.9 465.1,173.5 434.2,129.2 429.2,195.2 472.5,191.2 353,172.6 431.5,167 494.4,75.3 489,189.6 436.7,92.9 381.1,189.1 445.7,181.5 356.9,191.1 444.8,191.1 367.6,168 487.3,149.2 415.9,194.8 366,194.2 378.8,169.7 370.2,107.3 351.1,193.1 498.8,195.5 357.2,196.2 441.2,194.6 372.6,176.5 369.9,193.6 379.9,40.1 495.1,190.5 488.4,159.1 364.7,96.1 434.6,132.7 436.1,173.1 378.5,158.4 531.5,189.6 367.2,181.3 432,90.9 408,173.2 407.1,191.2 450,197 516.2,190.9 370.4,93.6 431.6,96.1 496.6,179.7 434.5,172.7 416.4,195.8 375.3,172.8 378.2,195.8 343.4,196.4 356.9,163.8 436.1,153 430.8,190.2 368.1,118.6 528.6,194.2 428.3,172.4 387.3,178.2 359.5,171.7 487.1,197.1 488.7,48 489.1,190.5 379.3,66.6 436.2,101.3 386.7,194.2 342,191.7 374.3,103.3 381.9,144.5 378.7,48.5 442.7,179.1 379.7,157.1 438.6,154.7 362.5,195.5 491.9,190.1 383.2,177.7 375.6,124.7 367.5,193.5 357,192.9 377.4,116.7 437.4,118.2 360.4,156.2 455.6,196.3 344.7,194.6 367.7,59.6 434.6,151.1 492.7,191.6 443.3,197.2 376.5,137 373.7,173.3 386.9,135.8 457.2,195.1 430.6,195 391.8,173 334.9,197 462.9,194.5 509.9,191.3 516.3,194.3 431.5,153.2 491.3,119.6 502.5,172.2 357,182.7 497.4,114.8 511.6,173.3 360.7,108 492.1,88.3 359.5,153 361.2,100.9 383.8,164.4 457.4,186 433.2,113.3 344.5,195.5 490.2,34.8 495,170.9 428.6,146.5 379.9,193 380.4,99.9 500,181.8 483.7,135.8 386.7,189.9 436.7,101.8 425.7,189.8 525.3,196.6 492,91 372.5,41.4 369.7,165.2 434.1,148 362.5,154 438.9,160.7 523.5,189.2 381.3,108.8 467.1,192.6 377.2,50.6 375.8,41.5 368.7,149.8 469.4,191.5 367.7,132.6 471,192.1 368.8,127.9 367.6,187 352.7,172.9 437.6,50.4" fill="none" stroke="none" marker-start="url(#mk)" marker-mid="url(#mk)" marker-end="url(#mk)"/>
<polyline points="329.5,203 331,199 333,195 335,192 338,189.5 341,188 345,186.5 348,185 349.5,182 350.6,172 351.5,160 352.6,143 355,112 358,79 360.5,68 362.4,63 364.2,61 369,60 373,59 377.3,57.8 379.8,59.3 381.6,65 383.5,80 386,112 388.6,143 390.5,170 392,190 393.5,199 395.4,203 397,201 399,198 402,196.5 406,195.5 412,195 418,194.5 421,193 422.5,188 424,173 427,143 430.4,79 433.5,54 435,48 436,46.5 437,48 438.5,54 442,79 444.4,143 446,170 447.4,185 448.6,200 450.5,207.5 452.6,209.6 455,208.8 459,207 467,205 475,204 478,201 480,190 482,170 484,143 487.4,79 490,50 491.4,43 492.3,41 493.3,43 494.9,50 498.4,79 501,143 503,165 504.5,180 507,200 510,211 512,213.6 513.5,212 515,209 519,205 525,203 532,202.3 538.5,202" fill="none" stroke="#00FF00" stroke-width="1.0" stroke-linejoin="round"/>
<polyline points="329.5,203 331,198 333,193 335,189 337,186 341,181.5 345,179.3 348,178 349.3,176 350,172 351,160 352,143 354.3,112 357.2,85 358.6,74 360.5,63 362.5,57 364.2,54.3 369,53 373,52 377.3,51 380.4,52.4 382,56 382.9,61 385.3,80 387,112 389.3,143 391,168 392.5,183 394.5,191 396.5,194.5 398,195 400,192.5 403,189.5 407,188 413,187.5 419,187 421,186 422.3,181 423.5,170 426.3,143 429.7,79 433,52 435,46 436,44.2 437,46 439,52 442.7,79 445.2,143 447,165 448.5,182 450,196 452,201.5 454,202.6 456.5,201.5 461,200 469,198 477,197 479.4,194 481.4,184 483.3,143 486.7,79 489.5,49 491.4,41 492.3,39 493.3,41 495.4,49 499.2,79 502,143 504,165 505.5,182 508,198 511,206 513,207.6 514.5,206 516,203 520,199 525,197 533,195.6 537,196.4" fill="none" stroke="#e0102a" stroke-width="0.9" stroke-linejoin="round"/>
</g>
<text x="45.6" y="20.7" font-size="12.0" text-anchor="end">200</text><text x="324.4" y="20.5" font-size="11.3" text-anchor="end">200</text><text x="45.6" y="65.8" font-size="12.0" text-anchor="end">150</text><text x="324.4" y="65.6" font-size="11.3" text-anchor="end">150</text><text x="45.6" y="110.8" font-size="12.0" text-anchor="end">100</text><text x="324.4" y="110.6" font-size="11.3" text-anchor="end">100</text><text x="45.6" y="155.9" font-size="12.0" text-anchor="end">50</text><text x="324.4" y="155.7" font-size="11.3" text-anchor="end">50</text><text x="45.6" y="200.9" font-size="12.0" text-anchor="end">0</text><text x="324.4" y="200.7" font-size="11.3" text-anchor="end">0</text><text x="45.6" y="245.9" font-size="12.0" text-anchor="end">-50</text><text x="324.4" y="245.7" font-size="11.3" text-anchor="end">-50</text><text x="51.4" y="260" font-size="12.0" text-anchor="middle">28</text><text x="329.4" y="258.3" font-size="11.3" text-anchor="middle">28</text><text x="70.2" y="260" font-size="12.0" text-anchor="middle">30</text><text x="371.4" y="258.3" font-size="11.3" text-anchor="middle">30</text><text x="89" y="260" font-size="12.0" text-anchor="middle">32</text><text x="413.4" y="258.3" font-size="11.3" text-anchor="middle">32</text><text x="107.9" y="260" font-size="12.0" text-anchor="middle">34</text><text x="455.4" y="258.3" font-size="11.3" text-anchor="middle">34</text><text x="126.7" y="260" font-size="12.0" text-anchor="middle">36</text><text x="497.4" y="258.3" font-size="11.3" text-anchor="middle">36</text><text x="145.5" y="260" font-size="12.0" text-anchor="middle">38</text><text x="539.4" y="258.3" font-size="11.3" text-anchor="middle">38</text><text x="184.9" y="260" font-size="12.0" text-anchor="middle">506</text><text x="222.8" y="260" font-size="12.0" text-anchor="middle">510</text><text x="260.6" y="260" font-size="12.0" text-anchor="middle">514</text><text x="156" y="282" font-size="13" text-anchor="middle">Time [s]</text><text x="434" y="282" font-size="12.9" text-anchor="middle">Time [s]</text><text x="137.7" y="313" font-size="12" text-anchor="middle">(<tspan font-weight="bold">a</tspan>)</text><text x="415.4" y="312.8" font-size="12" text-anchor="middle">(<tspan font-weight="bold">b</tspan>)</text><text transform="translate(17.2,130.5) rotate(-90)" font-size="13.6" text-anchor="middle" textLength="173" lengthAdjust="spacing">2*Pitch [°], Longitudinal [m]</text><text transform="translate(298.2,130) rotate(-90)" font-size="12.4" text-anchor="middle" textLength="153.4" lengthAdjust="spacing">2*Pitch [°], Longitudinal [m]</text>
</svg>
</body></html>
